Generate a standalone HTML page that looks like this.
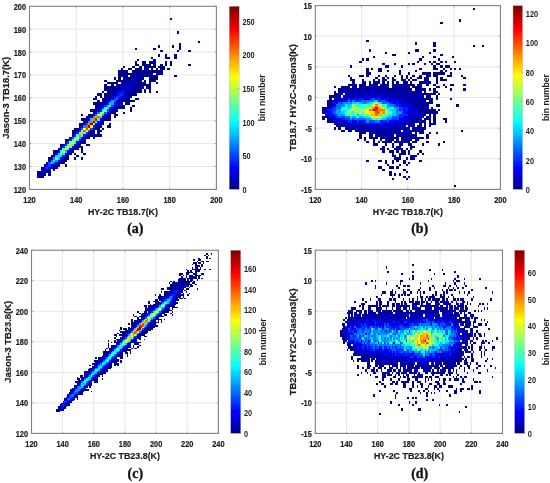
<!DOCTYPE html>
<html><head><meta charset="utf-8"><style>
html,body{margin:0;padding:0;background:#fff;width:550px;height:483px;overflow:hidden}
svg{display:block}
.tl{font-family:'Liberation Sans', Arial, Helvetica, sans-serif;font-size:8.2px;fill:#1e1e1e;font-weight:bold;stroke:#1e1e1e;stroke-width:0.2px}
.cl{font-family:'Liberation Sans', Arial, Helvetica, sans-serif;font-size:8.2px;fill:#1e1e1e;font-weight:bold}
.xl{font-family:'Liberation Sans', Arial, Helvetica, sans-serif;font-size:8.9px;fill:#1e1e1e;font-weight:bold;stroke:#1e1e1e;stroke-width:0.2px}
.yl{font-family:'Liberation Sans', Arial, Helvetica, sans-serif;font-size:9.4px;fill:#1e1e1e;font-weight:bold;stroke:#1e1e1e;stroke-width:0.2px}
.bl{font-family:'Liberation Sans', Arial, Helvetica, sans-serif;font-size:8.6px;fill:#1e1e1e;font-weight:bold}
.pl{font-family:'Liberation Serif','Times New Roman',serif;font-size:14px;font-weight:bold;fill:#111;stroke:#111;stroke-width:0.35px}
</style></head><body>
<svg width="550" height="483" viewBox="0 0 550 483">
<defs><linearGradient id="jet" x1="0" y1="0" x2="0" y2="1"><stop offset="0.01" stop-color="#800000"/><stop offset="0.02" stop-color="#8f0000"/><stop offset="0.04" stop-color="#9f0000"/><stop offset="0.05" stop-color="#af0000"/><stop offset="0.07" stop-color="#bf0000"/><stop offset="0.09" stop-color="#cf0000"/><stop offset="0.1" stop-color="#df0000"/><stop offset="0.12" stop-color="#ef0000"/><stop offset="0.13" stop-color="#ff0000"/><stop offset="0.15" stop-color="#ff1000"/><stop offset="0.16" stop-color="#ff2000"/><stop offset="0.18" stop-color="#ff3000"/><stop offset="0.2" stop-color="#ff4000"/><stop offset="0.21" stop-color="#ff5000"/><stop offset="0.23" stop-color="#ff6000"/><stop offset="0.24" stop-color="#ff7000"/><stop offset="0.26" stop-color="#ff8000"/><stop offset="0.27" stop-color="#ff8f00"/><stop offset="0.29" stop-color="#ff9f00"/><stop offset="0.3" stop-color="#ffaf00"/><stop offset="0.32" stop-color="#ffbf00"/><stop offset="0.34" stop-color="#ffcf00"/><stop offset="0.35" stop-color="#ffdf00"/><stop offset="0.37" stop-color="#ffef00"/><stop offset="0.38" stop-color="#ffff00"/><stop offset="0.4" stop-color="#efff10"/><stop offset="0.41" stop-color="#dfff20"/><stop offset="0.43" stop-color="#cfff30"/><stop offset="0.45" stop-color="#bfff40"/><stop offset="0.46" stop-color="#afff50"/><stop offset="0.48" stop-color="#9fff60"/><stop offset="0.49" stop-color="#8fff70"/><stop offset="0.51" stop-color="#80ff80"/><stop offset="0.52" stop-color="#70ff8f"/><stop offset="0.54" stop-color="#60ff9f"/><stop offset="0.55" stop-color="#50ffaf"/><stop offset="0.57" stop-color="#40ffbf"/><stop offset="0.59" stop-color="#30ffcf"/><stop offset="0.6" stop-color="#20ffdf"/><stop offset="0.62" stop-color="#10ffef"/><stop offset="0.63" stop-color="#00ffff"/><stop offset="0.65" stop-color="#00efff"/><stop offset="0.66" stop-color="#00dfff"/><stop offset="0.68" stop-color="#00cfff"/><stop offset="0.7" stop-color="#00bfff"/><stop offset="0.71" stop-color="#00afff"/><stop offset="0.73" stop-color="#009fff"/><stop offset="0.74" stop-color="#008fff"/><stop offset="0.76" stop-color="#0080ff"/><stop offset="0.77" stop-color="#0070ff"/><stop offset="0.79" stop-color="#0060ff"/><stop offset="0.8" stop-color="#0050ff"/><stop offset="0.82" stop-color="#0040ff"/><stop offset="0.84" stop-color="#0030ff"/><stop offset="0.85" stop-color="#0020ff"/><stop offset="0.87" stop-color="#0010ff"/><stop offset="0.88" stop-color="#0000ff"/><stop offset="0.9" stop-color="#0000ef"/><stop offset="0.91" stop-color="#0000df"/><stop offset="0.93" stop-color="#0000cf"/><stop offset="0.95" stop-color="#0000bf"/><stop offset="0.96" stop-color="#0000af"/><stop offset="0.98" stop-color="#00009f"/><stop offset="0.99" stop-color="#00008f"/></linearGradient></defs>
<rect x="29.5" y="6.3" width="186.9" height="183.1" fill="#fff"/>
<path stroke="#dddddd" stroke-width="0.7" fill="none" d="M76.22 6.3V189.4M122.95 6.3V189.4M169.68 6.3V189.4M29.5 166.51H216.4M29.5 143.62H216.4M29.5 120.74H216.4M29.5 97.85H216.4M29.5 74.96H216.4M29.5 52.08H216.4M29.5 29.19H216.4"/>
<g shape-rendering="crispEdges"><path fill="#00008f" d="M38.84 175.67H43.52V177.96H38.84zM36.51 173.38H38.84V175.67H36.51zM43.52 173.38H45.85V175.67H43.52zM48.19 173.38H50.53V175.67H48.19zM36.51 171.09H38.84V173.38H36.51zM45.85 171.09H50.53V173.38H45.85zM52.86 168.8H55.2V171.09H52.86zM41.18 166.51H43.52V168.8H41.18zM52.86 166.51H57.54V168.8H52.86zM57.54 164.22H59.87V166.51H57.54zM64.54 164.22H66.88V166.51H64.54zM45.85 161.94H48.19V164.22H45.85zM59.87 161.94H64.54V164.22H59.87zM62.21 159.65H66.88V161.94H62.21zM48.19 157.36H50.53V159.65H48.19zM64.54 157.36H69.22V159.65H64.54zM73.89 157.36H76.22V159.65H73.89zM80.9 157.36H83.23V159.65H80.9zM50.53 155.07H52.86V157.36H50.53zM76.22 155.07H78.56V157.36H76.22zM69.22 152.78H71.55V155.07H69.22zM73.89 152.78H76.22V155.07H73.89zM83.23 152.78H85.57V155.07H83.23zM52.86 150.49H57.54V152.78H52.86zM71.55 150.49H73.89V152.78H71.55zM80.9 150.49H83.23V152.78H80.9zM57.54 148.2H59.87V150.49H57.54zM73.89 148.2H78.56V150.49H73.89zM80.9 148.2H83.23V150.49H80.9zM78.56 145.91H83.23V148.2H78.56zM59.87 143.62H62.21V145.91H59.87zM78.56 143.62H80.9V145.91H78.56zM85.57 143.62H90.24V145.91H85.57zM80.9 141.34H85.57V143.62H80.9zM64.54 139.05H66.88V141.34H64.54zM83.23 139.05H85.57V141.34H83.23zM87.91 136.76H90.24V139.05H87.91zM92.58 136.76H94.92V139.05H92.58zM90.24 134.47H101.92V136.76H90.24zM71.55 132.18H73.89V134.47H71.55zM90.24 132.18H94.92V134.47H90.24zM97.25 132.18H99.59V134.47H97.25zM71.55 129.89H76.22V132.18H71.55zM97.25 129.89H101.92V132.18H97.25zM73.89 127.6H78.56V129.89H73.89zM101.92 127.6H104.26V129.89H101.92zM99.59 125.32H101.92V127.6H99.59zM106.6 125.32H111.27V127.6H106.6zM78.56 123.03H80.9V125.32H78.56zM101.92 123.03H104.26V125.32H101.92zM108.93 123.03H111.27V125.32H108.93zM101.92 120.74H104.26V123.03H101.92zM80.9 118.45H87.91V120.74H80.9zM104.26 118.45H111.27V120.74H104.26zM85.57 116.16H87.91V118.45H85.57zM106.6 116.16H111.27V118.45H106.6zM113.61 116.16H115.94V118.45H113.61zM80.9 113.87H83.23V116.16H80.9zM87.91 113.87H90.24V116.16H87.91zM113.61 113.87H118.28V116.16H113.61zM113.61 111.58H115.94V113.87H113.61zM122.95 111.58H125.29V113.87H122.95zM90.24 109.29H97.25V111.58H90.24zM129.96 109.29H132.3V111.58H129.96zM94.92 107.01H97.25V109.29H94.92zM115.94 107.01H125.29V109.29H115.94zM129.96 107.01H132.3V109.29H129.96zM94.92 104.72H99.59V107.01H94.92zM120.61 104.72H125.29V107.01H120.61zM132.3 104.72H134.63V107.01H132.3zM92.58 102.43H99.59V104.72H92.58zM125.29 102.43H129.96V104.72H125.29zM97.25 100.14H99.59V102.43H97.25zM122.95 100.14H134.63V102.43H122.95zM92.58 97.85H97.25V100.14H92.58zM101.92 97.85H106.6V100.14H101.92zM125.29 97.85H129.96V100.14H125.29zM134.63 97.85H139.3V100.14H134.63zM94.92 95.56H97.25V97.85H94.92zM99.59 95.56H101.92V97.85H99.59zM104.26 95.56H106.6V97.85H104.26zM108.93 95.56H111.27V97.85H108.93zM127.62 95.56H132.3V97.85H127.62zM97.25 93.27H101.92V95.56H97.25zM104.26 93.27H111.27V95.56H104.26zM127.62 93.27H136.97V95.56H127.62zM101.92 90.98H104.26V93.27H101.92zM106.6 90.98H111.27V93.27H106.6zM132.3 90.98H141.64V93.27H132.3zM143.98 90.98H146.31V93.27H143.98zM148.65 90.98H150.99V93.27H148.65zM155.66 90.98H157.99V93.27H155.66zM104.26 88.7H115.94V90.98H104.26zM132.3 88.7H141.64V90.98H132.3zM143.98 88.7H146.31V90.98H143.98zM148.65 88.7H150.99V90.98H148.65zM104.26 86.41H113.61V88.7H104.26zM134.63 86.41H143.98V88.7H134.63zM146.31 86.41H150.99V88.7H146.31zM104.26 84.12H106.6V86.41H104.26zM111.27 84.12H113.61V86.41H111.27zM115.94 84.12H118.28V86.41H115.94zM136.97 84.12H150.99V86.41H136.97zM106.6 81.83H118.28V84.12H106.6zM139.3 81.83H141.64V84.12H139.3zM143.98 81.83H146.31V84.12H143.98zM148.65 81.83H150.99V84.12H148.65zM155.66 81.83H157.99V84.12H155.66zM104.26 79.54H106.6V81.83H104.26zM115.94 79.54H122.95V81.83H115.94zM129.96 79.54H132.3V81.83H129.96zM136.97 79.54H141.64V81.83H136.97zM143.98 79.54H146.31V81.83H143.98zM148.65 79.54H155.66V81.83H148.65zM113.61 77.25H115.94V79.54H113.61zM118.28 77.25H120.61V79.54H118.28zM122.95 77.25H125.29V79.54H122.95zM127.62 77.25H132.3V79.54H127.62zM141.64 77.25H143.98V79.54H141.64zM148.65 77.25H157.99V79.54H148.65zM118.28 74.96H127.62V77.25H118.28zM132.3 74.96H134.63V77.25H132.3zM141.64 74.96H143.98V77.25H141.64zM146.31 74.96H157.99V77.25H146.31zM174.35 74.96H176.68V77.25H174.35zM118.28 72.67H134.63V74.96H118.28zM136.97 72.67H139.3V74.96H136.97zM143.98 72.67H153.32V74.96H143.98zM155.66 72.67H162.67V74.96H155.66zM118.28 70.39H127.62V72.67H118.28zM132.3 70.39H162.67V72.67H132.3zM120.61 68.1H122.95V70.39H120.61zM127.62 68.1H132.3V70.39H127.62zM134.63 68.1H141.64V70.39H134.63zM146.31 68.1H148.65V70.39H146.31zM150.99 68.1H153.32V70.39H150.99zM155.66 68.1H157.99V70.39H155.66zM160.33 68.1H165V70.39H160.33zM167.34 68.1H169.68V70.39H167.34zM122.95 65.81H125.29V68.1H122.95zM132.3 65.81H134.63V68.1H132.3zM139.3 65.81H141.64V68.1H139.3zM143.98 65.81H155.66V68.1H143.98zM157.99 65.81H165V68.1H157.99zM134.63 63.52H139.3V65.81H134.63zM141.64 63.52H150.99V65.81H141.64zM153.32 63.52H155.66V65.81H153.32zM160.33 63.52H162.67V65.81H160.33zM165 63.52H167.34V65.81H165zM169.68 63.52H172.01V65.81H169.68zM188.37 63.52H190.7V65.81H188.37zM134.63 61.23H136.97V63.52H134.63zM141.64 61.23H146.31V63.52H141.64zM148.65 61.23H155.66V63.52H148.65zM165 61.23H167.34V63.52H165zM169.68 61.23H172.01V63.52H169.68zM136.97 58.94H139.3V61.23H136.97zM153.32 58.94H155.66V61.23H153.32zM150.99 56.65H153.32V58.94H150.99zM165 56.65H169.68V58.94H165zM174.35 56.65H176.68V58.94H174.35zM157.99 54.36H160.33V56.65H157.99zM165 54.36H167.34V56.65H165zM174.35 54.36H176.68V56.65H174.35zM160.33 49.79H162.67V52.08H160.33zM176.68 49.79H179.02V52.08H176.68zM188.37 49.79H190.7V52.08H188.37zM134.63 47.5H136.97V49.79H134.63zM153.32 47.5H155.66V49.79H153.32zM179.02 47.5H181.36V49.79H179.02zM157.99 45.21H160.33V47.5H157.99zM172.01 45.21H174.35V47.5H172.01zM179.02 45.21H181.36V47.5H179.02zM179.02 42.92H181.36V45.21H179.02zM197.71 40.63H200.05V42.92H197.71zM176.68 31.48H179.02V33.77H176.68zM169.68 17.74H172.01V20.03H169.68z"/>
<path fill="#00009f" d="M36.51 175.67H38.84V177.96H36.51zM41.18 173.38H43.52V175.67H41.18zM43.52 164.22H45.85V166.51H43.52zM55.2 164.22H57.54V166.51H55.2zM59.87 159.65H62.21V161.94H59.87zM66.88 155.07H69.22V157.36H66.88zM52.86 152.78H55.2V155.07H52.86zM71.55 148.2H73.89V150.49H71.55zM59.87 145.91H62.21V148.2H59.87zM76.22 145.91H78.56V148.2H76.22zM62.21 143.62H64.54V145.91H62.21zM76.22 143.62H78.56V145.91H76.22zM80.9 139.05H83.23V141.34H80.9zM85.57 136.76H87.91V139.05H85.57zM87.91 134.47H90.24V136.76H87.91zM73.89 132.18H76.22V134.47H73.89zM90.24 129.89H92.58V132.18H90.24zM94.92 127.6H99.59V129.89H94.92zM78.56 125.32H80.9V127.6H78.56zM94.92 125.32H99.59V127.6H94.92zM80.9 123.03H83.23V125.32H80.9zM99.59 123.03H101.92V125.32H99.59zM83.23 120.74H85.57V123.03H83.23zM87.91 116.16H90.24V118.45H87.91zM104.26 116.16H106.6V118.45H104.26zM90.24 113.87H92.58V116.16H90.24zM108.93 113.87H111.27V116.16H108.93zM92.58 111.58H94.92V113.87H92.58zM111.27 111.58H113.61V113.87H111.27zM113.61 109.29H118.28V111.58H113.61zM97.25 107.01H99.59V109.29H97.25zM118.28 104.72H120.61V107.01H118.28zM99.59 102.43H101.92V104.72H99.59zM118.28 102.43H122.95V104.72H118.28zM101.92 100.14H104.26V102.43H101.92zM106.6 95.56H108.93V97.85H106.6zM125.29 95.56H127.62V97.85H125.29zM111.27 93.27H113.61V95.56H111.27zM125.29 93.27H127.62V95.56H125.29zM111.27 90.98H115.94V93.27H111.27zM129.96 90.98H132.3V93.27H129.96zM115.94 88.7H118.28V90.98H115.94zM129.96 88.7H132.3V90.98H129.96zM113.61 86.41H120.61V88.7H113.61zM118.28 84.12H122.95V86.41H118.28zM120.61 81.83H127.62V84.12H120.61zM141.64 81.83H143.98V84.12H141.64zM122.95 79.54H129.96V81.83H122.95zM125.29 77.25H127.62V79.54H125.29zM136.97 77.25H141.64V79.54H136.97zM136.97 74.96H141.64V77.25H136.97zM143.98 74.96H146.31V77.25H143.98zM134.63 72.67H136.97V74.96H134.63zM139.3 72.67H141.64V74.96H139.3z"/>
<path fill="#0000af" d="M38.84 173.38H41.18V175.67H38.84zM38.84 171.09H41.18V173.38H38.84zM43.52 171.09H45.85V173.38H43.52zM48.19 168.8H50.53V171.09H48.19zM55.2 161.94H59.87V164.22H55.2zM48.19 159.65H50.53V161.94H48.19zM64.54 155.07H66.88V157.36H64.54zM73.89 145.91H76.22V148.2H73.89zM64.54 141.34H66.88V143.62H64.54zM78.56 141.34H80.9V143.62H78.56zM66.88 139.05H69.22V141.34H66.88zM83.23 136.76H85.57V139.05H83.23zM76.22 129.89H78.56V132.18H76.22zM92.58 129.89H94.92V132.18H92.58zM78.56 127.6H80.9V129.89H78.56zM92.58 127.6H94.92V129.89H92.58zM97.25 123.03H99.59V125.32H97.25zM99.59 120.74H101.92V123.03H99.59zM101.92 118.45H104.26V120.74H101.92zM90.24 116.16H92.58V118.45H90.24zM106.6 113.87H108.93V116.16H106.6zM108.93 111.58H111.27V113.87H108.93zM111.27 109.29H113.61V111.58H111.27zM113.61 107.01H115.94V109.29H113.61zM115.94 104.72H118.28V107.01H115.94zM101.92 102.43H106.6V104.72H101.92zM104.26 100.14H108.93V102.43H104.26zM118.28 100.14H122.95V102.43H118.28zM106.6 97.85H111.27V100.14H106.6zM120.61 97.85H125.29V100.14H120.61zM122.95 95.56H125.29V97.85H122.95zM127.62 90.98H129.96V93.27H127.62zM118.28 88.7H120.61V90.98H118.28zM120.61 86.41H122.95V88.7H120.61zM129.96 86.41H132.3V88.7H129.96zM122.95 84.12H125.29V86.41H122.95zM132.3 84.12H136.97V86.41H132.3zM127.62 81.83H129.96V84.12H127.62zM134.63 81.83H139.3V84.12H134.63zM134.63 79.54H136.97V81.83H134.63zM132.3 77.25H136.97V79.54H132.3zM129.96 74.96H132.3V77.25H129.96zM134.63 74.96H136.97V77.25H134.63zM141.64 72.67H143.98V74.96H141.64zM143.98 68.1H146.31V70.39H143.98z"/>
<path fill="#0000bf" d="M50.53 166.51H52.86V168.8H50.53zM52.86 164.22H55.2V166.51H52.86zM50.53 157.36H52.86V159.65H50.53zM62.21 157.36H64.54V159.65H62.21zM55.2 152.78H57.54V155.07H55.2zM66.88 152.78H69.22V155.07H66.88zM69.22 150.49H71.55V152.78H69.22zM69.22 136.76H71.55V139.05H69.22zM87.91 132.18H90.24V134.47H87.91zM80.9 125.32H83.23V127.6H80.9zM83.23 123.03H85.57V125.32H83.23zM92.58 113.87H94.92V116.16H92.58zM99.59 104.72H101.92V107.01H99.59zM111.27 95.56H113.61V97.85H111.27zM113.61 93.27H115.94V95.56H113.61zM125.29 90.98H127.62V93.27H125.29zM127.62 88.7H129.96V90.98H127.62zM122.95 86.41H127.62V88.7H122.95zM132.3 86.41H134.63V88.7H132.3zM125.29 84.12H129.96V86.41H125.29zM129.96 81.83H134.63V84.12H129.96z"/>
<path fill="#0000cf" d="M41.18 171.09H43.52V173.38H41.18zM41.18 168.8H43.52V171.09H41.18zM45.85 168.8H48.19V171.09H45.85zM71.55 134.47H73.89V136.76H71.55zM85.57 134.47H87.91V136.76H85.57zM85.57 120.74H87.91V123.03H85.57zM87.91 118.45H90.24V120.74H87.91zM104.26 113.87H106.6V116.16H104.26zM97.25 109.29H99.59V111.58H97.25zM108.93 109.29H111.27V111.58H108.93zM99.59 107.01H101.92V109.29H99.59zM111.27 107.01H113.61V109.29H111.27zM113.61 104.72H115.94V107.01H113.61zM115.94 102.43H118.28V104.72H115.94zM120.61 95.56H122.95V97.85H120.61zM115.94 93.27H118.28V95.56H115.94zM122.95 93.27H125.29V95.56H122.95zM115.94 90.98H118.28V93.27H115.94zM120.61 88.7H125.29V90.98H120.61zM132.3 79.54H134.63V81.83H132.3z"/>
<path fill="#0000df" d="M43.52 166.51H45.85V168.8H43.52zM45.85 164.22H48.19V166.51H45.85zM52.86 155.07H55.2V157.36H52.86zM57.54 150.49H59.87V152.78H57.54zM101.92 116.16H104.26V118.45H101.92zM94.92 111.58H97.25V113.87H94.92zM106.6 111.58H108.93V113.87H106.6zM101.92 104.72H104.26V107.01H101.92zM115.94 100.14H118.28V102.43H115.94zM118.28 90.98H120.61V93.27H118.28zM125.29 88.7H127.62V90.98H125.29zM127.62 86.41H129.96V88.7H127.62z"/>
<path fill="#0000ef" d="M50.53 164.22H52.86V166.51H50.53zM57.54 159.65H59.87V161.94H57.54zM59.87 157.36H62.21V159.65H59.87zM64.54 152.78H66.88V155.07H64.54zM66.88 150.49H69.22V152.78H66.88zM59.87 148.2H62.21V150.49H59.87zM76.22 141.34H78.56V143.62H76.22zM99.59 118.45H101.92V120.74H99.59zM111.27 97.85H113.61V100.14H111.27zM118.28 97.85H120.61V100.14H118.28zM129.96 84.12H132.3V86.41H129.96z"/>
<path fill="#0000ff" d="M69.22 148.2H71.55V150.49H69.22zM80.9 136.76H83.23V139.05H80.9zM97.25 120.74H99.59V123.03H97.25zM113.61 102.43H115.94V104.72H113.61zM113.61 95.56H115.94V97.85H113.61z"/>
<path fill="#0010ff" d="M43.52 168.8H45.85V171.09H43.52zM48.19 166.51H50.53V168.8H48.19zM71.55 145.91H73.89V148.2H71.55zM73.89 143.62H76.22V145.91H73.89zM94.92 123.03H97.25V125.32H94.92zM108.93 107.01H111.27V109.29H108.93zM106.6 102.43H108.93V104.72H106.6zM108.93 100.14H111.27V102.43H108.93zM120.61 90.98H125.29V93.27H120.61z"/>
<path fill="#0020ff" d="M73.89 134.47H76.22V136.76H73.89zM83.23 134.47H85.57V136.76H83.23zM76.22 132.18H78.56V134.47H76.22zM78.56 129.89H80.9V132.18H78.56zM99.59 109.29H101.92V111.58H99.59zM118.28 93.27H120.61V95.56H118.28z"/>
<path fill="#0030ff" d="M62.21 155.07H64.54V157.36H62.21zM62.21 145.91H64.54V148.2H62.21zM66.88 141.34H69.22V143.62H66.88zM69.22 139.05H71.55V141.34H69.22zM78.56 139.05H80.9V141.34H78.56zM92.58 125.32H94.92V127.6H92.58zM101.92 107.01H104.26V109.29H101.92zM104.26 104.72H106.6V107.01H104.26zM118.28 95.56H120.61V97.85H118.28zM120.61 93.27H122.95V95.56H120.61z"/>
<path fill="#0040ff" d="M48.19 164.22H50.53V166.51H48.19zM64.54 143.62H66.88V145.91H64.54zM85.57 132.18H87.91V134.47H85.57zM111.27 104.72H113.61V107.01H111.27zM113.61 97.85H115.94V100.14H113.61zM115.94 95.56H118.28V97.85H115.94z"/>
<path fill="#0050ff" d="M45.85 166.51H48.19V168.8H45.85zM71.55 136.76H73.89V139.05H71.55zM90.24 127.6H92.58V129.89H90.24zM106.6 109.29H108.93V111.58H106.6z"/>
<path fill="#0060ff" d="M48.19 161.94H50.53V164.22H48.19zM87.91 129.89H90.24V132.18H87.91zM85.57 123.03H87.91V125.32H85.57z"/>
<path fill="#0070ff" d="M52.86 161.94H55.2V164.22H52.86zM50.53 159.65H52.86V161.94H50.53zM80.9 127.6H83.23V129.89H80.9zM94.92 113.87H97.25V116.16H94.92zM104.26 111.58H106.6V113.87H104.26zM113.61 100.14H115.94V102.43H113.61zM115.94 97.85H118.28V100.14H115.94z"/>
<path fill="#0080ff" d="M83.23 125.32H85.57V127.6H83.23zM97.25 111.58H99.59V113.87H97.25z"/>
<path fill="#008fff" d="M55.2 159.65H57.54V161.94H55.2zM52.86 157.36H55.2V159.65H52.86z"/>
<path fill="#009fff" d="M92.58 116.16H94.92V118.45H92.58zM101.92 113.87H104.26V116.16H101.92z"/>
<path fill="#00afff" d="M87.91 120.74H90.24V123.03H87.91zM111.27 102.43H113.61V104.72H111.27zM111.27 100.14H113.61V102.43H111.27z"/>
<path fill="#00bfff" d="M64.54 150.49H66.88V152.78H64.54zM78.56 136.76H80.9V139.05H78.56zM108.93 102.43H111.27V104.72H108.93z"/>
<path fill="#00cfff" d="M57.54 157.36H59.87V159.65H57.54zM55.2 155.07H57.54V157.36H55.2zM59.87 155.07H62.21V157.36H59.87zM57.54 152.78H59.87V155.07H57.54zM90.24 118.45H92.58V120.74H90.24z"/>
<path fill="#00dfff" d="M50.53 161.94H52.86V164.22H50.53zM106.6 104.72H108.93V107.01H106.6z"/>
<path fill="#00efff" d="M52.86 159.65H55.2V161.94H52.86zM62.21 152.78H64.54V155.07H62.21zM99.59 116.16H101.92V118.45H99.59z"/>
<path fill="#00ffff" d="M106.6 107.01H108.93V109.29H106.6z"/>
<path fill="#10ffef" d="M57.54 155.07H59.87V157.36H57.54zM59.87 150.49H62.21V152.78H59.87zM97.25 118.45H99.59V120.74H97.25z"/>
<path fill="#20ffdf" d="M66.88 143.62H69.22V145.91H66.88zM71.55 143.62H73.89V145.91H71.55zM73.89 141.34H76.22V143.62H73.89zM108.93 104.72H111.27V107.01H108.93z"/>
<path fill="#30ffcf" d="M71.55 139.05H73.89V141.34H71.55zM76.22 139.05H78.56V141.34H76.22zM73.89 136.76H76.22V139.05H73.89zM83.23 132.18H85.57V134.47H83.23zM104.26 107.01H106.6V109.29H104.26z"/>
<path fill="#40ffbf" d="M62.21 148.2H64.54V150.49H62.21zM69.22 145.91H71.55V148.2H69.22zM80.9 134.47H83.23V136.76H80.9zM101.92 109.29H104.26V111.58H101.92z"/>
<path fill="#50ffaf" d="M55.2 157.36H57.54V159.65H55.2zM64.54 145.91H66.88V148.2H64.54zM76.22 134.47H78.56V136.76H76.22zM104.26 109.29H106.6V111.58H104.26z"/>
<path fill="#60ff9f" d="M80.9 129.89H83.23V132.18H80.9z"/>
<path fill="#70ff8f" d="M59.87 152.78H62.21V155.07H59.87zM66.88 148.2H69.22V150.49H66.88zM94.92 120.74H97.25V123.03H94.92z"/>
<path fill="#8fff70" d="M62.21 150.49H64.54V152.78H62.21zM69.22 141.34H71.55V143.62H69.22zM76.22 136.76H78.56V139.05H76.22zM78.56 132.18H80.9V134.47H78.56zM92.58 123.03H94.92V125.32H92.58zM101.92 111.58H104.26V113.87H101.92z"/>
<path fill="#9fff60" d="M85.57 129.89H87.91V132.18H85.57z"/>
<path fill="#afff50" d="M99.59 111.58H101.92V113.87H99.59z"/>
<path fill="#bfff40" d="M97.25 113.87H99.59V116.16H97.25z"/>
<path fill="#cfff30" d="M99.59 113.87H101.92V116.16H99.59z"/>
<path fill="#dfff20" d="M64.54 148.2H66.88V150.49H64.54zM71.55 141.34H73.89V143.62H71.55zM73.89 139.05H76.22V141.34H73.89z"/>
<path fill="#efff10" d="M66.88 145.91H69.22V148.2H66.88zM83.23 127.6H85.57V129.89H83.23z"/>
<path fill="#ffff00" d="M90.24 125.32H92.58V127.6H90.24z"/>
<path fill="#ffef00" d="M87.91 127.6H90.24V129.89H87.91z"/>
<path fill="#ffdf00" d="M69.22 143.62H71.55V145.91H69.22z"/>
<path fill="#ffbf00" d="M80.9 132.18H83.23V134.47H80.9z"/>
<path fill="#ffaf00" d="M94.92 116.16H97.25V118.45H94.92z"/>
<path fill="#ff8f00" d="M78.56 134.47H80.9V136.76H78.56zM92.58 118.45H94.92V120.74H92.58z"/>
<path fill="#ff8000" d="M87.91 123.03H90.24V125.32H87.91z"/>
<path fill="#ff7000" d="M90.24 120.74H92.58V123.03H90.24z"/>
<path fill="#ff6000" d="M83.23 129.89H85.57V132.18H83.23zM97.25 116.16H99.59V118.45H97.25z"/>
<path fill="#ff5000" d="M85.57 125.32H87.91V127.6H85.57z"/>
<path fill="#ff4000" d="M85.57 127.6H87.91V129.89H85.57z"/>
<path fill="#ef0000" d="M94.92 118.45H97.25V120.74H94.92z"/>
<path fill="#9f0000" d="M87.91 125.32H90.24V127.6H87.91zM92.58 120.74H94.92V123.03H92.58z"/>
<path fill="#800000" d="M90.24 123.03H92.58V125.32H90.24z"/></g>
<path stroke="#828282" stroke-width="0.6" fill="none" d="M29.5 189.4v-1.8M29.5 6.3v1.8M76.22 189.4v-1.8M76.22 6.3v1.8M122.95 189.4v-1.8M122.95 6.3v1.8M169.68 189.4v-1.8M169.68 6.3v1.8M216.4 189.4v-1.8M216.4 6.3v1.8M29.5 189.4h1.8M216.4 189.4h-1.8M29.5 166.51h1.8M216.4 166.51h-1.8M29.5 143.62h1.8M216.4 143.62h-1.8M29.5 120.74h1.8M216.4 120.74h-1.8M29.5 97.85h1.8M216.4 97.85h-1.8M29.5 74.96h1.8M216.4 74.96h-1.8M29.5 52.08h1.8M216.4 52.08h-1.8M29.5 29.19h1.8M216.4 29.19h-1.8M29.5 6.3h1.8M216.4 6.3h-1.8"/>
<rect x="29.5" y="6.3" width="186.9" height="183.1" fill="none" stroke="#828282" stroke-width="1.1"/>
<text x="29.5" y="202.6" class="tl" text-anchor="middle" textLength="12.31" lengthAdjust="spacingAndGlyphs">120</text>
<text x="76.22" y="202.6" class="tl" text-anchor="middle" textLength="12.31" lengthAdjust="spacingAndGlyphs">140</text>
<text x="122.95" y="202.6" class="tl" text-anchor="middle" textLength="12.31" lengthAdjust="spacingAndGlyphs">160</text>
<text x="169.68" y="202.6" class="tl" text-anchor="middle" textLength="12.31" lengthAdjust="spacingAndGlyphs">180</text>
<text x="216.4" y="202.6" class="tl" text-anchor="middle" textLength="12.31" lengthAdjust="spacingAndGlyphs">200</text>
<text x="26" y="192.9" class="tl" text-anchor="end" textLength="12.31" lengthAdjust="spacingAndGlyphs">120</text>
<text x="26" y="170.01" class="tl" text-anchor="end" textLength="12.31" lengthAdjust="spacingAndGlyphs">130</text>
<text x="26" y="147.12" class="tl" text-anchor="end" textLength="12.31" lengthAdjust="spacingAndGlyphs">140</text>
<text x="26" y="124.24" class="tl" text-anchor="end" textLength="12.31" lengthAdjust="spacingAndGlyphs">150</text>
<text x="26" y="101.35" class="tl" text-anchor="end" textLength="12.31" lengthAdjust="spacingAndGlyphs">160</text>
<text x="26" y="78.46" class="tl" text-anchor="end" textLength="12.31" lengthAdjust="spacingAndGlyphs">170</text>
<text x="26" y="55.58" class="tl" text-anchor="end" textLength="12.31" lengthAdjust="spacingAndGlyphs">180</text>
<text x="26" y="32.69" class="tl" text-anchor="end" textLength="12.31" lengthAdjust="spacingAndGlyphs">190</text>
<text x="26" y="9.8" class="tl" text-anchor="end" textLength="12.31" lengthAdjust="spacingAndGlyphs">200</text>
<text x="122.95" y="214.7" class="xl" text-anchor="middle">HY-2C TB18.7(K)</text>
<text transform="translate(8.5 97.85) rotate(-90)" class="yl" text-anchor="middle">Jason-3 TB18.7(K)</text>
<rect x="229.2" y="6.3" width="10" height="183.1" fill="url(#jet)"/>
<rect x="229.2" y="6.3" width="10" height="183.1" fill="none" stroke="#bbb" stroke-width="0.4"/>
<text x="242.4" y="192.9" class="cl" textLength="4.1" lengthAdjust="spacingAndGlyphs">0</text>
<text x="242.4" y="159.24" class="cl" textLength="8.21" lengthAdjust="spacingAndGlyphs">50</text>
<text x="242.4" y="125.58" class="cl" textLength="12.31" lengthAdjust="spacingAndGlyphs">100</text>
<text x="242.4" y="91.93" class="cl" textLength="12.31" lengthAdjust="spacingAndGlyphs">150</text>
<text x="242.4" y="58.27" class="cl" textLength="12.31" lengthAdjust="spacingAndGlyphs">200</text>
<text x="242.4" y="24.61" class="cl" textLength="12.31" lengthAdjust="spacingAndGlyphs">250</text>
<path stroke="#828282" stroke-width="0.6" fill="none" d="M239.2 189.4h-1.5M239.2 155.74h-1.5M239.2 122.08h-1.5M239.2 88.43h-1.5M239.2 54.77h-1.5M239.2 21.11h-1.5"/>
<text transform="translate(265.3 97.85) rotate(-90)" class="bl" text-anchor="middle">bin number</text>
<text x="135.3" y="233.1" class="pl" text-anchor="middle">(a)</text>
<rect x="315.3" y="5.6" width="185.1" height="183.8" fill="#fff"/>
<path stroke="#dddddd" stroke-width="0.7" fill="none" d="M361.57 5.6V189.4M407.85 5.6V189.4M454.12 5.6V189.4M315.3 158.77H500.4M315.3 128.13H500.4M315.3 97.5H500.4M315.3 66.87H500.4M315.3 36.23H500.4"/>
<g shape-rendering="crispEdges"><path fill="#00008f" d="M454.12 184.81H456.44V187.1H454.12zM391.65 177.91H393.97V180.21H391.65zM405.54 177.91H407.85V180.21H405.54zM403.22 175.62H405.54V177.91H403.22zM407.85 175.62H410.16V177.91H407.85zM389.34 173.32H391.65V175.62H389.34zM393.97 173.32H396.28V175.62H393.97zM398.6 173.32H400.91V175.62H398.6zM389.34 171.02H391.65V173.32H389.34zM405.54 171.02H407.85V173.32H405.54zM382.4 168.72H384.71V171.02H382.4zM403.22 168.72H405.54V171.02H403.22zM377.77 166.43H382.4V168.72H377.77zM389.34 166.43H393.97V168.72H389.34zM396.28 166.43H398.6V168.72H396.28zM387.03 164.13H389.34V166.43H387.03zM398.6 164.13H400.91V166.43H398.6zM405.54 164.13H407.85V166.43H405.54zM384.71 161.83H387.03V164.13H384.71zM391.65 161.83H393.97V164.13H391.65zM403.22 161.83H405.54V164.13H403.22zM407.85 161.83H410.16V164.13H407.85zM366.2 159.53H368.52V161.83H366.2zM377.77 159.53H382.4V161.83H377.77zM391.65 159.53H393.97V161.83H391.65zM396.28 159.53H398.6V161.83H396.28zM419.42 159.53H421.73V161.83H419.42zM393.97 157.24H400.91V159.53H393.97zM405.54 157.24H407.85V159.53H405.54zM410.16 157.24H414.79V159.53H410.16zM393.97 154.94H396.28V157.24H393.97zM398.6 154.94H400.91V157.24H398.6zM410.16 154.94H417.11V157.24H410.16zM391.65 152.64H393.97V154.94H391.65zM398.6 152.64H405.54V154.94H398.6zM417.11 152.64H419.42V154.94H417.11zM421.73 152.64H424.05V154.94H421.73zM382.4 150.34H384.71V152.64H382.4zM391.65 150.34H393.97V152.64H391.65zM400.91 150.34H403.22V152.64H400.91zM407.85 150.34H410.16V152.64H407.85zM419.42 150.34H421.73V152.64H419.42zM382.4 148.05H384.71V150.34H382.4zM398.6 148.05H403.22V150.34H398.6zM405.54 148.05H407.85V150.34H405.54zM410.16 148.05H412.48V150.34H410.16zM382.4 145.75H384.71V148.05H382.4zM391.65 145.75H393.97V148.05H391.65zM396.28 145.75H400.91V148.05H396.28zM410.16 145.75H414.79V148.05H410.16zM373.14 143.45H377.77V145.75H373.14zM384.71 143.45H387.03V145.75H384.71zM400.91 143.45H403.22V145.75H400.91zM421.73 143.45H424.05V145.75H421.73zM437.93 143.45H440.24V145.75H437.93zM366.2 141.15H368.52V143.45H366.2zM373.14 141.15H375.46V143.45H373.14zM377.77 141.15H380.09V143.45H377.77zM384.71 141.15H389.34V143.45H384.71zM400.91 141.15H403.22V143.45H400.91zM407.85 141.15H410.16V143.45H407.85zM412.48 141.15H417.11V143.45H412.48zM426.36 141.15H428.67V143.45H426.36zM442.56 141.15H444.87V143.45H442.56zM356.95 138.86H359.26V141.15H356.95zM363.89 138.86H366.2V141.15H363.89zM373.14 138.86H375.46V141.15H373.14zM380.09 138.86H382.4V141.15H380.09zM403.22 138.86H405.54V141.15H403.22zM410.16 138.86H412.48V141.15H410.16zM417.11 138.86H419.42V141.15H417.11zM359.26 136.56H361.57V138.86H359.26zM363.89 136.56H366.2V138.86H363.89zM368.52 136.56H373.14V138.86H368.52zM375.46 136.56H377.77V138.86H375.46zM380.09 136.56H382.4V138.86H380.09zM412.48 136.56H417.11V138.86H412.48zM421.73 136.56H424.05V138.86H421.73zM426.36 136.56H428.67V138.86H426.36zM359.26 134.26H361.57V136.56H359.26zM412.48 134.26H414.79V136.56H412.48zM426.36 134.26H428.67V136.56H426.36zM359.26 131.96H363.89V134.26H359.26zM380.09 131.96H384.71V134.26H380.09zM398.6 131.96H400.91V134.26H398.6zM414.79 131.96H417.11V134.26H414.79zM421.73 131.96H424.05V134.26H421.73zM428.67 131.96H430.99V134.26H428.67zM435.62 131.96H437.93V134.26H435.62zM340.75 129.67H345.38V131.96H340.75zM347.69 129.67H350.01V131.96H347.69zM354.63 129.67H356.95V131.96H354.63zM359.26 129.67H361.57V131.96H359.26zM375.46 129.67H377.77V131.96H375.46zM380.09 129.67H382.4V131.96H380.09zM389.34 129.67H391.65V131.96H389.34zM407.85 129.67H410.16V131.96H407.85zM461.07 129.67H463.38V131.96H461.07zM333.81 127.37H336.12V129.67H333.81zM347.69 127.37H350.01V129.67H347.69zM412.48 127.37H414.79V129.67H412.48zM417.11 127.37H424.05V129.67H417.11zM340.75 125.07H343.06V127.37H340.75zM417.11 125.07H419.42V127.37H417.11zM424.05 125.07H426.36V127.37H424.05zM428.67 125.07H430.99V127.37H428.67zM428.67 122.77H430.99V125.07H428.67zM433.3 122.77H435.62V125.07H433.3zM326.87 120.48H331.5V122.77H326.87zM414.79 120.48H417.11V122.77H414.79zM419.42 120.48H421.73V122.77H419.42zM424.05 120.48H426.36V122.77H424.05zM428.67 120.48H430.99V122.77H428.67zM433.3 120.48H435.62V122.77H433.3zM444.87 120.48H447.18V122.77H444.87zM322.24 118.18H324.56V120.48H322.24zM326.87 118.18H329.18V120.48H326.87zM331.5 118.18H333.81V120.48H331.5zM424.05 118.18H428.67V120.48H424.05zM433.3 118.18H435.62V120.48H433.3zM442.56 118.18H447.18V120.48H442.56zM322.24 115.88H324.56V118.18H322.24zM426.36 115.88H428.67V118.18H426.36zM433.3 115.88H435.62V118.18H433.3zM433.3 113.58H435.62V115.88H433.3zM424.05 111.28H426.36V113.58H424.05zM430.99 111.28H437.93V113.58H430.99zM322.24 108.99H324.56V111.28H322.24zM421.73 108.99H424.05V111.28H421.73zM430.99 108.99H435.62V111.28H430.99zM437.93 108.99H440.24V111.28H437.93zM322.24 106.69H326.87V108.99H322.24zM430.99 106.69H433.3V108.99H430.99zM414.79 104.39H417.11V106.69H414.79zM421.73 104.39H424.05V106.69H421.73zM435.62 104.39H437.93V106.69H435.62zM456.44 104.39H458.75V106.69H456.44zM426.36 102.09H428.67V104.39H426.36zM331.5 99.8H333.81V102.09H331.5zM430.99 99.8H433.3V102.09H430.99zM329.18 97.5H331.5V99.8H329.18zM424.05 97.5H428.67V99.8H424.05zM430.99 97.5H433.3V99.8H430.99zM435.62 97.5H437.93V99.8H435.62zM449.5 97.5H451.81V99.8H449.5zM329.18 95.2H333.81V97.5H329.18zM426.36 95.2H430.99V97.5H426.36zM435.62 95.2H437.93V97.5H435.62zM333.81 92.91H338.44V95.2H333.81zM340.75 92.91H343.06V95.2H340.75zM405.54 92.91H407.85V95.2H405.54zM410.16 92.91H412.48V95.2H410.16zM417.11 92.91H419.42V95.2H417.11zM421.73 92.91H426.36V95.2H421.73zM428.67 92.91H435.62V95.2H428.67zM437.93 92.91H440.24V95.2H437.93zM333.81 90.61H336.12V92.91H333.81zM338.44 90.61H340.75V92.91H338.44zM345.38 90.61H347.69V92.91H345.38zM356.95 90.61H359.26V92.91H356.95zM377.77 90.61H380.09V92.91H377.77zM384.71 90.61H387.03V92.91H384.71zM417.11 90.61H419.42V92.91H417.11zM424.05 90.61H426.36V92.91H424.05zM340.75 88.31H343.06V90.61H340.75zM366.2 88.31H368.52V90.61H366.2zM410.16 88.31H412.48V90.61H410.16zM417.11 88.31H424.05V90.61H417.11zM428.67 88.31H430.99V90.61H428.67zM449.5 88.31H451.81V90.61H449.5zM463.38 88.31H465.69V90.61H463.38zM333.81 86.01H336.12V88.31H333.81zM340.75 86.01H343.06V88.31H340.75zM347.69 86.01H350.01V88.31H347.69zM354.63 86.01H356.95V88.31H354.63zM363.89 86.01H366.2V88.31H363.89zM375.46 86.01H377.77V88.31H375.46zM382.4 86.01H384.71V88.31H382.4zM407.85 86.01H410.16V88.31H407.85zM417.11 86.01H421.73V88.31H417.11zM435.62 86.01H437.93V88.31H435.62zM444.87 86.01H447.18V88.31H444.87zM350.01 83.72H352.32V86.01H350.01zM354.63 83.72H356.95V86.01H354.63zM361.57 83.72H366.2V86.01H361.57zM368.52 83.72H373.14V86.01H368.52zM375.46 83.72H377.77V86.01H375.46zM382.4 83.72H387.03V86.01H382.4zM393.97 83.72H396.28V86.01H393.97zM400.91 83.72H403.22V86.01H400.91zM412.48 83.72H414.79V86.01H412.48zM417.11 83.72H421.73V86.01H417.11zM449.5 83.72H454.12V86.01H449.5zM463.38 83.72H465.69V86.01H463.38zM352.32 81.42H354.63V83.72H352.32zM361.57 81.42H366.2V83.72H361.57zM368.52 81.42H370.83V83.72H368.52zM387.03 81.42H389.34V83.72H387.03zM396.28 81.42H398.6V83.72H396.28zM403.22 81.42H405.54V83.72H403.22zM410.16 81.42H412.48V83.72H410.16zM419.42 81.42H421.73V83.72H419.42zM424.05 81.42H426.36V83.72H424.05zM428.67 81.42H430.99V83.72H428.67zM435.62 81.42H437.93V83.72H435.62zM350.01 79.12H354.63V81.42H350.01zM361.57 79.12H363.89V81.42H361.57zM373.14 79.12H375.46V81.42H373.14zM377.77 79.12H380.09V81.42H377.77zM384.71 79.12H387.03V81.42H384.71zM391.65 79.12H396.28V81.42H391.65zM403.22 79.12H405.54V81.42H403.22zM407.85 79.12H410.16V81.42H407.85zM412.48 79.12H414.79V81.42H412.48zM424.05 79.12H428.67V81.42H424.05zM435.62 79.12H437.93V81.42H435.62zM442.56 79.12H447.18V81.42H442.56zM350.01 76.82H352.32V79.12H350.01zM375.46 76.82H377.77V79.12H375.46zM387.03 76.82H389.34V79.12H387.03zM391.65 76.82H393.97V79.12H391.65zM400.91 76.82H403.22V79.12H400.91zM410.16 76.82H412.48V79.12H410.16zM417.11 76.82H421.73V79.12H417.11zM435.62 76.82H437.93V79.12H435.62zM440.24 76.82H442.56V79.12H440.24zM463.38 76.82H465.69V79.12H463.38zM347.69 74.53H350.01V76.82H347.69zM359.26 74.53H361.57V76.82H359.26zM377.77 74.53H380.09V76.82H377.77zM384.71 74.53H387.03V76.82H384.71zM400.91 74.53H403.22V76.82H400.91zM405.54 74.53H407.85V76.82H405.54zM419.42 74.53H421.73V76.82H419.42zM426.36 74.53H428.67V76.82H426.36zM433.3 74.53H437.93V76.82H433.3zM447.18 74.53H451.81V76.82H447.18zM461.07 74.53H463.38V76.82H461.07zM366.2 72.23H370.83V74.53H366.2zM398.6 72.23H400.91V74.53H398.6zM407.85 72.23H410.16V74.53H407.85zM424.05 72.23H430.99V74.53H424.05zM437.93 72.23H444.87V74.53H437.93zM449.5 72.23H451.81V74.53H449.5zM366.2 69.93H368.52V72.23H366.2zM377.77 69.93H382.4V72.23H377.77zM387.03 69.93H389.34V72.23H387.03zM398.6 69.93H400.91V72.23H398.6zM414.79 69.93H417.11V72.23H414.79zM440.24 69.93H442.56V72.23H440.24zM366.2 67.63H368.52V69.93H366.2zM370.83 67.63H373.14V69.93H370.83zM377.77 67.63H382.4V69.93H377.77zM419.42 67.63H421.73V69.93H419.42zM435.62 67.63H437.93V69.93H435.62zM442.56 67.63H444.87V69.93H442.56zM449.5 67.63H451.81V69.93H449.5zM454.12 67.63H456.44V69.93H454.12zM350.01 65.33H352.32V67.63H350.01zM384.71 65.33H389.34V67.63H384.71zM400.91 65.33H403.22V67.63H400.91zM433.3 65.33H435.62V67.63H433.3zM444.87 65.33H449.5V67.63H444.87zM393.97 63.04H396.28V65.33H393.97zM407.85 63.04H410.16V65.33H407.85zM412.48 63.04H414.79V65.33H412.48zM424.05 63.04H426.36V65.33H424.05zM435.62 63.04H440.24V65.33H435.62zM359.26 60.74H361.57V63.04H359.26zM417.11 60.74H419.42V63.04H417.11zM428.67 60.74H430.99V63.04H428.67zM433.3 60.74H435.62V63.04H433.3zM440.24 60.74H442.56V63.04H440.24zM444.87 60.74H447.18V63.04H444.87zM454.12 60.74H456.44V63.04H454.12zM361.57 58.44H363.89V60.74H361.57zM366.2 58.44H368.52V60.74H366.2zM419.42 58.44H421.73V60.74H419.42zM437.93 58.44H440.24V60.74H437.93zM373.14 56.15H375.46V58.44H373.14zM421.73 56.15H424.05V58.44H421.73zM433.3 56.15H435.62V58.44H433.3zM451.81 56.15H454.12V58.44H451.81zM391.65 53.85H396.28V56.15H391.65zM440.24 53.85H442.56V56.15H440.24zM384.71 51.55H387.03V53.85H384.71zM407.85 51.55H410.16V53.85H407.85zM428.67 51.55H430.99V53.85H428.67zM368.52 49.25H370.83V51.55H368.52zM414.79 49.25H419.42V51.55H414.79zM433.3 44.66H435.62V46.96H433.3zM472.63 44.66H474.95V46.96H472.63zM481.89 44.66H484.2V46.96H481.89zM414.79 42.36H417.11V44.66H414.79zM433.3 42.36H435.62V44.66H433.3zM366.2 40.06H368.52V42.36H366.2zM440.24 21.68H442.56V23.98H440.24zM458.75 19.38H461.07V21.68H458.75zM472.63 7.9H474.95V10.19H472.63z"/>
<path fill="#00009f" d="M384.71 159.53H387.03V161.83H384.71zM403.22 159.53H405.54V161.83H403.22zM391.65 154.94H393.97V157.24H391.65zM407.85 152.64H410.16V154.94H407.85zM389.34 150.34H391.65V152.64H389.34zM396.28 150.34H398.6V152.64H396.28zM403.22 150.34H405.54V152.64H403.22zM380.09 148.05H382.4V150.34H380.09zM387.03 148.05H389.34V150.34H387.03zM393.97 148.05H398.6V150.34H393.97zM391.65 143.45H393.97V145.75H391.65zM398.6 143.45H400.91V145.75H398.6zM407.85 143.45H412.48V145.75H407.85zM382.4 141.15H384.71V143.45H382.4zM389.34 141.15H391.65V143.45H389.34zM393.97 141.15H400.91V143.45H393.97zM403.22 141.15H407.85V143.45H403.22zM384.71 138.86H393.97V141.15H384.71zM396.28 138.86H398.6V141.15H396.28zM400.91 138.86H403.22V141.15H400.91zM405.54 138.86H410.16V141.15H405.54zM414.79 138.86H417.11V141.15H414.79zM373.14 136.56H375.46V138.86H373.14zM382.4 136.56H398.6V138.86H382.4zM400.91 136.56H412.48V138.86H400.91zM417.11 136.56H421.73V138.86H417.11zM368.52 134.26H373.14V136.56H368.52zM380.09 134.26H387.03V136.56H380.09zM389.34 134.26H393.97V136.56H389.34zM396.28 134.26H398.6V136.56H396.28zM400.91 134.26H412.48V136.56H400.91zM370.83 131.96H380.09V134.26H370.83zM389.34 131.96H396.28V134.26H389.34zM403.22 131.96H407.85V134.26H403.22zM410.16 131.96H412.48V134.26H410.16zM419.42 131.96H421.73V134.26H419.42zM350.01 129.67H352.32V131.96H350.01zM356.95 129.67H359.26V131.96H356.95zM361.57 129.67H366.2V131.96H361.57zM370.83 129.67H373.14V131.96H370.83zM377.77 129.67H380.09V131.96H377.77zM382.4 129.67H384.71V131.96H382.4zM391.65 129.67H398.6V131.96H391.65zM410.16 129.67H414.79V131.96H410.16zM417.11 129.67H419.42V131.96H417.11zM421.73 129.67H424.05V131.96H421.73zM338.44 127.37H340.75V129.67H338.44zM345.38 127.37H347.69V129.67H345.38zM359.26 127.37H366.2V129.67H359.26zM368.52 127.37H373.14V129.67H368.52zM382.4 127.37H384.71V129.67H382.4zM391.65 127.37H400.91V129.67H391.65zM403.22 127.37H405.54V129.67H403.22zM407.85 127.37H410.16V129.67H407.85zM414.79 127.37H417.11V129.67H414.79zM424.05 127.37H426.36V129.67H424.05zM336.12 125.07H340.75V127.37H336.12zM343.06 125.07H345.38V127.37H343.06zM356.95 125.07H361.57V127.37H356.95zM410.16 125.07H414.79V127.37H410.16zM333.81 122.77H336.12V125.07H333.81zM340.75 122.77H345.38V125.07H340.75zM354.63 122.77H356.95V125.07H354.63zM419.42 122.77H421.73V125.07H419.42zM424.05 122.77H426.36V125.07H424.05zM430.99 122.77H433.3V125.07H430.99zM331.5 120.48H333.81V122.77H331.5zM412.48 120.48H414.79V122.77H412.48zM417.11 120.48H419.42V122.77H417.11zM421.73 120.48H424.05V122.77H421.73zM410.16 118.18H412.48V120.48H410.16zM414.79 118.18H417.11V120.48H414.79zM419.42 118.18H421.73V120.48H419.42zM324.56 115.88H329.18V118.18H324.56zM421.73 115.88H424.05V118.18H421.73zM428.67 115.88H430.99V118.18H428.67zM419.42 113.58H421.73V115.88H419.42zM428.67 113.58H430.99V115.88H428.67zM419.42 111.28H421.73V113.58H419.42zM426.36 111.28H430.99V113.58H426.36zM419.42 108.99H421.73V111.28H419.42zM424.05 108.99H430.99V111.28H424.05zM326.87 106.69H329.18V108.99H326.87zM421.73 106.69H426.36V108.99H421.73zM326.87 104.39H329.18V106.69H326.87zM417.11 104.39H421.73V106.69H417.11zM426.36 104.39H428.67V106.69H426.36zM437.93 104.39H440.24V106.69H437.93zM326.87 102.09H331.5V104.39H326.87zM417.11 102.09H419.42V104.39H417.11zM421.73 102.09H426.36V104.39H421.73zM428.67 102.09H433.3V104.39H428.67zM326.87 99.8H331.5V102.09H326.87zM410.16 99.8H412.48V102.09H410.16zM414.79 99.8H417.11V102.09H414.79zM419.42 99.8H421.73V102.09H419.42zM424.05 99.8H426.36V102.09H424.05zM428.67 99.8H430.99V102.09H428.67zM405.54 97.5H407.85V99.8H405.54zM410.16 97.5H412.48V99.8H410.16zM414.79 97.5H417.11V99.8H414.79zM419.42 97.5H424.05V99.8H419.42zM428.67 97.5H430.99V99.8H428.67zM333.81 95.2H336.12V97.5H333.81zM389.34 95.2H391.65V97.5H389.34zM398.6 95.2H403.22V97.5H398.6zM410.16 95.2H417.11V97.5H410.16zM419.42 95.2H421.73V97.5H419.42zM345.38 92.91H347.69V95.2H345.38zM350.01 92.91H352.32V95.2H350.01zM361.57 92.91H363.89V95.2H361.57zM375.46 92.91H377.77V95.2H375.46zM382.4 92.91H384.71V95.2H382.4zM387.03 92.91H391.65V95.2H387.03zM396.28 92.91H398.6V95.2H396.28zM403.22 92.91H405.54V95.2H403.22zM407.85 92.91H410.16V95.2H407.85zM412.48 92.91H417.11V95.2H412.48zM426.36 92.91H428.67V95.2H426.36zM343.06 90.61H345.38V92.91H343.06zM347.69 90.61H350.01V92.91H347.69zM361.57 90.61H363.89V92.91H361.57zM366.2 90.61H368.52V92.91H366.2zM375.46 90.61H377.77V92.91H375.46zM380.09 90.61H382.4V92.91H380.09zM387.03 90.61H389.34V92.91H387.03zM391.65 90.61H393.97V92.91H391.65zM400.91 90.61H407.85V92.91H400.91zM410.16 90.61H417.11V92.91H410.16zM419.42 90.61H421.73V92.91H419.42zM433.3 90.61H437.93V92.91H433.3zM338.44 88.31H340.75V90.61H338.44zM350.01 88.31H366.2V90.61H350.01zM373.14 88.31H377.77V90.61H373.14zM380.09 88.31H405.54V90.61H380.09zM407.85 88.31H410.16V90.61H407.85zM414.79 88.31H417.11V90.61H414.79zM424.05 88.31H426.36V90.61H424.05zM433.3 88.31H435.62V90.61H433.3zM343.06 86.01H347.69V88.31H343.06zM352.32 86.01H354.63V88.31H352.32zM359.26 86.01H363.89V88.31H359.26zM368.52 86.01H370.83V88.31H368.52zM373.14 86.01H375.46V88.31H373.14zM377.77 86.01H382.4V88.31H377.77zM387.03 86.01H389.34V88.31H387.03zM391.65 86.01H396.28V88.31H391.65zM398.6 86.01H400.91V88.31H398.6zM403.22 86.01H405.54V88.31H403.22zM412.48 86.01H417.11V88.31H412.48zM437.93 86.01H440.24V88.31H437.93zM347.69 83.72H350.01V86.01H347.69zM359.26 83.72H361.57V86.01H359.26zM373.14 83.72H375.46V86.01H373.14zM387.03 83.72H389.34V86.01H387.03zM391.65 83.72H393.97V86.01H391.65zM396.28 83.72H398.6V86.01H396.28zM405.54 83.72H412.48V86.01H405.54zM426.36 83.72H428.67V86.01H426.36zM433.3 83.72H435.62V86.01H433.3zM442.56 83.72H444.87V86.01H442.56zM373.14 81.42H377.77V83.72H373.14zM382.4 81.42H384.71V83.72H382.4zM391.65 81.42H393.97V83.72H391.65zM405.54 81.42H407.85V83.72H405.54zM421.73 81.42H424.05V83.72H421.73zM426.36 81.42H428.67V83.72H426.36zM382.4 79.12H384.71V81.42H382.4zM400.91 79.12H403.22V81.42H400.91zM414.79 79.12H417.11V81.42H414.79zM440.24 79.12H442.56V81.42H440.24zM382.4 76.82H384.71V79.12H382.4zM405.54 76.82H407.85V79.12H405.54zM424.05 76.82H428.67V79.12H424.05zM361.57 74.53H363.89V76.82H361.57zM366.2 74.53H368.52V76.82H366.2zM393.97 74.53H396.28V76.82H393.97zM412.48 74.53H414.79V76.82H412.48zM428.67 74.53H430.99V76.82H428.67zM421.73 72.23H424.05V74.53H421.73zM433.3 72.23H437.93V74.53H433.3zM444.87 69.93H447.18V72.23H444.87zM433.3 67.63H435.62V69.93H433.3zM458.75 67.63H461.07V69.93H458.75zM440.24 65.33H442.56V67.63H440.24zM382.4 63.04H384.71V65.33H382.4zM430.99 63.04H433.3V65.33H430.99zM433.3 49.25H435.62V51.55H433.3z"/>
<path fill="#0000af" d="M375.46 134.26H380.09V136.56H375.46zM387.03 134.26H389.34V136.56H387.03zM398.6 134.26H400.91V136.56H398.6zM414.79 134.26H417.11V136.56H414.79zM363.89 131.96H366.2V134.26H363.89zM368.52 131.96H370.83V134.26H368.52zM387.03 131.96H389.34V134.26H387.03zM396.28 131.96H398.6V134.26H396.28zM407.85 131.96H410.16V134.26H407.85zM366.2 129.67H368.52V131.96H366.2zM373.14 129.67H375.46V131.96H373.14zM384.71 129.67H389.34V131.96H384.71zM398.6 129.67H400.91V131.96H398.6zM403.22 129.67H407.85V131.96H403.22zM414.79 129.67H417.11V131.96H414.79zM419.42 129.67H421.73V131.96H419.42zM352.32 127.37H354.63V129.67H352.32zM375.46 127.37H380.09V129.67H375.46zM387.03 127.37H389.34V129.67H387.03zM345.38 125.07H354.63V127.37H345.38zM366.2 125.07H368.52V127.37H366.2zM389.34 125.07H391.65V127.37H389.34zM393.97 125.07H400.91V127.37H393.97zM407.85 125.07H410.16V127.37H407.85zM419.42 125.07H421.73V127.37H419.42zM336.12 122.77H338.44V125.07H336.12zM359.26 122.77H361.57V125.07H359.26zM396.28 122.77H398.6V125.07H396.28zM403.22 122.77H405.54V125.07H403.22zM412.48 122.77H414.79V125.07H412.48zM407.85 120.48H412.48V122.77H407.85zM329.18 118.18H331.5V120.48H329.18zM428.67 118.18H430.99V120.48H428.67zM331.5 115.88H333.81V118.18H331.5zM410.16 115.88H414.79V118.18H410.16zM324.56 113.58H326.87V115.88H324.56zM412.48 113.58H414.79V115.88H412.48zM417.11 113.58H419.42V115.88H417.11zM421.73 113.58H426.36V115.88H421.73zM322.24 111.28H324.56V113.58H322.24zM421.73 111.28H424.05V113.58H421.73zM417.11 108.99H419.42V111.28H417.11zM414.79 106.69H419.42V108.99H414.79zM426.36 106.69H428.67V108.99H426.36zM329.18 104.39H331.5V106.69H329.18zM424.05 104.39H426.36V106.69H424.05zM405.54 102.09H407.85V104.39H405.54zM410.16 102.09H414.79V104.39H410.16zM419.42 102.09H421.73V104.39H419.42zM336.12 99.8H338.44V102.09H336.12zM403.22 99.8H410.16V102.09H403.22zM412.48 99.8H414.79V102.09H412.48zM417.11 99.8H419.42V102.09H417.11zM421.73 99.8H424.05V102.09H421.73zM333.81 97.5H338.44V99.8H333.81zM398.6 97.5H400.91V99.8H398.6zM403.22 97.5H405.54V99.8H403.22zM407.85 97.5H410.16V99.8H407.85zM336.12 95.2H340.75V97.5H336.12zM352.32 95.2H354.63V97.5H352.32zM396.28 95.2H398.6V97.5H396.28zM403.22 95.2H405.54V97.5H403.22zM421.73 95.2H424.05V97.5H421.73zM338.44 92.91H340.75V95.2H338.44zM352.32 92.91H354.63V95.2H352.32zM356.95 92.91H361.57V95.2H356.95zM366.2 92.91H368.52V95.2H366.2zM380.09 92.91H382.4V95.2H380.09zM384.71 92.91H387.03V95.2H384.71zM391.65 92.91H393.97V95.2H391.65zM398.6 92.91H400.91V95.2H398.6zM419.42 92.91H421.73V95.2H419.42zM350.01 90.61H352.32V92.91H350.01zM363.89 90.61H366.2V92.91H363.89zM368.52 90.61H370.83V92.91H368.52zM389.34 90.61H391.65V92.91H389.34zM393.97 90.61H400.91V92.91H393.97zM407.85 90.61H410.16V92.91H407.85zM345.38 88.31H350.01V90.61H345.38zM368.52 88.31H370.83V90.61H368.52zM405.54 88.31H407.85V90.61H405.54zM366.2 86.01H368.52V88.31H366.2zM370.83 86.01H373.14V88.31H370.83zM384.71 86.01H387.03V88.31H384.71zM396.28 86.01H398.6V88.31H396.28zM400.91 86.01H403.22V88.31H400.91zM405.54 86.01H407.85V88.31H405.54zM352.32 83.72H354.63V86.01H352.32zM380.09 83.72H382.4V86.01H380.09zM398.6 83.72H400.91V86.01H398.6zM403.22 83.72H405.54V86.01H403.22zM377.77 81.42H380.09V83.72H377.77z"/>
<path fill="#0000bf" d="M384.71 131.96H387.03V134.26H384.71zM400.91 131.96H403.22V134.26H400.91zM368.52 129.67H370.83V131.96H368.52zM350.01 127.37H352.32V129.67H350.01zM354.63 127.37H356.95V129.67H354.63zM366.2 127.37H368.52V129.67H366.2zM373.14 127.37H375.46V129.67H373.14zM380.09 127.37H382.4V129.67H380.09zM400.91 127.37H403.22V129.67H400.91zM405.54 127.37H407.85V129.67H405.54zM361.57 125.07H366.2V127.37H361.57zM368.52 125.07H370.83V127.37H368.52zM375.46 125.07H377.77V127.37H375.46zM384.71 125.07H387.03V127.37H384.71zM391.65 125.07H393.97V127.37H391.65zM400.91 125.07H405.54V127.37H400.91zM338.44 122.77H340.75V125.07H338.44zM345.38 122.77H347.69V125.07H345.38zM350.01 122.77H352.32V125.07H350.01zM361.57 122.77H366.2V125.07H361.57zM400.91 122.77H403.22V125.07H400.91zM405.54 122.77H410.16V125.07H405.54zM333.81 120.48H338.44V122.77H333.81zM340.75 120.48H343.06V122.77H340.75zM336.12 118.18H338.44V120.48H336.12zM407.85 118.18H410.16V120.48H407.85zM412.48 118.18H414.79V120.48H412.48zM417.11 118.18H419.42V120.48H417.11zM329.18 115.88H331.5V118.18H329.18zM407.85 115.88H410.16V118.18H407.85zM419.42 115.88H421.73V118.18H419.42zM414.79 113.58H417.11V115.88H414.79zM324.56 111.28H326.87V113.58H324.56zM412.48 108.99H414.79V111.28H412.48zM419.42 106.69H421.73V108.99H419.42zM410.16 104.39H414.79V106.69H410.16zM331.5 102.09H333.81V104.39H331.5zM400.91 102.09H403.22V104.39H400.91zM407.85 102.09H410.16V104.39H407.85zM333.81 99.8H336.12V102.09H333.81zM391.65 99.8H393.97V102.09H391.65zM396.28 97.5H398.6V99.8H396.28zM412.48 97.5H414.79V99.8H412.48zM417.11 97.5H419.42V99.8H417.11zM343.06 95.2H345.38V97.5H343.06zM350.01 95.2H352.32V97.5H350.01zM354.63 95.2H359.26V97.5H354.63zM361.57 95.2H363.89V97.5H361.57zM366.2 95.2H368.52V97.5H366.2zM370.83 95.2H373.14V97.5H370.83zM380.09 95.2H382.4V97.5H380.09zM391.65 95.2H396.28V97.5H391.65zM405.54 95.2H410.16V97.5H405.54zM354.63 92.91H356.95V95.2H354.63zM368.52 92.91H370.83V95.2H368.52zM373.14 92.91H375.46V95.2H373.14zM393.97 92.91H396.28V95.2H393.97zM400.91 92.91H403.22V95.2H400.91zM340.75 90.61H343.06V92.91H340.75zM352.32 90.61H354.63V92.91H352.32zM359.26 90.61H361.57V92.91H359.26zM370.83 90.61H375.46V92.91H370.83zM382.4 90.61H384.71V92.91H382.4zM377.77 88.31H380.09V90.61H377.77z"/>
<path fill="#0000cf" d="M356.95 127.37H359.26V129.67H356.95zM384.71 127.37H387.03V129.67H384.71zM389.34 127.37H391.65V129.67H389.34zM354.63 125.07H356.95V127.37H354.63zM377.77 125.07H380.09V127.37H377.77zM384.71 122.77H387.03V125.07H384.71zM393.97 122.77H396.28V125.07H393.97zM398.6 122.77H400.91V125.07H398.6zM338.44 120.48H340.75V122.77H338.44zM343.06 120.48H345.38V122.77H343.06zM403.22 120.48H405.54V122.77H403.22zM333.81 118.18H336.12V120.48H333.81zM400.91 118.18H403.22V120.48H400.91zM405.54 118.18H407.85V120.48H405.54zM405.54 115.88H407.85V118.18H405.54zM414.79 115.88H417.11V118.18H414.79zM407.85 113.58H412.48V115.88H407.85zM324.56 108.99H329.18V111.28H324.56zM410.16 108.99H412.48V111.28H410.16zM410.16 106.69H412.48V108.99H410.16zM331.5 104.39H333.81V106.69H331.5zM393.97 102.09H396.28V104.39H393.97zM398.6 102.09H400.91V104.39H398.6zM414.79 102.09H417.11V104.39H414.79zM400.91 99.8H403.22V102.09H400.91zM338.44 97.5H340.75V99.8H338.44zM389.34 97.5H391.65V99.8H389.34zM393.97 97.5H396.28V99.8H393.97zM400.91 97.5H403.22V99.8H400.91zM345.38 95.2H350.01V97.5H345.38zM359.26 95.2H361.57V97.5H359.26zM373.14 95.2H375.46V97.5H373.14zM384.71 95.2H389.34V97.5H384.71zM417.11 95.2H419.42V97.5H417.11zM347.69 92.91H350.01V95.2H347.69zM363.89 92.91H366.2V95.2H363.89zM377.77 92.91H380.09V95.2H377.77zM354.63 90.61H356.95V92.91H354.63zM343.06 88.31H345.38V90.61H343.06zM370.83 88.31H373.14V90.61H370.83z"/>
<path fill="#0000df" d="M370.83 125.07H375.46V127.37H370.83zM387.03 125.07H389.34V127.37H387.03zM347.69 122.77H350.01V125.07H347.69zM366.2 122.77H368.52V125.07H366.2zM377.77 122.77H380.09V125.07H377.77zM387.03 122.77H389.34V125.07H387.03zM391.65 122.77H393.97V125.07H391.65zM410.16 122.77H412.48V125.07H410.16zM359.26 120.48H361.57V122.77H359.26zM396.28 120.48H398.6V122.77H396.28zM400.91 120.48H403.22V122.77H400.91zM405.54 120.48H407.85V122.77H405.54zM403.22 115.88H405.54V118.18H403.22zM331.5 113.58H333.81V115.88H331.5zM407.85 108.99H410.16V111.28H407.85zM329.18 106.69H331.5V108.99H329.18zM407.85 106.69H410.16V108.99H407.85zM412.48 106.69H414.79V108.99H412.48zM333.81 102.09H338.44V104.39H333.81zM403.22 102.09H405.54V104.39H403.22zM338.44 99.8H340.75V102.09H338.44zM345.38 97.5H347.69V99.8H345.38zM350.01 97.5H352.32V99.8H350.01zM366.2 97.5H368.52V99.8H366.2zM384.71 97.5H387.03V99.8H384.71zM391.65 97.5H393.97V99.8H391.65zM382.4 95.2H384.71V97.5H382.4zM370.83 92.91H373.14V95.2H370.83z"/>
<path fill="#0000ef" d="M382.4 125.07H384.71V127.37H382.4zM352.32 122.77H354.63V125.07H352.32zM356.95 122.77H359.26V125.07H356.95zM368.52 122.77H370.83V125.07H368.52zM389.34 122.77H391.65V125.07H389.34zM345.38 120.48H347.69V122.77H345.38zM352.32 120.48H354.63V122.77H352.32zM393.97 120.48H396.28V122.77H393.97zM398.6 120.48H400.91V122.77H398.6zM338.44 118.18H340.75V120.48H338.44zM403.22 118.18H405.54V120.48H403.22zM333.81 115.88H336.12V118.18H333.81zM417.11 115.88H419.42V118.18H417.11zM326.87 113.58H329.18V115.88H326.87zM329.18 111.28H331.5V113.58H329.18zM407.85 111.28H419.42V113.58H407.85zM414.79 108.99H417.11V111.28H414.79zM400.91 104.39H407.85V106.69H400.91zM340.75 99.8H343.06V102.09H340.75zM387.03 99.8H391.65V102.09H387.03zM393.97 99.8H396.28V102.09H393.97zM343.06 97.5H345.38V99.8H343.06zM356.95 97.5H359.26V99.8H356.95zM361.57 97.5H366.2V99.8H361.57zM363.89 95.2H366.2V97.5H363.89zM368.52 95.2H370.83V97.5H368.52zM375.46 95.2H377.77V97.5H375.46z"/>
<path fill="#0000ff" d="M380.09 125.07H382.4V127.37H380.09zM373.14 122.77H377.77V125.07H373.14zM382.4 122.77H384.71V125.07H382.4zM361.57 120.48H363.89V122.77H361.57zM380.09 120.48H382.4V122.77H380.09zM389.34 120.48H393.97V122.77H389.34zM398.6 118.18H400.91V120.48H398.6zM398.6 115.88H400.91V118.18H398.6zM326.87 111.28H329.18V113.58H326.87zM405.54 111.28H407.85V113.58H405.54zM333.81 104.39H336.12V106.69H333.81zM407.85 104.39H410.16V106.69H407.85zM343.06 99.8H345.38V102.09H343.06zM396.28 99.8H400.91V102.09H396.28zM340.75 97.5H343.06V99.8H340.75zM352.32 97.5H354.63V99.8H352.32zM375.46 97.5H377.77V99.8H375.46zM380.09 97.5H384.71V99.8H380.09zM387.03 97.5H389.34V99.8H387.03z"/>
<path fill="#0010ff" d="M370.83 122.77H373.14V125.07H370.83zM354.63 120.48H356.95V122.77H354.63zM384.71 120.48H387.03V122.77H384.71zM329.18 113.58H331.5V115.88H329.18zM403.22 111.28H405.54V113.58H403.22zM398.6 108.99H400.91V111.28H398.6zM403.22 108.99H405.54V111.28H403.22zM403.22 106.69H405.54V108.99H403.22zM398.6 104.39H400.91V106.69H398.6zM391.65 102.09H393.97V104.39H391.65zM396.28 102.09H398.6V104.39H396.28zM345.38 99.8H347.69V102.09H345.38zM350.01 99.8H352.32V102.09H350.01zM368.52 97.5H370.83V99.8H368.52zM377.77 95.2H380.09V97.5H377.77z"/>
<path fill="#0020ff" d="M347.69 120.48H352.32V122.77H347.69zM363.89 120.48H366.2V122.77H363.89zM382.4 120.48H384.71V122.77H382.4zM340.75 118.18H343.06V120.48H340.75zM398.6 113.58H403.22V115.88H398.6zM405.54 113.58H407.85V115.88H405.54zM329.18 108.99H331.5V111.28H329.18zM405.54 108.99H407.85V111.28H405.54zM405.54 106.69H407.85V108.99H405.54zM396.28 104.39H398.6V106.69H396.28zM354.63 99.8H356.95V102.09H354.63zM377.77 99.8H380.09V102.09H377.77zM354.63 97.5H356.95V99.8H354.63zM359.26 97.5H361.57V99.8H359.26z"/>
<path fill="#0030ff" d="M380.09 122.77H382.4V125.07H380.09zM356.95 120.48H359.26V122.77H356.95zM343.06 118.18H345.38V120.48H343.06zM336.12 115.88H338.44V118.18H336.12zM343.06 115.88H345.38V118.18H343.06zM333.81 113.58H336.12V115.88H333.81zM403.22 113.58H405.54V115.88H403.22zM331.5 106.69H333.81V108.99H331.5zM389.34 102.09H391.65V104.39H389.34zM356.95 99.8H359.26V102.09H356.95zM384.71 99.8H387.03V102.09H384.71zM347.69 97.5H350.01V99.8H347.69z"/>
<path fill="#0040ff" d="M370.83 120.48H375.46V122.77H370.83zM387.03 120.48H389.34V122.77H387.03zM345.38 118.18H347.69V120.48H345.38zM391.65 118.18H396.28V120.48H391.65zM391.65 115.88H393.97V118.18H391.65zM400.91 115.88H403.22V118.18H400.91zM331.5 111.28H333.81V113.58H331.5zM331.5 108.99H336.12V111.28H331.5zM400.91 108.99H403.22V111.28H400.91zM333.81 106.69H336.12V108.99H333.81zM398.6 106.69H403.22V108.99H398.6zM340.75 102.09H343.06V104.39H340.75zM359.26 99.8H361.57V102.09H359.26zM377.77 97.5H380.09V99.8H377.77z"/>
<path fill="#0050ff" d="M368.52 120.48H370.83V122.77H368.52zM347.69 118.18H350.01V120.48H347.69zM352.32 118.18H354.63V120.48H352.32zM396.28 118.18H398.6V120.48H396.28zM340.75 115.88H343.06V118.18H340.75zM393.97 115.88H396.28V118.18H393.97zM393.97 104.39H396.28V106.69H393.97zM382.4 102.09H384.71V104.39H382.4zM370.83 97.5H375.46V99.8H370.83z"/>
<path fill="#0060ff" d="M338.44 115.88H340.75V118.18H338.44zM396.28 115.88H398.6V118.18H396.28zM336.12 113.58H338.44V115.88H336.12zM400.91 111.28H403.22V113.58H400.91zM338.44 106.69H340.75V108.99H338.44zM336.12 104.39H338.44V106.69H336.12zM338.44 102.09H340.75V104.39H338.44zM363.89 99.8H366.2V102.09H363.89zM380.09 99.8H384.71V102.09H380.09z"/>
<path fill="#0070ff" d="M356.95 118.18H366.2V120.48H356.95zM387.03 118.18H389.34V120.48H387.03zM347.69 115.88H350.01V118.18H347.69zM333.81 111.28H336.12V113.58H333.81zM338.44 104.39H340.75V106.69H338.44zM363.89 102.09H366.2V104.39H363.89zM384.71 102.09H387.03V104.39H384.71zM366.2 99.8H373.14V102.09H366.2z"/>
<path fill="#0080ff" d="M375.46 120.48H377.77V122.77H375.46zM389.34 118.18H391.65V120.48H389.34zM345.38 115.88H347.69V118.18H345.38zM340.75 113.58H343.06V115.88H340.75zM396.28 108.99H398.6V111.28H396.28zM336.12 106.69H338.44V108.99H336.12zM340.75 104.39H343.06V106.69H340.75zM389.34 104.39H393.97V106.69H389.34zM350.01 102.09H352.32V104.39H350.01zM347.69 99.8H350.01V102.09H347.69zM352.32 99.8H354.63V102.09H352.32zM361.57 99.8H363.89V102.09H361.57z"/>
<path fill="#008fff" d="M366.2 120.48H368.52V122.77H366.2zM377.77 120.48H380.09V122.77H377.77zM354.63 118.18H356.95V120.48H354.63zM396.28 113.58H398.6V115.88H396.28zM396.28 111.28H398.6V113.58H396.28zM336.12 108.99H338.44V111.28H336.12zM396.28 106.69H398.6V108.99H396.28zM343.06 104.39H345.38V106.69H343.06zM343.06 102.09H347.69V104.39H343.06zM361.57 102.09H363.89V104.39H361.57zM387.03 102.09H389.34V104.39H387.03z"/>
<path fill="#009fff" d="M350.01 118.18H352.32V120.48H350.01zM366.2 118.18H370.83V120.48H366.2zM352.32 115.88H354.63V118.18H352.32zM343.06 113.58H345.38V115.88H343.06zM338.44 111.28H340.75V113.58H338.44zM338.44 108.99H340.75V111.28H338.44zM393.97 106.69H396.28V108.99H393.97zM387.03 104.39H389.34V106.69H387.03zM373.14 99.8H375.46V102.09H373.14z"/>
<path fill="#00afff" d="M384.71 118.18H387.03V120.48H384.71zM359.26 115.88H361.57V118.18H359.26zM389.34 115.88H391.65V118.18H389.34zM338.44 113.58H340.75V115.88H338.44zM391.65 113.58H393.97V115.88H391.65zM336.12 111.28H338.44V113.58H336.12zM398.6 111.28H400.91V113.58H398.6zM347.69 102.09H350.01V104.39H347.69zM366.2 102.09H368.52V104.39H366.2z"/>
<path fill="#00bfff" d="M361.57 115.88H363.89V118.18H361.57zM356.95 113.58H359.26V115.88H356.95zM393.97 111.28H396.28V113.58H393.97zM391.65 108.99H393.97V111.28H391.65zM347.69 104.39H350.01V106.69H347.69zM359.26 102.09H361.57V104.39H359.26zM380.09 102.09H382.4V104.39H380.09z"/>
<path fill="#00cfff" d="M382.4 118.18H384.71V120.48H382.4zM354.63 115.88H356.95V118.18H354.63zM387.03 115.88H389.34V118.18H387.03zM340.75 111.28H343.06V113.58H340.75zM347.69 106.69H350.01V108.99H347.69zM387.03 106.69H389.34V108.99H387.03zM352.32 102.09H356.95V104.39H352.32zM375.46 99.8H377.77V102.09H375.46z"/>
<path fill="#00dfff" d="M366.2 115.88H368.52V118.18H366.2zM393.97 113.58H396.28V115.88H393.97zM343.06 111.28H345.38V113.58H343.06zM391.65 111.28H393.97V113.58H391.65zM389.34 108.99H391.65V111.28H389.34zM393.97 108.99H396.28V111.28H393.97zM350.01 104.39H352.32V106.69H350.01zM368.52 102.09H370.83V104.39H368.52z"/>
<path fill="#00efff" d="M370.83 118.18H373.14V120.48H370.83zM350.01 115.88H352.32V118.18H350.01zM363.89 115.88H366.2V118.18H363.89zM384.71 115.88H387.03V118.18H384.71zM389.34 113.58H391.65V115.88H389.34zM343.06 108.99H345.38V111.28H343.06zM340.75 106.69H343.06V108.99H340.75zM345.38 104.39H347.69V106.69H345.38zM356.95 102.09H359.26V104.39H356.95zM370.83 102.09H373.14V104.39H370.83z"/>
<path fill="#00ffff" d="M380.09 118.18H382.4V120.48H380.09zM345.38 106.69H347.69V108.99H345.38zM361.57 106.69H363.89V108.99H361.57zM359.26 104.39H361.57V106.69H359.26zM382.4 104.39H384.71V106.69H382.4z"/>
<path fill="#10ffef" d="M375.46 118.18H377.77V120.48H375.46zM345.38 111.28H347.69V113.58H345.38zM352.32 111.28H354.63V113.58H352.32zM345.38 108.99H347.69V111.28H345.38zM350.01 106.69H352.32V108.99H350.01zM389.34 106.69H391.65V108.99H389.34zM356.95 104.39H359.26V106.69H356.95zM368.52 104.39H370.83V106.69H368.52z"/>
<path fill="#20ffdf" d="M352.32 113.58H354.63V115.88H352.32zM359.26 113.58H361.57V115.88H359.26zM387.03 113.58H389.34V115.88H387.03zM343.06 106.69H345.38V108.99H343.06zM391.65 106.69H393.97V108.99H391.65zM377.77 102.09H380.09V104.39H377.77z"/>
<path fill="#30ffcf" d="M373.14 118.18H375.46V120.48H373.14zM345.38 113.58H350.01V115.88H345.38zM361.57 113.58H363.89V115.88H361.57zM384.71 106.69H387.03V108.99H384.71zM354.63 104.39H356.95V106.69H354.63zM363.89 104.39H366.2V106.69H363.89z"/>
<path fill="#40ffbf" d="M368.52 115.88H370.83V118.18H368.52zM382.4 115.88H384.71V118.18H382.4zM350.01 113.58H352.32V115.88H350.01zM356.95 111.28H359.26V113.58H356.95zM389.34 111.28H391.65V113.58H389.34zM361.57 104.39H363.89V106.69H361.57zM366.2 104.39H368.52V106.69H366.2z"/>
<path fill="#50ffaf" d="M356.95 115.88H359.26V118.18H356.95zM366.2 113.58H368.52V115.88H366.2zM384.71 113.58H387.03V115.88H384.71zM350.01 111.28H352.32V113.58H350.01zM361.57 111.28H363.89V113.58H361.57zM387.03 111.28H389.34V113.58H387.03zM340.75 108.99H343.06V111.28H340.75zM347.69 108.99H350.01V111.28H347.69zM384.71 104.39H387.03V106.69H384.71z"/>
<path fill="#60ff9f" d="M377.77 118.18H380.09V120.48H377.77zM354.63 108.99H356.95V111.28H354.63zM387.03 108.99H389.34V111.28H387.03z"/>
<path fill="#70ff8f" d="M354.63 113.58H356.95V115.88H354.63zM363.89 113.58H366.2V115.88H363.89zM382.4 113.58H384.71V115.88H382.4z"/>
<path fill="#80ff80" d="M384.71 108.99H387.03V111.28H384.71zM359.26 106.69H361.57V108.99H359.26zM366.2 106.69H368.52V108.99H366.2zM373.14 102.09H375.46V104.39H373.14z"/>
<path fill="#8fff70" d="M377.77 115.88H380.09V118.18H377.77zM359.26 108.99H361.57V111.28H359.26zM363.89 108.99H366.2V111.28H363.89zM352.32 106.69H354.63V108.99H352.32zM370.83 104.39H373.14V106.69H370.83z"/>
<path fill="#9fff60" d="M380.09 115.88H382.4V118.18H380.09zM359.26 111.28H361.57V113.58H359.26zM356.95 108.99H359.26V111.28H356.95zM361.57 108.99H363.89V111.28H361.57zM363.89 106.69H366.2V108.99H363.89zM352.32 104.39H354.63V106.69H352.32z"/>
<path fill="#afff50" d="M356.95 106.69H359.26V108.99H356.95zM380.09 104.39H382.4V106.69H380.09zM375.46 102.09H377.77V104.39H375.46z"/>
<path fill="#bfff40" d="M384.71 111.28H387.03V113.58H384.71zM350.01 108.99H352.32V111.28H350.01z"/>
<path fill="#cfff30" d="M375.46 115.88H377.77V118.18H375.46zM368.52 113.58H370.83V115.88H368.52zM347.69 111.28H350.01V113.58H347.69zM352.32 108.99H354.63V111.28H352.32zM368.52 106.69H370.83V108.99H368.52zM382.4 106.69H384.71V108.99H382.4z"/>
<path fill="#dfff20" d="M366.2 111.28H368.52V113.58H366.2z"/>
<path fill="#efff10" d="M370.83 115.88H373.14V118.18H370.83zM366.2 108.99H368.52V111.28H366.2z"/>
<path fill="#ffff00" d="M354.63 111.28H356.95V113.58H354.63zM363.89 111.28H366.2V113.58H363.89zM354.63 106.69H356.95V108.99H354.63z"/>
<path fill="#ffef00" d="M380.09 111.28H382.4V113.58H380.09zM373.14 104.39H375.46V106.69H373.14z"/>
<path fill="#ffdf00" d="M373.14 115.88H375.46V118.18H373.14zM368.52 111.28H373.14V113.58H368.52zM377.77 104.39H380.09V106.69H377.77z"/>
<path fill="#ffcf00" d="M373.14 113.58H375.46V115.88H373.14zM377.77 113.58H380.09V115.88H377.77zM373.14 111.28H375.46V113.58H373.14z"/>
<path fill="#ffbf00" d="M380.09 106.69H382.4V108.99H380.09z"/>
<path fill="#ffaf00" d="M370.83 106.69H373.14V108.99H370.83z"/>
<path fill="#ff9f00" d="M370.83 113.58H373.14V115.88H370.83zM380.09 113.58H382.4V115.88H380.09z"/>
<path fill="#ff8f00" d="M382.4 111.28H384.71V113.58H382.4zM370.83 108.99H373.14V111.28H370.83zM377.77 108.99H380.09V111.28H377.77zM377.77 106.69H380.09V108.99H377.77z"/>
<path fill="#ff8000" d="M382.4 108.99H384.71V111.28H382.4zM375.46 104.39H377.77V106.69H375.46z"/>
<path fill="#ff7000" d="M368.52 108.99H370.83V111.28H368.52zM373.14 106.69H375.46V108.99H373.14z"/>
<path fill="#ff6000" d="M375.46 113.58H377.77V115.88H375.46zM377.77 111.28H380.09V113.58H377.77zM380.09 108.99H382.4V111.28H380.09z"/>
<path fill="#ff5000" d="M375.46 111.28H377.77V113.58H375.46z"/>
<path fill="#ff2000" d="M375.46 108.99H377.77V111.28H375.46z"/>
<path fill="#df0000" d="M375.46 106.69H377.77V108.99H375.46z"/>
<path fill="#af0000" d="M373.14 108.99H375.46V111.28H373.14z"/></g>
<path stroke="#828282" stroke-width="0.6" fill="none" d="M315.3 189.4v-1.8M315.3 5.6v1.8M361.57 189.4v-1.8M361.57 5.6v1.8M407.85 189.4v-1.8M407.85 5.6v1.8M454.12 189.4v-1.8M454.12 5.6v1.8M500.4 189.4v-1.8M500.4 5.6v1.8M315.3 189.4h1.8M500.4 189.4h-1.8M315.3 158.77h1.8M500.4 158.77h-1.8M315.3 128.13h1.8M500.4 128.13h-1.8M315.3 97.5h1.8M500.4 97.5h-1.8M315.3 66.87h1.8M500.4 66.87h-1.8M315.3 36.23h1.8M500.4 36.23h-1.8M315.3 5.6h1.8M500.4 5.6h-1.8"/>
<rect x="315.3" y="5.6" width="185.1" height="183.8" fill="none" stroke="#828282" stroke-width="1.1"/>
<text x="315.3" y="202.6" class="tl" text-anchor="middle" textLength="12.31" lengthAdjust="spacingAndGlyphs">120</text>
<text x="361.57" y="202.6" class="tl" text-anchor="middle" textLength="12.31" lengthAdjust="spacingAndGlyphs">140</text>
<text x="407.85" y="202.6" class="tl" text-anchor="middle" textLength="12.31" lengthAdjust="spacingAndGlyphs">160</text>
<text x="454.12" y="202.6" class="tl" text-anchor="middle" textLength="12.31" lengthAdjust="spacingAndGlyphs">180</text>
<text x="500.4" y="202.6" class="tl" text-anchor="middle" textLength="12.31" lengthAdjust="spacingAndGlyphs">200</text>
<text x="311.8" y="192.9" class="tl" text-anchor="end" textLength="10.66" lengthAdjust="spacingAndGlyphs">-15</text>
<text x="311.8" y="162.27" class="tl" text-anchor="end" textLength="10.66" lengthAdjust="spacingAndGlyphs">-10</text>
<text x="311.8" y="131.63" class="tl" text-anchor="end" textLength="6.56" lengthAdjust="spacingAndGlyphs">-5</text>
<text x="311.8" y="101" class="tl" text-anchor="end" textLength="4.1" lengthAdjust="spacingAndGlyphs">0</text>
<text x="311.8" y="70.37" class="tl" text-anchor="end" textLength="4.1" lengthAdjust="spacingAndGlyphs">5</text>
<text x="311.8" y="39.73" class="tl" text-anchor="end" textLength="8.21" lengthAdjust="spacingAndGlyphs">10</text>
<text x="311.8" y="9.1" class="tl" text-anchor="end" textLength="8.21" lengthAdjust="spacingAndGlyphs">15</text>
<text x="407.85" y="214.7" class="xl" text-anchor="middle">HY-2C TB18.7(K)</text>
<text transform="translate(296.2 97.5) rotate(-90)" class="yl" text-anchor="middle">TB18.7 HY2C-Jason3(K)</text>
<rect x="513" y="5.6" width="9.6" height="183.8" fill="url(#jet)"/>
<rect x="513" y="5.6" width="9.6" height="183.8" fill="none" stroke="#bbb" stroke-width="0.4"/>
<text x="525.8" y="192.9" class="cl" textLength="4.1" lengthAdjust="spacingAndGlyphs">0</text>
<text x="525.8" y="163.56" class="cl" textLength="8.21" lengthAdjust="spacingAndGlyphs">20</text>
<text x="525.8" y="134.22" class="cl" textLength="8.21" lengthAdjust="spacingAndGlyphs">40</text>
<text x="525.8" y="104.89" class="cl" textLength="8.21" lengthAdjust="spacingAndGlyphs">60</text>
<text x="525.8" y="75.55" class="cl" textLength="8.21" lengthAdjust="spacingAndGlyphs">80</text>
<text x="525.8" y="46.21" class="cl" textLength="12.31" lengthAdjust="spacingAndGlyphs">100</text>
<text x="525.8" y="16.87" class="cl" textLength="12.31" lengthAdjust="spacingAndGlyphs">120</text>
<path stroke="#828282" stroke-width="0.6" fill="none" d="M522.6 189.4h-1.5M522.6 160.06h-1.5M522.6 130.72h-1.5M522.6 101.39h-1.5M522.6 72.05h-1.5M522.6 42.71h-1.5M522.6 13.37h-1.5"/>
<text transform="translate(548.5 97.5) rotate(-90)" class="bl" text-anchor="middle">bin number</text>
<text x="419.7" y="233.1" class="pl" text-anchor="middle">(b)</text>
<rect x="31.5" y="250.2" width="186.9" height="183.2" fill="#fff"/>
<path stroke="#dddddd" stroke-width="0.7" fill="none" d="M62.65 250.2V433.4M93.8 250.2V433.4M124.95 250.2V433.4M156.1 250.2V433.4M187.25 250.2V433.4M31.5 402.87H218.4M31.5 372.33H218.4M31.5 341.8H218.4M31.5 311.27H218.4M31.5 280.73H218.4"/>
<g shape-rendering="crispEdges"><path fill="#00008f" d="M56.42 410.5H59.54V412.03H56.42zM56.42 408.97H57.98V410.5H56.42zM61.09 408.97H64.21V410.5H61.09zM64.21 407.45H65.77V408.97H64.21zM57.98 405.92H59.54V407.45H57.98zM65.77 405.92H67.32V407.45H65.77zM59.54 404.39H61.09V405.92H59.54zM68.88 404.39H70.44V405.92H68.88zM68.88 402.87H70.44V404.39H68.88zM76.67 398.29H78.22V399.81H76.67zM75.11 396.76H78.22V398.29H75.11zM76.67 395.23H78.22V396.76H76.67zM67.32 393.71H68.88V395.23H67.32zM79.78 393.71H82.9V395.23H79.78zM68.88 392.18H70.44V393.71H68.88zM81.34 392.18H82.9V393.71H81.34zM82.9 390.65H84.46V392.18H82.9zM90.69 390.65H92.24V392.18H90.69zM70.44 389.13H72V390.65H70.44zM82.9 389.13H89.13V390.65H82.9zM72 387.6H73.55V389.13H72zM73.55 386.07H75.11V387.6H73.55zM89.13 386.07H90.69V387.6H89.13zM73.55 384.55H75.11V386.07H73.55zM87.57 384.55H92.24V386.07H87.57zM90.69 383.02H92.24V384.55H90.69zM75.11 381.49H78.22V383.02H75.11zM93.8 381.49H98.47V383.02H93.8zM78.22 379.97H79.78V381.49H78.22zM93.8 379.97H95.36V381.49H93.8zM96.92 379.97H98.47V381.49H96.92zM76.67 378.44H79.78V379.97H76.67zM95.36 378.44H98.47V379.97H95.36zM101.59 378.44H103.15V379.97H101.59zM76.67 376.91H78.22V378.44H76.67zM79.78 376.91H82.9V378.44H79.78zM96.92 376.91H98.47V378.44H96.92zM79.78 375.39H82.9V376.91H79.78zM98.47 375.39H100.03V376.91H98.47zM101.59 375.39H103.15V376.91H101.59zM101.59 373.86H103.15V375.39H101.59zM86.01 372.33H87.57V373.86H86.01zM101.59 372.33H106.26V373.86H101.59zM84.46 370.81H87.57V372.33H84.46zM103.15 370.81H107.82V372.33H103.15zM87.57 369.28H89.13V370.81H87.57zM106.26 369.28H107.82V370.81H106.26zM89.13 367.75H90.69V369.28H89.13zM106.26 367.75H107.82V369.28H106.26zM109.38 367.75H110.93V369.28H109.38zM109.38 366.23H112.49V367.75H109.38zM89.13 364.7H90.69V366.23H89.13zM107.82 364.7H112.49V366.23H107.82zM114.05 364.7H115.61V366.23H114.05zM117.16 364.7H118.72V366.23H117.16zM92.24 363.17H95.36V364.7H92.24zM110.93 363.17H112.49V364.7H110.93zM114.05 363.17H118.72V364.7H114.05zM95.36 361.65H96.92V363.17H95.36zM114.05 361.65H117.16V363.17H114.05zM120.28 361.65H121.84V363.17H120.28zM93.8 360.12H98.47V361.65H93.8zM114.05 360.12H118.72V361.65H114.05zM120.28 360.12H121.84V361.65H120.28zM98.47 358.59H100.03V360.12H98.47zM117.16 358.59H118.72V360.12H117.16zM95.36 357.07H96.92V358.59H95.36zM98.47 357.07H103.15V358.59H98.47zM120.28 357.07H123.39V358.59H120.28zM101.59 355.54H104.7V357.07H101.59zM118.72 355.54H123.39V357.07H118.72zM126.51 355.54H128.06V357.07H126.51zM121.84 354.01H123.39V355.54H121.84zM126.51 354.01H128.06V355.54H126.51zM103.15 352.49H106.26V354.01H103.15zM107.82 352.49H109.38V354.01H107.82zM120.28 352.49H123.39V354.01H120.28zM124.95 352.49H128.06V354.01H124.95zM129.62 352.49H131.18V354.01H129.62zM103.15 350.96H106.26V352.49H103.15zM107.82 350.96H109.38V352.49H107.82zM123.39 350.96H124.95V352.49H123.39zM129.62 350.96H131.18V352.49H129.62zM104.7 349.43H106.26V350.96H104.7zM124.95 349.43H131.18V350.96H124.95zM106.26 347.91H107.82V349.43H106.26zM109.38 347.91H110.93V349.43H109.38zM126.51 347.91H128.06V349.43H126.51zM131.18 347.91H132.74V349.43H131.18zM134.3 347.91H137.41V349.43H134.3zM107.82 346.38H109.38V347.91H107.82zM110.93 346.38H112.49V347.91H110.93zM126.51 346.38H128.06V347.91H126.51zM132.74 346.38H134.3V347.91H132.74zM137.41 346.38H138.97V347.91H137.41zM107.82 344.85H109.38V346.38H107.82zM110.93 344.85H112.49V346.38H110.93zM132.74 344.85H134.3V346.38H132.74zM138.97 344.85H140.53V346.38H138.97zM107.82 343.33H109.38V344.85H107.82zM134.3 343.33H138.97V344.85H134.3zM110.93 341.8H112.49V343.33H110.93zM114.05 341.8H117.16V343.33H114.05zM134.3 341.8H140.53V343.33H134.3zM107.82 340.27H109.38V341.8H107.82zM114.05 340.27H115.61V341.8H114.05zM117.16 340.27H118.72V341.8H117.16zM132.74 340.27H134.3V341.8H132.74zM135.85 340.27H137.41V341.8H135.85zM115.61 338.75H121.84V340.27H115.61zM138.97 338.75H140.53V340.27H138.97zM143.64 338.75H145.2V340.27H143.64zM120.28 337.22H121.84V338.75H120.28zM138.97 337.22H140.53V338.75H138.97zM115.61 335.69H117.16V337.22H115.61zM121.84 335.69H123.39V337.22H121.84zM138.97 335.69H140.53V337.22H138.97zM143.64 335.69H146.75V337.22H143.64zM115.61 334.17H117.16V335.69H115.61zM118.72 334.17H123.39V335.69H118.72zM138.97 334.17H140.53V335.69H138.97zM142.08 334.17H145.2V335.69H142.08zM117.16 332.64H118.72V334.17H117.16zM121.84 332.64H123.39V334.17H121.84zM124.95 332.64H126.51V334.17H124.95zM142.08 332.64H143.64V334.17H142.08zM145.2 332.64H146.75V334.17H145.2zM120.28 331.11H124.95V332.64H120.28zM143.64 331.11H148.31V332.64H143.64zM118.72 329.59H120.28V331.11H118.72zM124.95 329.59H126.51V331.11H124.95zM143.64 329.59H145.2V331.11H143.64zM148.31 329.59H149.87V331.11H148.31zM120.28 328.06H121.84V329.59H120.28zM123.39 328.06H126.51V329.59H123.39zM128.06 328.06H131.18V329.59H128.06zM145.2 328.06H146.75V329.59H145.2zM148.31 328.06H152.99V329.59H148.31zM120.28 326.53H121.84V328.06H120.28zM128.06 326.53H129.62V328.06H128.06zM131.18 326.53H132.74V328.06H131.18zM149.87 326.53H154.54V328.06H149.87zM131.18 325.01H134.3V326.53H131.18zM151.43 325.01H157.66V326.53H151.43zM128.06 323.48H129.62V325.01H128.06zM131.18 323.48H134.3V325.01H131.18zM152.99 323.48H156.1V325.01H152.99zM131.18 321.95H137.41V323.48H131.18zM154.54 321.95H159.22V323.48H154.54zM160.77 321.95H162.33V323.48H160.77zM131.18 320.43H132.74V321.95H131.18zM134.3 320.43H135.85V321.95H134.3zM157.66 320.43H159.22V321.95H157.66zM160.77 320.43H162.33V321.95H160.77zM131.18 318.9H132.74V320.43H131.18zM137.41 318.9H138.97V320.43H137.41zM157.66 318.9H162.33V320.43H157.66zM163.89 318.9H165.45V320.43H163.89zM137.41 317.37H138.97V318.9H137.41zM140.53 317.37H142.08V318.9H140.53zM157.66 317.37H159.22V318.9H157.66zM134.3 315.85H137.41V317.37H134.3zM138.97 315.85H140.53V317.37H138.97zM157.66 315.85H159.22V317.37H157.66zM162.33 315.85H163.89V317.37H162.33zM132.74 314.32H134.3V315.85H132.74zM140.53 314.32H145.2V315.85H140.53zM163.89 314.32H167V315.85H163.89zM171.68 314.32H173.23V315.85H171.68zM138.97 312.79H140.53V314.32H138.97zM142.08 312.79H143.64V314.32H142.08zM163.89 312.79H165.45V314.32H163.89zM170.12 312.79H171.68V314.32H170.12zM137.41 311.27H138.97V312.79H137.41zM143.64 311.27H146.75V312.79H143.64zM163.89 311.27H168.56V312.79H163.89zM171.68 311.27H173.23V312.79H171.68zM146.75 309.74H148.31V311.27H146.75zM167 309.74H171.68V311.27H167zM145.2 308.21H151.43V309.74H145.2zM167 308.21H170.12V309.74H167zM171.68 308.21H173.23V309.74H171.68zM145.2 306.69H146.75V308.21H145.2zM148.31 306.69H152.99V308.21H148.31zM171.68 306.69H177.91V308.21H171.68zM143.64 305.16H146.75V306.69H143.64zM149.87 305.16H152.99V306.69H149.87zM171.68 305.16H174.79V306.69H171.68zM149.87 303.63H151.43V305.16H149.87zM154.54 303.63H156.1V305.16H154.54zM173.23 303.63H176.35V305.16H173.23zM148.31 302.11H149.87V303.63H148.31zM154.54 302.11H156.1V303.63H154.54zM157.66 302.11H159.22V303.63H157.66zM174.79 302.11H177.91V303.63H174.79zM148.31 300.58H149.87V302.11H148.31zM152.99 300.58H156.1V302.11H152.99zM157.66 300.58H159.22V302.11H157.66zM174.79 300.58H176.35V302.11H174.79zM154.54 299.05H157.66V300.58H154.54zM159.22 299.05H162.33V300.58H159.22zM174.79 299.05H179.46V300.58H174.79zM157.66 297.53H162.33V299.05H157.66zM179.46 297.53H182.58V299.05H179.46zM184.14 297.53H185.69V299.05H184.14zM157.66 296H160.77V297.53H157.66zM162.33 296H163.89V297.53H162.33zM179.46 296H181.02V297.53H179.46zM182.58 296H184.14V297.53H182.58zM154.54 294.47H156.1V296H154.54zM159.22 294.47H160.77V296H159.22zM163.89 294.47H165.45V296H163.89zM177.91 294.47H179.46V296H177.91zM182.58 294.47H184.14V296H182.58zM187.25 294.47H188.81V296H187.25zM165.45 292.95H167V294.47H165.45zM177.91 292.95H179.46V294.47H177.91zM182.58 292.95H184.14V294.47H182.58zM188.81 292.95H190.37V294.47H188.81zM160.77 291.42H162.33V292.95H160.77zM163.89 291.42H167V292.95H163.89zM181.02 291.42H182.58V292.95H181.02zM185.69 291.42H187.25V292.95H185.69zM170.12 289.89H171.68V291.42H170.12zM181.02 289.89H182.58V291.42H181.02zM184.14 289.89H185.69V291.42H184.14zM160.77 288.37H163.89V289.89H160.77zM167 288.37H170.12V289.89H167zM171.68 288.37H173.23V289.89H171.68zM185.69 288.37H188.81V289.89H185.69zM196.59 288.37H198.15V289.89H196.59zM167 286.84H173.23V288.37H167zM188.81 286.84H190.37V288.37H188.81zM170.12 285.31H174.79V286.84H170.12zM179.46 285.31H181.02V286.84H179.46zM184.14 285.31H188.81V286.84H184.14zM190.37 285.31H193.48V286.84H190.37zM170.12 283.79H173.23V285.31H170.12zM174.79 283.79H179.46V285.31H174.79zM185.69 283.79H191.92V285.31H185.69zM195.04 283.79H196.59V285.31H195.04zM168.56 282.26H170.12V283.79H168.56zM171.68 282.26H176.35V283.79H171.68zM181.02 282.26H184.14V283.79H181.02zM185.69 282.26H187.25V283.79H185.69zM188.81 282.26H190.37V283.79H188.81zM191.92 282.26H195.04V283.79H191.92zM170.12 280.73H171.68V282.26H170.12zM173.23 280.73H174.79V282.26H173.23zM177.91 280.73H179.46V282.26H177.91zM182.58 280.73H184.14V282.26H182.58zM185.69 280.73H187.25V282.26H185.69zM190.37 280.73H191.92V282.26H190.37zM193.48 280.73H195.04V282.26H193.48zM177.91 279.21H181.02V280.73H177.91zM182.58 279.21H185.69V280.73H182.58zM191.92 279.21H193.48V280.73H191.92zM196.59 279.21H198.15V280.73H196.59zM179.46 277.68H184.14V279.21H179.46zM187.25 277.68H191.92V279.21H187.25zM193.48 277.68H196.59V279.21H193.48zM198.15 277.68H199.71V279.21H198.15zM201.27 277.68H202.83V279.21H201.27zM181.02 276.15H182.58V277.68H181.02zM185.69 276.15H187.25V277.68H185.69zM188.81 276.15H190.37V277.68H188.81zM191.92 276.15H196.59V277.68H191.92zM198.15 276.15H199.71V277.68H198.15zM179.46 274.63H181.02V276.15H179.46zM182.58 274.63H184.14V276.15H182.58zM188.81 274.63H193.48V276.15H188.81zM195.04 274.63H198.15V276.15H195.04zM199.71 274.63H201.27V276.15H199.71zM179.46 273.1H182.58V274.63H179.46zM187.25 273.1H188.81V274.63H187.25zM193.48 273.1H195.04V274.63H193.48zM201.27 273.1H204.38V274.63H201.27zM185.69 271.57H193.48V273.1H185.69zM195.04 271.57H196.59V273.1H195.04zM187.25 270.05H188.81V271.57H187.25zM190.37 270.05H191.92V271.57H190.37zM195.04 270.05H199.71V271.57H195.04zM185.69 268.52H187.25V270.05H185.69zM191.92 268.52H201.27V270.05H191.92zM204.38 268.52H205.94V270.05H204.38zM209.06 268.52H210.61V270.05H209.06zM191.92 266.99H193.48V268.52H191.92zM196.59 266.99H198.15V268.52H196.59zM199.71 266.99H201.27V268.52H199.71zM195.04 265.47H199.71V266.99H195.04zM201.27 265.47H202.83V266.99H201.27zM191.92 263.94H193.48V265.47H191.92zM195.04 263.94H196.59V265.47H195.04zM201.27 263.94H202.83V265.47H201.27zM193.48 262.41H196.59V263.94H193.48zM198.15 262.41H201.27V263.94H198.15zM202.83 262.41H204.38V263.94H202.83zM196.59 260.89H198.15V262.41H196.59zM201.27 260.89H204.38V262.41H201.27zM205.94 260.89H209.06V262.41H205.94zM193.48 259.36H195.04V260.89H193.48zM198.15 259.36H201.27V260.89H198.15zM198.15 257.83H199.71V259.36H198.15zM205.94 257.83H207.5V259.36H205.94zM209.06 257.83H210.61V259.36H209.06zM205.94 256.31H207.5V257.83H205.94zM204.38 254.78H205.94V256.31H204.38zM207.5 254.78H209.06V256.31H207.5zM205.94 253.25H207.5V254.78H205.94zM210.61 253.25H212.17V254.78H210.61z"/>
<path fill="#00009f" d="M59.54 408.97H61.09V410.5H59.54zM57.98 407.45H59.54V408.97H57.98zM64.21 405.92H65.77V407.45H64.21zM65.77 404.39H68.88V405.92H65.77zM67.32 402.87H68.88V404.39H67.32zM70.44 401.34H72V402.87H70.44zM72 399.81H73.55V401.34H72zM64.21 398.29H65.77V399.81H64.21zM73.55 398.29H75.11V399.81H73.55zM65.77 396.76H67.32V398.29H65.77zM78.22 393.71H79.78V395.23H78.22zM78.22 392.18H79.78V393.71H78.22zM70.44 390.65H72V392.18H70.44zM81.34 390.65H82.9V392.18H81.34zM73.55 387.6H75.11V389.13H73.55zM86.01 386.07H87.57V387.6H86.01zM75.11 384.55H76.67V386.07H75.11zM89.13 383.02H90.69V384.55H89.13zM78.22 381.49H79.78V383.02H78.22zM79.78 379.97H81.34V381.49H79.78zM95.36 379.97H96.92V381.49H95.36zM81.34 378.44H82.9V379.97H81.34zM82.9 376.91H84.46V378.44H82.9zM95.36 376.91H96.92V378.44H95.36zM84.46 375.39H86.01V376.91H84.46zM96.92 375.39H98.47V376.91H96.92zM84.46 373.86H86.01V375.39H84.46zM96.92 373.86H98.47V375.39H96.92zM100.03 373.86H101.59V375.39H100.03zM84.46 372.33H86.01V373.86H84.46zM100.03 372.33H101.59V373.86H100.03zM87.57 370.81H89.13V372.33H87.57zM101.59 370.81H103.15V372.33H101.59zM89.13 369.28H92.24V370.81H89.13zM103.15 369.28H106.26V370.81H103.15zM90.69 367.75H93.8V369.28H90.69zM107.82 367.75H109.38V369.28H107.82zM92.24 366.23H93.8V367.75H92.24zM106.26 366.23H109.38V367.75H106.26zM93.8 364.7H95.36V366.23H93.8zM95.36 363.17H98.47V364.7H95.36zM96.92 361.65H98.47V363.17H96.92zM110.93 361.65H114.05V363.17H110.93zM98.47 360.12H100.03V361.65H98.47zM112.49 360.12H114.05V361.65H112.49zM101.59 358.59H103.15V360.12H101.59zM115.61 358.59H117.16V360.12H115.61zM115.61 357.07H117.16V358.59H115.61zM117.16 355.54H118.72V357.07H117.16zM103.15 354.01H106.26V355.54H103.15zM118.72 354.01H121.84V355.54H118.72zM106.26 352.49H107.82V354.01H106.26zM106.26 350.96H107.82V352.49H106.26zM124.95 350.96H126.51V352.49H124.95zM123.39 349.43H124.95V350.96H123.39zM110.93 347.91H112.49V349.43H110.93zM124.95 347.91H126.51V349.43H124.95zM112.49 346.38H114.05V347.91H112.49zM128.06 346.38H131.18V347.91H128.06zM112.49 344.85H114.05V346.38H112.49zM128.06 344.85H131.18V346.38H128.06zM115.61 343.33H117.16V344.85H115.61zM129.62 343.33H131.18V344.85H129.62zM131.18 341.8H134.3V343.33H131.18zM118.72 340.27H120.28V341.8H118.72zM134.3 340.27H135.85V341.8H134.3zM135.85 338.75H137.41V340.27H135.85zM114.05 337.22H115.61V338.75H114.05zM137.41 337.22H138.97V338.75H137.41zM137.41 335.69H138.97V337.22H137.41zM114.05 334.17H115.61V335.69H114.05zM123.39 334.17H126.51V335.69H123.39zM140.53 334.17H142.08V335.69H140.53zM123.39 332.64H124.95V334.17H123.39zM143.64 332.64H145.2V334.17H143.64zM124.95 331.11H128.06V332.64H124.95zM142.08 331.11H143.64V332.64H142.08zM126.51 329.59H129.62V331.11H126.51zM145.2 329.59H148.31V331.11H145.2zM149.87 329.59H151.43V331.11H149.87zM146.75 328.06H148.31V329.59H146.75zM148.31 326.53H149.87V328.06H148.31zM134.3 325.01H135.85V326.53H134.3zM148.31 325.01H151.43V326.53H148.31zM134.3 323.48H137.41V325.01H134.3zM151.43 323.48H152.99V325.01H151.43zM137.41 321.95H138.97V323.48H137.41zM135.85 320.43H140.53V321.95H135.85zM154.54 320.43H156.1V321.95H154.54zM138.97 318.9H142.08V320.43H138.97zM154.54 318.9H157.66V320.43H154.54zM140.53 315.85H143.64V317.37H140.53zM159.22 315.85H162.33V317.37H159.22zM160.77 314.32H162.33V315.85H160.77zM143.64 312.79H145.2V314.32H143.64zM146.75 312.79H148.31V314.32H146.75zM162.33 312.79H163.89V314.32H162.33zM148.31 311.27H149.87V312.79H148.31zM162.33 311.27H163.89V312.79H162.33zM145.2 309.74H146.75V311.27H145.2zM148.31 309.74H149.87V311.27H148.31zM165.45 309.74H167V311.27H165.45zM151.43 308.21H152.99V309.74H151.43zM148.31 305.16H149.87V306.69H148.31zM152.99 305.16H156.1V306.69H152.99zM167 305.16H168.56V306.69H167zM170.12 305.16H171.68V306.69H170.12zM152.99 303.63H154.54V305.16H152.99zM171.68 303.63H173.23V305.16H171.68zM156.1 302.11H157.66V303.63H156.1zM171.68 302.11H174.79V303.63H171.68zM156.1 300.58H157.66V302.11H156.1zM173.23 300.58H174.79V302.11H173.23zM162.33 297.53H163.89V299.05H162.33zM174.79 297.53H177.91V299.05H174.79zM160.77 296H162.33V297.53H160.77zM163.89 296H165.45V297.53H163.89zM176.35 296H179.46V297.53H176.35zM165.45 294.47H167V296H165.45zM179.46 294.47H182.58V296H179.46zM163.89 292.95H165.45V294.47H163.89zM167 292.95H168.56V294.47H167zM167 291.42H171.68V292.95H167zM179.46 291.42H181.02V292.95H179.46zM171.68 289.89H174.79V291.42H171.68zM170.12 288.37H171.68V289.89H170.12zM173.23 288.37H176.35V289.89H173.23zM179.46 288.37H184.14V289.89H179.46zM173.23 286.84H176.35V288.37H173.23zM177.91 286.84H179.46V288.37H177.91zM181.02 286.84H185.69V288.37H181.02zM174.79 285.31H177.91V286.84H174.79zM173.23 283.79H174.79V285.31H173.23zM179.46 283.79H182.58V285.31H179.46zM176.35 282.26H181.02V283.79H176.35zM187.25 282.26H188.81V283.79H187.25zM179.46 280.73H182.58V282.26H179.46zM184.14 280.73H185.69V282.26H184.14zM187.25 280.73H190.37V282.26H187.25zM181.02 279.21H182.58V280.73H181.02zM187.25 279.21H188.81V280.73H187.25zM190.37 279.21H191.92V280.73H190.37zM184.14 277.68H185.69V279.21H184.14zM191.92 277.68H193.48V279.21H191.92zM190.37 276.15H191.92V277.68H190.37zM185.69 274.63H187.25V276.15H185.69zM198.15 274.63H199.71V276.15H198.15zM185.69 273.1H187.25V274.63H185.69zM195.04 273.1H196.59V274.63H195.04zM195.04 266.99H196.59V268.52H195.04z"/>
<path fill="#0000af" d="M57.98 408.97H59.54V410.5H57.98zM62.65 407.45H64.21V408.97H62.65zM61.09 402.87H62.65V404.39H61.09zM68.88 401.34H70.44V402.87H68.88zM70.44 399.81H72V401.34H70.44zM73.55 396.76H75.11V398.29H73.55zM67.32 395.23H68.88V396.76H67.32zM79.78 392.18H81.34V393.71H79.78zM72 389.13H73.55V390.65H72zM82.9 387.6H86.01V389.13H82.9zM76.67 383.02H78.22V384.55H76.67zM87.57 383.02H89.13V384.55H87.57zM90.69 381.49H92.24V383.02H90.69zM92.24 379.97H93.8V381.49H92.24zM82.9 378.44H84.46V379.97H82.9zM92.24 378.44H93.8V379.97H92.24zM93.8 376.91H95.36V378.44H93.8zM86.01 375.39H87.57V376.91H86.01zM86.01 373.86H87.57V375.39H86.01zM98.47 373.86H100.03V375.39H98.47zM87.57 372.33H89.13V373.86H87.57zM89.13 370.81H90.69V372.33H89.13zM103.15 367.75H106.26V369.28H103.15zM93.8 366.23H95.36V367.75H93.8zM95.36 364.7H96.92V366.23H95.36zM109.38 363.17H110.93V364.7H109.38zM98.47 361.65H100.03V363.17H98.47zM109.38 361.65H110.93V363.17H109.38zM100.03 360.12H101.59V361.65H100.03zM100.03 358.59H101.59V360.12H100.03zM112.49 358.59H115.61V360.12H112.49zM103.15 357.07H104.7V358.59H103.15zM120.28 350.96H123.39V352.49H120.28zM109.38 349.43H110.93V350.96H109.38zM114.05 344.85H115.61V346.38H114.05zM126.51 344.85H128.06V346.38H126.51zM117.16 341.8H118.72V343.33H117.16zM134.3 338.75H135.85V340.27H134.3zM121.84 337.22H123.39V338.75H121.84zM123.39 335.69H124.95V337.22H123.39zM126.51 332.64H128.06V334.17H126.51zM140.53 332.64H142.08V334.17H140.53zM128.06 331.11H131.18V332.64H128.06zM131.18 328.06H132.74V329.59H131.18zM132.74 326.53H134.3V328.06H132.74zM146.75 326.53H148.31V328.06H146.75zM151.43 321.95H154.54V323.48H151.43zM152.99 320.43H154.54V321.95H152.99zM156.1 317.37H157.66V318.9H156.1zM143.64 315.85H145.2V317.37H143.64zM159.22 314.32H160.77V315.85H159.22zM163.89 309.74H165.45V311.27H163.89zM165.45 308.21H167V309.74H165.45zM152.99 306.69H154.54V308.21H152.99zM167 306.69H170.12V308.21H167zM168.56 305.16H170.12V306.69H168.56zM156.1 303.63H157.66V305.16H156.1zM170.12 303.63H171.68V305.16H170.12zM173.23 297.53H174.79V299.05H173.23zM165.45 296H167V297.53H165.45zM168.56 292.95H170.12V294.47H168.56zM179.46 292.95H181.02V294.47H179.46zM177.91 291.42H179.46V292.95H177.91zM176.35 288.37H179.46V289.89H176.35zM176.35 286.84H177.91V288.37H176.35zM179.46 286.84H181.02V288.37H179.46zM177.91 285.31H179.46V286.84H177.91zM182.58 285.31H184.14V286.84H182.58zM182.58 283.79H185.69V285.31H182.58zM184.14 282.26H185.69V283.79H184.14z"/>
<path fill="#0000bf" d="M59.54 407.45H62.65V408.97H59.54zM64.21 404.39H65.77V405.92H64.21zM64.21 399.81H65.77V401.34H64.21zM72 398.29H73.55V399.81H72zM68.88 393.71H70.44V395.23H68.88zM81.34 389.13H82.9V390.65H81.34zM75.11 386.07H76.67V387.6H75.11zM84.46 386.07H86.01V387.6H84.46zM76.67 384.55H78.22V386.07H76.67zM86.01 384.55H87.57V386.07H86.01zM78.22 383.02H79.78V384.55H78.22zM79.78 381.49H81.34V383.02H79.78zM89.13 381.49H90.69V383.02H89.13zM81.34 379.97H82.9V381.49H81.34zM90.69 379.97H92.24V381.49H90.69zM93.8 378.44H95.36V379.97H93.8zM95.36 375.39H96.92V376.91H95.36zM87.57 373.86H89.13V375.39H87.57zM98.47 372.33H100.03V373.86H98.47zM100.03 370.81H101.59V372.33H100.03zM101.59 369.28H103.15V370.81H101.59zM114.05 357.07H115.61V358.59H114.05zM106.26 354.01H107.82V355.54H106.26zM117.16 354.01H118.72V355.54H117.16zM109.38 350.96H110.93V352.49H109.38zM110.93 349.43H112.49V350.96H110.93zM114.05 346.38H115.61V347.91H114.05zM124.95 346.38H126.51V347.91H124.95zM117.16 343.33H118.72V344.85H117.16zM128.06 343.33H129.62V344.85H128.06zM129.62 341.8H131.18V343.33H129.62zM120.28 340.27H121.84V341.8H120.28zM121.84 338.75H123.39V340.27H121.84zM135.85 337.22H137.41V338.75H135.85zM124.95 335.69H126.51V337.22H124.95zM129.62 329.59H131.18V331.11H129.62zM143.64 328.06H145.2V329.59H143.64zM142.08 317.37H143.64V318.9H142.08zM145.2 314.32H146.75V315.85H145.2zM145.2 312.79H146.75V314.32H145.2zM160.77 312.79H162.33V314.32H160.77zM149.87 309.74H151.43V311.27H149.87zM157.66 303.63H159.22V305.16H157.66zM168.56 303.63H170.12V305.16H168.56zM159.22 302.11H160.77V303.63H159.22zM160.77 300.58H162.33V302.11H160.77zM174.79 296H176.35V297.53H174.79zM167 294.47H168.56V296H167zM176.35 294.47H177.91V296H176.35zM171.68 291.42H173.23V292.95H171.68zM177.91 289.89H181.02V291.42H177.91z"/>
<path fill="#0000cf" d="M62.65 401.34H64.21V402.87H62.65zM75.11 395.23H76.67V396.76H75.11zM79.78 390.65H81.34V392.18H79.78zM84.46 376.91H86.01V378.44H84.46zM90.69 370.81H92.24V372.33H90.69zM104.7 366.23H106.26V367.75H104.7zM106.26 364.7H107.82V366.23H106.26zM107.82 363.17H109.38V364.7H107.82zM110.93 360.12H112.49V361.65H110.93zM104.7 355.54H106.26V357.07H104.7zM115.61 355.54H117.16V357.07H115.61zM118.72 352.49H120.28V354.01H118.72zM121.84 349.43H123.39V350.96H121.84zM112.49 347.91H114.05V349.43H112.49zM123.39 347.91H124.95V349.43H123.39zM118.72 341.8H120.28V343.33H118.72zM131.18 340.27H132.74V341.8H131.18zM149.87 321.95H151.43V323.48H149.87zM154.54 317.37H156.1V318.9H154.54zM157.66 314.32H159.22V315.85H157.66zM160.77 311.27H162.33V312.79H160.77zM163.89 308.21H165.45V309.74H163.89zM154.54 306.69H156.1V308.21H154.54zM156.1 305.16H157.66V306.69H156.1zM162.33 299.05H163.89V300.58H162.33zM170.12 292.95H171.68V294.47H170.12zM176.35 289.89H177.91V291.42H176.35zM181.02 285.31H182.58V286.84H181.02z"/>
<path fill="#0000df" d="M62.65 405.92H64.21V407.45H62.65zM65.77 402.87H67.32V404.39H65.77zM65.77 398.29H67.32V399.81H65.77zM67.32 396.76H68.88V398.29H67.32zM76.67 393.71H78.22V395.23H76.67zM72 390.65H73.55V392.18H72zM89.13 372.33H90.69V373.86H89.13zM93.8 367.75H95.36V369.28H93.8zM121.84 347.91H123.39V349.43H121.84zM115.61 344.85H117.16V346.38H115.61zM145.2 326.53H146.75V328.06H145.2zM137.41 323.48H138.97V325.01H137.41zM149.87 323.48H151.43V325.01H149.87zM151.43 320.43H152.99V321.95H151.43zM143.64 317.37H145.2V318.9H143.64zM148.31 312.79H149.87V314.32H148.31zM159.22 312.79H160.77V314.32H159.22zM151.43 309.74H152.99V311.27H151.43zM160.77 302.11H162.33V303.63H160.77zM171.68 300.58H173.23V302.11H171.68zM171.68 299.05H174.79V300.58H171.68zM163.89 297.53H167V299.05H163.89zM176.35 292.95H177.91V294.47H176.35z"/>
<path fill="#0000ef" d="M59.54 405.92H61.09V407.45H59.54zM61.09 404.39H62.65V405.92H61.09zM62.65 402.87H65.77V404.39H62.65zM68.88 399.81H70.44V401.34H68.88zM73.55 395.23H75.11V396.76H73.55zM70.44 392.18H72V393.71H70.44zM73.55 389.13H75.11V390.65H73.55zM92.24 369.28H93.8V370.81H92.24zM96.92 364.7H98.47V366.23H96.92zM104.7 364.7H106.26V366.23H104.7zM101.59 360.12H103.15V361.65H101.59zM110.93 350.96H112.49V352.49H110.93zM120.28 349.43H121.84V350.96H120.28zM132.74 338.75H134.3V340.27H132.74zM123.39 337.22H124.95V338.75H123.39zM134.3 337.22H135.85V338.75H134.3zM126.51 334.17H128.06V335.69H126.51zM137.41 334.17H138.97V335.69H137.41zM138.97 332.64H140.53V334.17H138.97zM142.08 329.59H143.64V331.11H142.08zM132.74 328.06H134.3V329.59H132.74zM135.85 325.01H137.41V326.53H135.85zM146.75 325.01H148.31V326.53H146.75zM145.2 315.85H146.75V317.37H145.2zM146.75 314.32H148.31V315.85H146.75zM149.87 311.27H151.43V312.79H149.87zM162.33 309.74H163.89V311.27H162.33zM152.99 308.21H154.54V309.74H152.99zM156.1 306.69H157.66V308.21H156.1zM165.45 306.69H167V308.21H165.45zM170.12 302.11H171.68V303.63H170.12zM170.12 300.58H171.68V302.11H170.12zM167 296H168.56V297.53H167zM168.56 294.47H170.12V296H168.56zM174.79 294.47H176.35V296H174.79zM171.68 292.95H173.23V294.47H171.68zM174.79 292.95H176.35V294.47H174.79zM174.79 289.89H176.35V291.42H174.79z"/>
<path fill="#0000ff" d="M61.09 405.92H62.65V407.45H61.09zM75.11 387.6H76.67V389.13H75.11zM78.22 384.55H79.78V386.07H78.22zM82.9 379.97H84.46V381.49H82.9zM92.24 376.91H93.8V378.44H92.24zM96.92 372.33H98.47V373.86H96.92zM95.36 366.23H96.92V367.75H95.36zM103.15 366.23H104.7V367.75H103.15zM103.15 358.59H104.7V360.12H103.15zM110.93 358.59H112.49V360.12H110.93zM115.61 354.01H117.16V355.54H115.61zM109.38 352.49H110.93V354.01H109.38zM126.51 343.33H128.06V344.85H126.51zM135.85 335.69H137.41V337.22H135.85zM128.06 332.64H129.62V334.17H128.06zM134.3 326.53H135.85V328.06H134.3zM148.31 323.48H149.87V325.01H148.31zM138.97 321.95H140.53V323.48H138.97zM140.53 320.43H142.08V321.95H140.53zM142.08 318.9H143.64V320.43H142.08zM152.99 318.9H154.54V320.43H152.99zM156.1 315.85H157.66V317.37H156.1zM157.66 305.16H159.22V306.69H157.66zM159.22 303.63H160.77V305.16H159.22zM173.23 296H174.79V297.53H173.23zM170.12 294.47H171.68V296H170.12zM173.23 292.95H174.79V294.47H173.23z"/>
<path fill="#0010ff" d="M67.32 401.34H68.88V402.87H67.32zM65.77 399.81H67.32V401.34H65.77zM70.44 398.29H72V399.81H70.44zM72 396.76H73.55V398.29H72zM75.11 393.71H76.67V395.23H75.11zM72 392.18H73.55V393.71H72zM78.22 390.65H79.78V392.18H78.22zM86.01 376.91H87.57V378.44H86.01zM100.03 369.28H101.59V370.81H100.03zM101.59 367.75H103.15V369.28H101.59zM100.03 361.65H101.59V363.17H100.03zM112.49 357.07H114.05V358.59H112.49zM106.26 355.54H107.82V357.07H106.26zM112.49 349.43H114.05V350.96H112.49zM124.95 344.85H126.51V346.38H124.95zM140.53 331.11H142.08V332.64H140.53zM131.18 329.59H132.74V331.11H131.18zM165.45 305.16H167V306.69H165.45zM167 303.63H168.56V305.16H167zM162.33 300.58H163.89V302.11H162.33zM163.89 299.05H165.45V300.58H163.89zM173.23 291.42H177.91V292.95H173.23z"/>
<path fill="#0020ff" d="M65.77 401.34H67.32V402.87H65.77zM67.32 399.81H68.88V401.34H67.32zM68.88 396.76H70.44V398.29H68.88zM79.78 389.13H81.34V390.65H79.78zM81.34 387.6H82.9V389.13H81.34zM84.46 384.55H86.01V386.07H84.46zM86.01 383.02H87.57V384.55H86.01zM90.69 378.44H92.24V379.97H90.69zM93.8 375.39H95.36V376.91H93.8zM95.36 373.86H96.92V375.39H95.36zM98.47 363.17H100.03V364.7H98.47zM106.26 363.17H107.82V364.7H106.26zM107.82 361.65H109.38V363.17H107.82zM104.7 357.07H106.26V358.59H104.7zM118.72 350.96H120.28V352.49H118.72zM115.61 346.38H117.16V347.91H115.61zM123.39 346.38H124.95V347.91H123.39zM118.72 343.33H120.28V344.85H118.72zM154.54 315.85H156.1V317.37H154.54zM171.68 297.53H173.23V299.05H171.68zM173.23 294.47H174.79V296H173.23z"/>
<path fill="#0030ff" d="M70.44 393.71H72V395.23H70.44zM82.9 386.07H84.46V387.6H82.9zM79.78 383.02H81.34V384.55H79.78zM87.57 381.49H89.13V383.02H87.57zM89.13 379.97H90.69V381.49H89.13zM109.38 360.12H110.93V361.65H109.38zM114.05 355.54H115.61V357.07H114.05zM107.82 354.01H109.38V355.54H107.82zM117.16 352.49H118.72V354.01H117.16zM120.28 341.8H121.84V343.33H120.28zM151.43 311.27H152.99V312.79H151.43zM171.68 294.47H173.23V296H171.68z"/>
<path fill="#0040ff" d="M64.21 401.34H65.77V402.87H64.21zM68.88 395.23H70.44V396.76H68.88zM75.11 392.18H76.67V393.71H75.11zM73.55 390.65H75.11V392.18H73.55zM76.67 386.07H78.22V387.6H76.67zM87.57 375.39H89.13V376.91H87.57zM89.13 373.86H90.69V375.39H89.13zM96.92 366.23H98.47V367.75H96.92zM114.05 347.91H115.61V349.43H114.05zM128.06 341.8H129.62V343.33H128.06zM123.39 338.75H124.95V340.27H123.39zM149.87 312.79H151.43V314.32H149.87zM168.56 302.11H170.12V303.63H168.56zM168.56 296H170.12V297.53H168.56zM171.68 296H173.23V297.53H171.68z"/>
<path fill="#0050ff" d="M62.65 404.39H64.21V405.92H62.65zM67.32 398.29H68.88V399.81H67.32zM73.55 393.71H75.11V395.23H73.55zM76.67 392.18H78.22V393.71H76.67zM79.78 384.55H81.34V386.07H79.78zM98.47 370.81H100.03V372.33H98.47zM121.84 340.27H123.39V341.8H121.84zM124.95 337.22H126.51V338.75H124.95zM134.3 335.69H135.85V337.22H134.3zM148.31 321.95H149.87V323.48H148.31zM149.87 320.43H151.43V321.95H149.87zM151.43 318.9H152.99V320.43H151.43zM156.1 314.32H157.66V315.85H156.1zM154.54 308.21H156.1V309.74H154.54zM165.45 299.05H167V300.58H165.45z"/>
<path fill="#0060ff" d="M70.44 396.76H72V398.29H70.44zM70.44 395.23H72V396.76H70.44zM92.24 375.39H93.8V376.91H92.24zM93.8 373.86H95.36V375.39H93.8zM101.59 366.23H103.15V367.75H101.59zM101.59 361.65H103.15V363.17H101.59zM103.15 360.12H104.7V361.65H103.15zM104.7 358.59H106.26V360.12H104.7zM131.18 338.75H132.74V340.27H131.18zM142.08 328.06H143.64V329.59H142.08zM152.99 317.37H154.54V318.9H152.99zM148.31 314.32H149.87V315.85H148.31zM152.99 309.74H154.54V311.27H152.99zM170.12 299.05H171.68V300.58H170.12zM167 297.53H168.56V299.05H167zM170.12 297.53H171.68V299.05H170.12z"/>
<path fill="#0070ff" d="M72 395.23H73.55V396.76H72zM75.11 389.13H76.67V390.65H75.11zM84.46 378.44H86.01V379.97H84.46zM90.69 372.33H92.24V373.86H90.69zM100.03 363.17H101.59V364.7H100.03zM110.93 357.07H112.49V358.59H110.93zM114.05 354.01H115.61V355.54H114.05zM117.16 344.85H118.72V346.38H117.16zM126.51 335.69H128.06V337.22H126.51zM138.97 331.11H140.53V332.64H138.97zM146.75 323.48H148.31V325.01H146.75zM145.2 317.37H146.75V318.9H145.2zM157.66 312.79H159.22V314.32H157.66zM159.22 311.27H160.77V312.79H159.22zM160.77 309.74H162.33V311.27H160.77zM162.33 308.21H163.89V309.74H162.33z"/>
<path fill="#0080ff" d="M68.88 398.29H70.44V399.81H68.88zM72 393.71H73.55V395.23H72zM73.55 392.18H75.11V393.71H73.55zM76.67 387.6H78.22V389.13H76.67zM79.78 386.07H81.34V387.6H79.78zM81.34 381.49H82.9V383.02H81.34zM86.01 381.49H87.57V383.02H86.01zM90.69 376.91H92.24V378.44H90.69zM96.92 370.81H98.47V372.33H96.92zM93.8 369.28H95.36V370.81H93.8zM95.36 367.75H96.92V369.28H95.36zM104.7 363.17H106.26V364.7H104.7zM106.26 357.07H107.82V358.59H106.26zM129.62 340.27H131.18V341.8H129.62zM132.74 337.22H134.3V338.75H132.74zM131.18 331.11H132.74V332.64H131.18zM143.64 326.53H145.2V328.06H143.64zM145.2 325.01H146.75V326.53H145.2zM168.56 300.58H170.12V302.11H168.56z"/>
<path fill="#008fff" d="M76.67 390.65H78.22V392.18H76.67zM76.67 389.13H79.78V390.65H76.67zM78.22 386.07H79.78V387.6H78.22zM92.24 370.81H93.8V372.33H92.24zM100.03 367.75H101.59V369.28H100.03zM98.47 364.7H100.03V366.23H98.47zM103.15 364.7H104.7V366.23H103.15zM106.26 361.65H107.82V363.17H106.26zM107.82 355.54H109.38V357.07H107.82zM112.49 355.54H114.05V357.07H112.49zM137.41 332.64H138.97V334.17H137.41zM140.53 329.59H142.08V331.11H140.53zM143.64 318.9H145.2V320.43H143.64zM163.89 306.69H165.45V308.21H163.89zM163.89 300.58H165.45V302.11H163.89z"/>
<path fill="#009fff" d="M78.22 387.6H79.78V389.13H78.22zM89.13 375.39H90.69V376.91H89.13zM95.36 372.33H96.92V373.86H95.36zM121.84 346.38H123.39V347.91H121.84zM146.75 315.85H148.31V317.37H146.75zM165.45 303.63H167V305.16H165.45zM162.33 302.11H163.89V303.63H162.33zM170.12 296H171.68V297.53H170.12z"/>
<path fill="#00afff" d="M75.11 390.65H76.67V392.18H75.11zM82.9 381.49H84.46V383.02H82.9zM92.24 372.33H93.8V373.86H92.24zM93.8 370.81H95.36V372.33H93.8zM109.38 358.59H110.93V360.12H109.38zM115.61 352.49H117.16V354.01H115.61zM112.49 350.96H114.05V352.49H112.49zM117.16 346.38H118.72V347.91H117.16zM128.06 334.17H129.62V335.69H128.06zM135.85 326.53H137.41V328.06H135.85zM157.66 306.69H159.22V308.21H157.66zM162.33 306.69H163.89V308.21H162.33zM159.22 305.16H160.77V306.69H159.22zM167 299.05H168.56V300.58H167zM168.56 297.53H170.12V299.05H168.56z"/>
<path fill="#00bfff" d="M82.9 383.02H84.46V384.55H82.9zM87.57 379.97H89.13V381.49H87.57zM89.13 378.44H90.69V379.97H89.13zM96.92 367.75H98.47V369.28H96.92zM109.38 354.01H110.93V355.54H109.38zM110.93 352.49H112.49V354.01H110.93zM117.16 350.96H118.72V352.49H117.16zM114.05 349.43H115.61V350.96H114.05zM118.72 349.43H120.28V350.96H118.72zM129.62 332.64H131.18V334.17H129.62zM137.41 325.01H138.97V326.53H137.41zM138.97 323.48H140.53V325.01H138.97zM142.08 320.43H143.64V321.95H142.08zM167 302.11H168.56V303.63H167zM165.45 300.58H167V302.11H165.45z"/>
<path fill="#00cfff" d="M81.34 386.07H82.9V387.6H81.34zM84.46 383.02H86.01V384.55H84.46zM98.47 366.23H100.03V367.75H98.47zM100.03 364.7H101.59V366.23H100.03zM103.15 363.17H104.7V364.7H103.15zM115.61 347.91H117.16V349.43H115.61zM120.28 343.33H121.84V344.85H120.28zM124.95 343.33H126.51V344.85H124.95zM135.85 334.17H137.41V335.69H135.85zM132.74 329.59H134.3V331.11H132.74zM134.3 328.06H135.85V329.59H134.3zM140.53 321.95H142.08V323.48H140.53zM156.1 308.21H157.66V309.74H156.1zM160.77 303.63H162.33V305.16H160.77z"/>
<path fill="#00dfff" d="M81.34 383.02H82.9V384.55H81.34zM98.47 369.28H100.03V370.81H98.47zM107.82 358.59H109.38V360.12H107.82zM118.72 344.85H120.28V346.38H118.72zM154.54 309.74H156.1V311.27H154.54z"/>
<path fill="#00efff" d="M82.9 384.55H84.46V386.07H82.9zM86.01 378.44H89.13V379.97H86.01zM98.47 367.75H100.03V369.28H98.47zM100.03 366.23H101.59V367.75H100.03zM109.38 357.07H110.93V358.59H109.38zM115.61 350.96H117.16V352.49H115.61zM118.72 347.91H120.28V349.43H118.72zM123.39 344.85H124.95V346.38H123.39zM123.39 340.27H124.95V341.8H123.39zM151.43 317.37H152.99V318.9H151.43zM160.77 308.21H162.33V309.74H160.77z"/>
<path fill="#00ffff" d="M79.78 387.6H81.34V389.13H79.78zM84.46 379.97H86.01V381.49H84.46zM92.24 373.86H93.8V375.39H92.24zM101.59 364.7H103.15V366.23H101.59zM104.7 360.12H106.26V361.65H104.7zM107.82 360.12H109.38V361.65H107.82zM112.49 352.49H114.05V354.01H112.49zM120.28 347.91H121.84V349.43H120.28zM126.51 341.8H128.06V343.33H126.51zM152.99 311.27H154.54V312.79H152.99zM157.66 311.27H159.22V312.79H157.66zM168.56 299.05H170.12V300.58H168.56z"/>
<path fill="#10ffef" d="M81.34 384.55H82.9V386.07H81.34zM86.01 379.97H87.57V381.49H86.01zM89.13 376.91H90.69V378.44H89.13zM93.8 372.33H95.36V373.86H93.8zM96.92 369.28H98.47V370.81H96.92zM106.26 360.12H107.82V361.65H106.26zM120.28 346.38H121.84V347.91H120.28zM129.62 338.75H131.18V340.27H129.62zM146.75 317.37H148.31V318.9H146.75zM163.89 305.16H165.45V306.69H163.89zM167 300.58H168.56V302.11H167z"/>
<path fill="#20ffdf" d="M87.57 376.91H89.13V378.44H87.57zM95.36 369.28H96.92V370.81H95.36zM110.93 354.01H114.05V355.54H110.93zM145.2 323.48H146.75V325.01H145.2zM146.75 321.95H148.31V323.48H146.75zM149.87 318.9H151.43V320.43H149.87zM162.33 303.63H163.89V305.16H162.33z"/>
<path fill="#30ffcf" d="M90.69 373.86H92.24V375.39H90.69zM103.15 361.65H106.26V363.17H103.15zM106.26 358.59H107.82V360.12H106.26zM109.38 355.54H110.93V357.07H109.38zM114.05 350.96H115.61V352.49H114.05zM121.84 341.8H123.39V343.33H121.84zM128.06 335.69H129.62V337.22H128.06zM152.99 315.85H154.54V317.37H152.99zM156.1 312.79H157.66V314.32H156.1zM159.22 309.74H160.77V311.27H159.22zM159.22 306.69H160.77V308.21H159.22z"/>
<path fill="#40ffbf" d="M84.46 381.49H86.01V383.02H84.46zM95.36 370.81H96.92V372.33H95.36zM101.59 363.17H103.15V364.7H101.59zM115.61 349.43H118.72V350.96H115.61zM120.28 344.85H121.84V346.38H120.28zM124.95 338.75H126.51V340.27H124.95zM149.87 314.32H151.43V315.85H149.87zM163.89 303.63H165.45V305.16H163.89zM165.45 302.11H167V303.63H165.45z"/>
<path fill="#50ffaf" d="M90.69 375.39H92.24V376.91H90.69zM114.05 352.49H115.61V354.01H114.05zM118.72 346.38H120.28V347.91H118.72zM128.06 340.27H129.62V341.8H128.06zM126.51 337.22H128.06V338.75H126.51zM131.18 337.22H132.74V338.75H131.18zM129.62 334.17H131.18V335.69H129.62zM143.64 325.01H145.2V326.53H143.64zM148.31 315.85H149.87V317.37H148.31zM151.43 312.79H152.99V314.32H151.43zM163.89 302.11H165.45V303.63H163.89z"/>
<path fill="#60ff9f" d="M123.39 343.33H124.95V344.85H123.39zM154.54 314.32H156.1V315.85H154.54zM160.77 305.16H162.33V306.69H160.77z"/>
<path fill="#70ff8f" d="M117.16 347.91H118.72V349.43H117.16zM151.43 314.32H152.99V315.85H151.43zM160.77 306.69H162.33V308.21H160.77z"/>
<path fill="#80ff80" d="M107.82 357.07H109.38V358.59H107.82zM110.93 355.54H112.49V357.07H110.93zM132.74 335.69H134.3V337.22H132.74z"/>
<path fill="#8fff70" d="M121.84 343.33H123.39V344.85H121.84zM148.31 320.43H149.87V321.95H148.31z"/>
<path fill="#9fff60" d="M123.39 341.8H124.95V343.33H123.39zM140.53 328.06H142.08V329.59H140.53zM145.2 318.9H146.75V320.43H145.2zM148.31 318.9H149.87V320.43H148.31zM152.99 312.79H156.1V314.32H152.99zM156.1 309.74H159.22V311.27H156.1z"/>
<path fill="#afff50" d="M121.84 344.85H123.39V346.38H121.84zM134.3 334.17H135.85V335.69H134.3zM132.74 331.11H134.3V332.64H132.74zM157.66 308.21H159.22V309.74H157.66z"/>
<path fill="#bfff40" d="M124.95 341.8H126.51V343.33H124.95zM135.85 332.64H137.41V334.17H135.85zM142.08 326.53H143.64V328.06H142.08zM140.53 323.48H142.08V325.01H140.53zM143.64 320.43H145.2V321.95H143.64zM151.43 315.85H152.99V317.37H151.43z"/>
<path fill="#cfff30" d="M126.51 340.27H128.06V341.8H126.51zM137.41 331.11H138.97V332.64H137.41zM149.87 315.85H151.43V317.37H149.87zM152.99 314.32H154.54V315.85H152.99zM156.1 311.27H157.66V312.79H156.1z"/>
<path fill="#dfff20" d="M154.54 311.27H156.1V312.79H154.54zM159.22 308.21H160.77V309.74H159.22z"/>
<path fill="#efff10" d="M131.18 335.69H132.74V337.22H131.18zM131.18 332.64H132.74V334.17H131.18zM134.3 329.59H135.85V331.11H134.3zM162.33 305.16H163.89V306.69H162.33z"/>
<path fill="#ffff00" d="M126.51 338.75H128.06V340.27H126.51zM148.31 317.37H149.87V318.9H148.31z"/>
<path fill="#ffef00" d="M124.95 340.27H126.51V341.8H124.95z"/>
<path fill="#ffdf00" d="M128.06 337.22H129.62V338.75H128.06zM131.18 334.17H132.74V335.69H131.18zM142.08 321.95H143.64V323.48H142.08z"/>
<path fill="#ffcf00" d="M135.85 328.06H137.41V329.59H135.85z"/>
<path fill="#ffbf00" d="M128.06 338.75H129.62V340.27H128.06zM129.62 335.69H131.18V337.22H129.62zM138.97 329.59H140.53V331.11H138.97z"/>
<path fill="#ffaf00" d="M129.62 337.22H131.18V338.75H129.62zM145.2 321.95H146.75V323.48H145.2zM149.87 317.37H151.43V318.9H149.87z"/>
<path fill="#ff9f00" d="M137.41 326.53H138.97V328.06H137.41zM143.64 323.48H145.2V325.01H143.64z"/>
<path fill="#ff8f00" d="M132.74 334.17H134.3V335.69H132.74z"/>
<path fill="#ff8000" d="M143.64 321.95H145.2V323.48H143.64z"/>
<path fill="#ff7000" d="M145.2 320.43H148.31V321.95H145.2z"/>
<path fill="#ff6000" d="M134.3 332.64H135.85V334.17H134.3zM142.08 325.01H143.64V326.53H142.08z"/>
<path fill="#ff5000" d="M135.85 331.11H137.41V332.64H135.85zM146.75 318.9H148.31V320.43H146.75z"/>
<path fill="#ff4000" d="M132.74 332.64H134.3V334.17H132.74zM134.3 331.11H135.85V332.64H134.3z"/>
<path fill="#ff3000" d="M140.53 326.53H142.08V328.06H140.53zM138.97 325.01H140.53V326.53H138.97zM142.08 323.48H143.64V325.01H142.08z"/>
<path fill="#ff0000" d="M140.53 325.01H142.08V326.53H140.53z"/>
<path fill="#df0000" d="M137.41 328.06H138.97V329.59H137.41z"/>
<path fill="#bf0000" d="M137.41 329.59H138.97V331.11H137.41z"/>
<path fill="#af0000" d="M135.85 329.59H137.41V331.11H135.85zM138.97 328.06H140.53V329.59H138.97z"/>
<path fill="#800000" d="M138.97 326.53H140.53V328.06H138.97z"/></g>
<path stroke="#828282" stroke-width="0.6" fill="none" d="M31.5 433.4v-1.8M31.5 250.2v1.8M62.65 433.4v-1.8M62.65 250.2v1.8M93.8 433.4v-1.8M93.8 250.2v1.8M124.95 433.4v-1.8M124.95 250.2v1.8M156.1 433.4v-1.8M156.1 250.2v1.8M187.25 433.4v-1.8M187.25 250.2v1.8M218.4 433.4v-1.8M218.4 250.2v1.8M31.5 433.4h1.8M218.4 433.4h-1.8M31.5 402.87h1.8M218.4 402.87h-1.8M31.5 372.33h1.8M218.4 372.33h-1.8M31.5 341.8h1.8M218.4 341.8h-1.8M31.5 311.27h1.8M218.4 311.27h-1.8M31.5 280.73h1.8M218.4 280.73h-1.8M31.5 250.2h1.8M218.4 250.2h-1.8"/>
<rect x="31.5" y="250.2" width="186.9" height="183.2" fill="none" stroke="#828282" stroke-width="1.1"/>
<text x="31.5" y="446.6" class="tl" text-anchor="middle" textLength="12.31" lengthAdjust="spacingAndGlyphs">120</text>
<text x="62.65" y="446.6" class="tl" text-anchor="middle" textLength="12.31" lengthAdjust="spacingAndGlyphs">140</text>
<text x="93.8" y="446.6" class="tl" text-anchor="middle" textLength="12.31" lengthAdjust="spacingAndGlyphs">160</text>
<text x="124.95" y="446.6" class="tl" text-anchor="middle" textLength="12.31" lengthAdjust="spacingAndGlyphs">180</text>
<text x="156.1" y="446.6" class="tl" text-anchor="middle" textLength="12.31" lengthAdjust="spacingAndGlyphs">200</text>
<text x="187.25" y="446.6" class="tl" text-anchor="middle" textLength="12.31" lengthAdjust="spacingAndGlyphs">220</text>
<text x="218.4" y="446.6" class="tl" text-anchor="middle" textLength="12.31" lengthAdjust="spacingAndGlyphs">240</text>
<text x="28" y="436.9" class="tl" text-anchor="end" textLength="12.31" lengthAdjust="spacingAndGlyphs">120</text>
<text x="28" y="406.37" class="tl" text-anchor="end" textLength="12.31" lengthAdjust="spacingAndGlyphs">140</text>
<text x="28" y="375.83" class="tl" text-anchor="end" textLength="12.31" lengthAdjust="spacingAndGlyphs">160</text>
<text x="28" y="345.3" class="tl" text-anchor="end" textLength="12.31" lengthAdjust="spacingAndGlyphs">180</text>
<text x="28" y="314.77" class="tl" text-anchor="end" textLength="12.31" lengthAdjust="spacingAndGlyphs">200</text>
<text x="28" y="284.23" class="tl" text-anchor="end" textLength="12.31" lengthAdjust="spacingAndGlyphs">220</text>
<text x="28" y="253.7" class="tl" text-anchor="end" textLength="12.31" lengthAdjust="spacingAndGlyphs">240</text>
<text x="124.95" y="458.7" class="xl" text-anchor="middle">HY-2C TB23.8(K)</text>
<text transform="translate(10.5 341.8) rotate(-90)" class="yl" text-anchor="middle">Jason-3 TB23.8(K)</text>
<rect x="230.7" y="250.2" width="10.1" height="183.2" fill="url(#jet)"/>
<rect x="230.7" y="250.2" width="10.1" height="183.2" fill="none" stroke="#bbb" stroke-width="0.4"/>
<text x="244" y="436.9" class="cl" textLength="4.1" lengthAdjust="spacingAndGlyphs">0</text>
<text x="244" y="416.32" class="cl" textLength="8.21" lengthAdjust="spacingAndGlyphs">20</text>
<text x="244" y="395.73" class="cl" textLength="8.21" lengthAdjust="spacingAndGlyphs">40</text>
<text x="244" y="375.15" class="cl" textLength="8.21" lengthAdjust="spacingAndGlyphs">60</text>
<text x="244" y="354.56" class="cl" textLength="8.21" lengthAdjust="spacingAndGlyphs">80</text>
<text x="244" y="333.98" class="cl" textLength="12.31" lengthAdjust="spacingAndGlyphs">100</text>
<text x="244" y="313.39" class="cl" textLength="12.31" lengthAdjust="spacingAndGlyphs">120</text>
<text x="244" y="292.81" class="cl" textLength="12.31" lengthAdjust="spacingAndGlyphs">140</text>
<text x="244" y="272.23" class="cl" textLength="12.31" lengthAdjust="spacingAndGlyphs">160</text>
<path stroke="#828282" stroke-width="0.6" fill="none" d="M240.8 433.4h-1.5M240.8 412.82h-1.5M240.8 392.23h-1.5M240.8 371.65h-1.5M240.8 351.06h-1.5M240.8 330.48h-1.5M240.8 309.89h-1.5M240.8 289.31h-1.5M240.8 268.73h-1.5"/>
<text transform="translate(265.8 341.8) rotate(-90)" class="bl" text-anchor="middle">bin number</text>
<text x="135.3" y="477.8" class="pl" text-anchor="middle">(c)</text>
<rect x="315.3" y="250.2" width="187.2" height="183.2" fill="#fff"/>
<path stroke="#dddddd" stroke-width="0.7" fill="none" d="M346.5 250.2V433.4M377.7 250.2V433.4M408.9 250.2V433.4M440.1 250.2V433.4M471.3 250.2V433.4M315.3 402.87H502.5M315.3 372.33H502.5M315.3 341.8H502.5M315.3 311.27H502.5M315.3 280.73H502.5"/>
<g shape-rendering="crispEdges"><path fill="#00008f" d="M379.26 412.79H380.82V415.08H379.26zM458.82 410.5H460.38V412.79H458.82zM401.1 408.21H402.66V410.5H401.1zM418.26 408.21H421.38V410.5H418.26zM465.06 405.92H466.62V408.21H465.06zM397.98 403.63H399.54V405.92H397.98zM412.02 403.63H413.58V405.92H412.02zM438.54 403.63H440.1V405.92H438.54zM446.34 403.63H447.9V405.92H446.34zM390.18 401.34H391.74V403.63H390.18zM408.9 401.34H410.46V403.63H408.9zM415.14 401.34H416.7V403.63H415.14zM426.06 399.05H427.62V401.34H426.06zM432.3 399.05H433.86V401.34H432.3zM394.86 396.76H396.42V399.05H394.86zM407.34 396.76H408.9V399.05H407.34zM412.02 396.76H413.58V399.05H412.02zM415.14 396.76H416.7V399.05H415.14zM373.02 394.47H374.58V396.76H373.02zM394.86 394.47H396.42V396.76H394.86zM426.06 394.47H427.62V396.76H426.06zM449.46 394.47H451.02V396.76H449.46zM396.42 392.18H397.98V394.47H396.42zM419.82 392.18H421.38V394.47H419.82zM426.06 392.18H427.62V394.47H426.06zM430.74 392.18H432.3V394.47H430.74zM433.86 392.18H435.42V394.47H433.86zM454.14 392.18H457.26V394.47H454.14zM479.1 392.18H480.66V394.47H479.1zM379.26 389.89H380.82V392.18H379.26zM393.3 389.89H394.86V392.18H393.3zM410.46 389.89H412.02V392.18H410.46zM418.26 389.89H419.82V392.18H418.26zM422.94 389.89H424.5V392.18H422.94zM427.62 389.89H429.18V392.18H427.62zM438.54 389.89H440.1V392.18H438.54zM446.34 389.89H447.9V392.18H446.34zM454.14 389.89H455.7V392.18H454.14zM460.38 389.89H461.94V392.18H460.38zM479.1 389.89H480.66V392.18H479.1zM408.9 387.6H412.02V389.89H408.9zM424.5 387.6H427.62V389.89H424.5zM433.86 387.6H435.42V389.89H433.86zM436.98 387.6H438.54V389.89H436.98zM455.7 387.6H457.26V389.89H455.7zM460.38 387.6H463.5V389.89H460.38zM466.62 387.6H469.74V389.89H466.62zM471.3 387.6H472.86V389.89H471.3zM383.94 385.31H385.5V387.6H383.94zM402.66 385.31H405.78V387.6H402.66zM412.02 385.31H413.58V387.6H412.02zM427.62 385.31H429.18V387.6H427.62zM433.86 385.31H436.98V387.6H433.86zM438.54 385.31H441.66V387.6H438.54zM447.9 385.31H452.58V387.6H447.9zM471.3 385.31H472.86V387.6H471.3zM376.14 383.02H377.7V385.31H376.14zM390.18 383.02H393.3V385.31H390.18zM394.86 383.02H397.98V385.31H394.86zM402.66 383.02H404.22V385.31H402.66zM412.02 383.02H413.58V385.31H412.02zM419.82 383.02H422.94V385.31H419.82zM429.18 383.02H432.3V385.31H429.18zM436.98 383.02H440.1V385.31H436.98zM443.22 383.02H446.34V385.31H443.22zM460.38 383.02H461.94V385.31H460.38zM379.26 380.73H380.82V383.02H379.26zM391.74 380.73H393.3V383.02H391.74zM396.42 380.73H397.98V383.02H396.42zM401.1 380.73H408.9V383.02H401.1zM412.02 380.73H413.58V383.02H412.02zM416.7 380.73H421.38V383.02H416.7zM435.42 380.73H438.54V383.02H435.42zM443.22 380.73H444.78V383.02H443.22zM461.94 380.73H465.06V383.02H461.94zM474.42 380.73H477.54V383.02H474.42zM479.1 380.73H480.66V383.02H479.1zM390.18 378.44H391.74V380.73H390.18zM397.98 378.44H399.54V380.73H397.98zM407.34 378.44H410.46V380.73H407.34zM427.62 378.44H429.18V380.73H427.62zM430.74 378.44H432.3V380.73H430.74zM438.54 378.44H440.1V380.73H438.54zM443.22 378.44H446.34V380.73H443.22zM449.46 378.44H451.02V380.73H449.46zM454.14 378.44H458.82V380.73H454.14zM461.94 378.44H463.5V380.73H461.94zM472.86 378.44H474.42V380.73H472.86zM374.58 376.15H377.7V378.44H374.58zM382.38 376.15H383.94V378.44H382.38zM393.3 376.15H396.42V378.44H393.3zM399.54 376.15H401.1V378.44H399.54zM402.66 376.15H405.78V378.44H402.66zM407.34 376.15H408.9V378.44H407.34zM412.02 376.15H413.58V378.44H412.02zM416.7 376.15H422.94V378.44H416.7zM424.5 376.15H427.62V378.44H424.5zM429.18 376.15H432.3V378.44H429.18zM435.42 376.15H438.54V378.44H435.42zM452.58 376.15H454.14V378.44H452.58zM491.58 376.15H493.14V378.44H491.58zM357.42 373.86H358.98V376.15H357.42zM369.9 373.86H371.46V376.15H369.9zM382.38 373.86H385.5V376.15H382.38zM387.06 373.86H388.62V376.15H387.06zM390.18 373.86H391.74V376.15H390.18zM394.86 373.86H396.42V376.15H394.86zM405.78 373.86H408.9V376.15H405.78zM413.58 373.86H415.14V376.15H413.58zM440.1 373.86H441.66V376.15H440.1zM446.34 373.86H447.9V376.15H446.34zM449.46 373.86H451.02V376.15H449.46zM360.54 371.57H362.1V373.86H360.54zM373.02 371.57H374.58V373.86H373.02zM382.38 371.57H390.18V373.86H382.38zM391.74 371.57H393.3V373.86H391.74zM396.42 371.57H397.98V373.86H396.42zM402.66 371.57H405.78V373.86H402.66zM410.46 371.57H412.02V373.86H410.46zM415.14 371.57H416.7V373.86H415.14zM424.5 371.57H427.62V373.86H424.5zM430.74 371.57H433.86V373.86H430.74zM436.98 371.57H438.54V373.86H436.98zM441.66 371.57H443.22V373.86H441.66zM447.9 371.57H452.58V373.86H447.9zM455.7 371.57H457.26V373.86H455.7zM466.62 371.57H468.18V373.86H466.62zM477.54 371.57H480.66V373.86H477.54zM365.22 369.28H366.78V371.57H365.22zM371.46 369.28H373.02V371.57H371.46zM376.14 369.28H377.7V371.57H376.14zM380.82 369.28H382.38V371.57H380.82zM387.06 369.28H388.62V371.57H387.06zM390.18 369.28H391.74V371.57H390.18zM393.3 369.28H396.42V371.57H393.3zM399.54 369.28H401.1V371.57H399.54zM404.22 369.28H407.34V371.57H404.22zM408.9 369.28H412.02V371.57H408.9zM426.06 369.28H427.62V371.57H426.06zM432.3 369.28H433.86V371.57H432.3zM440.1 369.28H443.22V371.57H440.1zM449.46 369.28H451.02V371.57H449.46zM463.5 369.28H465.06V371.57H463.5zM472.86 369.28H474.42V371.57H472.86zM486.9 369.28H488.46V371.57H486.9zM357.42 366.99H358.98V369.28H357.42zM366.78 366.99H369.9V369.28H366.78zM373.02 366.99H374.58V369.28H373.02zM377.7 366.99H380.82V369.28H377.7zM388.62 366.99H390.18V369.28H388.62zM402.66 366.99H404.22V369.28H402.66zM407.34 366.99H408.9V369.28H407.34zM410.46 366.99H415.14V369.28H410.46zM427.62 366.99H429.18V369.28H427.62zM436.98 366.99H438.54V369.28H436.98zM443.22 366.99H447.9V369.28H443.22zM451.02 366.99H452.58V369.28H451.02zM463.5 366.99H465.06V369.28H463.5zM468.18 366.99H469.74V369.28H468.18zM475.98 366.99H477.54V369.28H475.98zM494.7 366.99H496.26V369.28H494.7zM357.42 364.7H358.98V366.99H357.42zM366.78 364.7H371.46V366.99H366.78zM374.58 364.7H377.7V366.99H374.58zM379.26 364.7H380.82V366.99H379.26zM382.38 364.7H383.94V366.99H382.38zM391.74 364.7H393.3V366.99H391.74zM394.86 364.7H397.98V366.99H394.86zM399.54 364.7H402.66V366.99H399.54zM407.34 364.7H408.9V366.99H407.34zM410.46 364.7H413.58V366.99H410.46zM429.18 364.7H430.74V366.99H429.18zM436.98 364.7H438.54V366.99H436.98zM440.1 364.7H443.22V366.99H440.1zM444.78 364.7H449.46V366.99H444.78zM454.14 364.7H455.7V366.99H454.14zM460.38 364.7H461.94V366.99H460.38zM466.62 364.7H468.18V366.99H466.62zM477.54 364.7H480.66V366.99H477.54zM483.78 364.7H485.34V366.99H483.78zM490.02 364.7H491.58V366.99H490.02zM366.78 362.41H369.9V364.7H366.78zM377.7 362.41H379.26V364.7H377.7zM382.38 362.41H387.06V364.7H382.38zM399.54 362.41H402.66V364.7H399.54zM410.46 362.41H412.02V364.7H410.46zM430.74 362.41H432.3V364.7H430.74zM444.78 362.41H447.9V364.7H444.78zM454.14 362.41H455.7V364.7H454.14zM458.82 362.41H460.38V364.7H458.82zM463.5 362.41H468.18V364.7H463.5zM352.74 360.12H354.3V362.41H352.74zM360.54 360.12H362.1V362.41H360.54zM365.22 360.12H366.78V362.41H365.22zM374.58 360.12H376.14V362.41H374.58zM380.82 360.12H382.38V362.41H380.82zM390.18 360.12H391.74V362.41H390.18zM410.46 360.12H412.02V362.41H410.46zM440.1 360.12H444.78V362.41H440.1zM452.58 360.12H454.14V362.41H452.58zM460.38 360.12H461.94V362.41H460.38zM465.06 360.12H466.62V362.41H465.06zM471.3 360.12H472.86V362.41H471.3zM485.34 360.12H486.9V362.41H485.34zM351.18 357.83H352.74V360.12H351.18zM357.42 357.83H358.98V360.12H357.42zM362.1 357.83H366.78V360.12H362.1zM368.34 357.83H369.9V360.12H368.34zM371.46 357.83H373.02V360.12H371.46zM385.5 357.83H387.06V360.12H385.5zM388.62 357.83H390.18V360.12H388.62zM451.02 357.83H452.58V360.12H451.02zM455.7 357.83H457.26V360.12H455.7zM458.82 357.83H461.94V360.12H458.82zM472.86 357.83H474.42V360.12H472.86zM486.9 357.83H488.46V360.12H486.9zM491.58 357.83H493.14V360.12H491.58zM351.18 355.54H352.74V357.83H351.18zM360.54 355.54H363.66V357.83H360.54zM393.3 355.54H394.86V357.83H393.3zM441.66 355.54H443.22V357.83H441.66zM457.26 355.54H458.82V357.83H457.26zM460.38 355.54H461.94V357.83H460.38zM463.5 355.54H465.06V357.83H463.5zM466.62 355.54H469.74V357.83H466.62zM480.66 355.54H482.22V357.83H480.66zM352.74 353.25H354.3V355.54H352.74zM363.66 353.25H365.22V355.54H363.66zM376.14 353.25H377.7V355.54H376.14zM454.14 353.25H457.26V355.54H454.14zM471.3 353.25H472.86V355.54H471.3zM354.3 350.96H355.86V353.25H354.3zM365.22 350.96H366.78V353.25H365.22zM465.06 350.96H469.74V353.25H465.06zM472.86 350.96H474.42V353.25H472.86zM480.66 350.96H482.22V353.25H480.66zM483.78 350.96H485.34V353.25H483.78zM346.5 348.67H348.06V350.96H346.5zM349.62 348.67H351.18V350.96H349.62zM471.3 348.67H472.86V350.96H471.3zM479.1 348.67H480.66V350.96H479.1zM485.34 348.67H486.9V350.96H485.34zM491.58 348.67H493.14V350.96H491.58zM348.06 346.38H351.18V348.67H348.06zM471.3 346.38H472.86V348.67H471.3zM479.1 346.38H482.22V348.67H479.1zM483.78 346.38H485.34V348.67H483.78zM491.58 346.38H494.7V348.67H491.58zM348.06 344.09H349.62V346.38H348.06zM465.06 344.09H466.62V346.38H465.06zM480.66 344.09H482.22V346.38H480.66zM343.38 341.8H344.94V344.09H343.38zM463.5 341.8H465.06V344.09H463.5zM469.74 341.8H471.3V344.09H469.74zM472.86 341.8H474.42V344.09H472.86zM480.66 341.8H485.34V344.09H480.66zM488.46 341.8H490.02V344.09H488.46zM343.38 339.51H346.5V341.8H343.38zM465.06 339.51H468.18V341.8H465.06zM469.74 339.51H472.86V341.8H469.74zM482.22 339.51H483.78V341.8H482.22zM485.34 339.51H486.9V341.8H485.34zM491.58 339.51H493.14V341.8H491.58zM343.38 337.22H346.5V339.51H343.38zM468.18 337.22H469.74V339.51H468.18zM472.86 337.22H474.42V339.51H472.86zM496.26 337.22H497.82V339.51H496.26zM340.26 334.93H343.38V337.22H340.26zM465.06 334.93H468.18V337.22H465.06zM471.3 334.93H472.86V337.22H471.3zM474.42 334.93H475.98V337.22H474.42zM480.66 334.93H482.22V337.22H480.66zM483.78 334.93H485.34V337.22H483.78zM340.26 332.64H343.38V334.93H340.26zM465.06 332.64H466.62V334.93H465.06zM468.18 332.64H469.74V334.93H468.18zM474.42 332.64H475.98V334.93H474.42zM477.54 332.64H480.66V334.93H477.54zM483.78 332.64H485.34V334.93H483.78zM340.26 330.35H341.82V332.64H340.26zM469.74 330.35H471.3V332.64H469.74zM469.74 328.06H471.3V330.35H469.74zM488.46 328.06H490.02V330.35H488.46zM472.86 325.77H477.54V328.06H472.86zM341.82 323.48H344.94V325.77H341.82zM349.62 323.48H351.18V325.77H349.62zM461.94 323.48H463.5V325.77H461.94zM466.62 323.48H468.18V325.77H466.62zM469.74 323.48H471.3V325.77H469.74zM472.86 323.48H474.42V325.77H472.86zM479.1 323.48H482.22V325.77H479.1zM485.34 323.48H486.9V325.77H485.34zM457.26 321.19H458.82V323.48H457.26zM460.38 321.19H461.94V323.48H460.38zM463.5 321.19H471.3V323.48H463.5zM472.86 321.19H475.98V323.48H472.86zM486.9 321.19H488.46V323.48H486.9zM343.38 318.9H344.94V321.19H343.38zM346.5 318.9H348.06V321.19H346.5zM352.74 318.9H354.3V321.19H352.74zM355.86 318.9H357.42V321.19H355.86zM458.82 318.9H461.94V321.19H458.82zM466.62 318.9H469.74V321.19H466.62zM474.42 318.9H475.98V321.19H474.42zM480.66 318.9H482.22V321.19H480.66zM483.78 318.9H485.34V321.19H483.78zM344.94 316.61H346.5V318.9H344.94zM348.06 316.61H351.18V318.9H348.06zM365.22 316.61H366.78V318.9H365.22zM373.02 316.61H374.58V318.9H373.02zM388.62 316.61H391.74V318.9H388.62zM396.42 316.61H397.98V318.9H396.42zM449.46 316.61H451.02V318.9H449.46zM454.14 316.61H455.7V318.9H454.14zM458.82 316.61H468.18V318.9H458.82zM474.42 316.61H477.54V318.9H474.42zM348.06 314.32H349.62V316.61H348.06zM351.18 314.32H352.74V316.61H351.18zM355.86 314.32H357.42V316.61H355.86zM358.98 314.32H360.54V316.61H358.98zM362.1 314.32H363.66V316.61H362.1zM365.22 314.32H366.78V316.61H365.22zM373.02 314.32H374.58V316.61H373.02zM376.14 314.32H379.26V316.61H376.14zM387.06 314.32H388.62V316.61H387.06zM396.42 314.32H397.98V316.61H396.42zM399.54 314.32H401.1V316.61H399.54zM419.82 314.32H421.38V316.61H419.82zM455.7 314.32H457.26V316.61H455.7zM463.5 314.32H465.06V316.61H463.5zM471.3 314.32H474.42V316.61H471.3zM346.5 312.03H348.06V314.32H346.5zM349.62 312.03H352.74V314.32H349.62zM354.3 312.03H357.42V314.32H354.3zM358.98 312.03H362.1V314.32H358.98zM363.66 312.03H366.78V314.32H363.66zM368.34 312.03H373.02V314.32H368.34zM377.7 312.03H379.26V314.32H377.7zM383.94 312.03H387.06V314.32H383.94zM397.98 312.03H399.54V314.32H397.98zM413.58 312.03H416.7V314.32H413.58zM418.26 312.03H419.82V314.32H418.26zM435.42 312.03H436.98V314.32H435.42zM455.7 312.03H457.26V314.32H455.7zM460.38 312.03H461.94V314.32H460.38zM463.5 312.03H465.06V314.32H463.5zM468.18 312.03H469.74V314.32H468.18zM348.06 309.74H352.74V312.03H348.06zM355.86 309.74H362.1V312.03H355.86zM363.66 309.74H366.78V312.03H363.66zM368.34 309.74H371.46V312.03H368.34zM382.38 309.74H387.06V312.03H382.38zM390.18 309.74H391.74V312.03H390.18zM394.86 309.74H396.42V312.03H394.86zM399.54 309.74H402.66V312.03H399.54zM419.82 309.74H422.94V312.03H419.82zM424.5 309.74H427.62V312.03H424.5zM429.18 309.74H432.3V312.03H429.18zM435.42 309.74H436.98V312.03H435.42zM440.1 309.74H443.22V312.03H440.1zM444.78 309.74H446.34V312.03H444.78zM454.14 309.74H455.7V312.03H454.14zM460.38 309.74H463.5V312.03H460.38zM465.06 309.74H466.62V312.03H465.06zM474.42 309.74H475.98V312.03H474.42zM477.54 309.74H479.1V312.03H477.54zM480.66 309.74H482.22V312.03H480.66zM351.18 307.45H355.86V309.74H351.18zM368.34 307.45H369.9V309.74H368.34zM376.14 307.45H382.38V309.74H376.14zM385.5 307.45H387.06V309.74H385.5zM397.98 307.45H399.54V309.74H397.98zM402.66 307.45H407.34V309.74H402.66zM408.9 307.45H410.46V309.74H408.9zM416.7 307.45H418.26V309.74H416.7zM419.82 307.45H421.38V309.74H419.82zM429.18 307.45H430.74V309.74H429.18zM433.86 307.45H436.98V309.74H433.86zM438.54 307.45H440.1V309.74H438.54zM446.34 307.45H447.9V309.74H446.34zM451.02 307.45H452.58V309.74H451.02zM457.26 307.45H458.82V309.74H457.26zM460.38 307.45H463.5V309.74H460.38zM465.06 307.45H468.18V309.74H465.06zM483.78 307.45H485.34V309.74H483.78zM486.9 307.45H488.46V309.74H486.9zM358.98 305.16H360.54V307.45H358.98zM362.1 305.16H363.66V307.45H362.1zM368.34 305.16H373.02V307.45H368.34zM374.58 305.16H377.7V307.45H374.58zM379.26 305.16H380.82V307.45H379.26zM383.94 305.16H388.62V307.45H383.94zM391.74 305.16H394.86V307.45H391.74zM396.42 305.16H399.54V307.45H396.42zM401.1 305.16H402.66V307.45H401.1zM404.22 305.16H407.34V307.45H404.22zM415.14 305.16H416.7V307.45H415.14zM419.82 305.16H422.94V307.45H419.82zM424.5 305.16H430.74V307.45H424.5zM433.86 305.16H438.54V307.45H433.86zM441.66 305.16H443.22V307.45H441.66zM454.14 305.16H455.7V307.45H454.14zM457.26 305.16H461.94V307.45H457.26zM465.06 305.16H466.62V307.45H465.06zM477.54 305.16H479.1V307.45H477.54zM360.54 302.87H365.22V305.16H360.54zM376.14 302.87H377.7V305.16H376.14zM379.26 302.87H382.38V305.16H379.26zM387.06 302.87H388.62V305.16H387.06zM391.74 302.87H394.86V305.16H391.74zM404.22 302.87H407.34V305.16H404.22zM412.02 302.87H416.7V305.16H412.02zM418.26 302.87H419.82V305.16H418.26zM427.62 302.87H429.18V305.16H427.62zM436.98 302.87H440.1V305.16H436.98zM455.7 302.87H458.82V305.16H455.7zM460.38 302.87H463.5V305.16H460.38zM466.62 302.87H468.18V305.16H466.62zM469.74 302.87H471.3V305.16H469.74zM479.1 302.87H480.66V305.16H479.1zM482.22 302.87H483.78V305.16H482.22zM486.9 302.87H488.46V305.16H486.9zM354.3 300.58H355.86V302.87H354.3zM376.14 300.58H377.7V302.87H376.14zM380.82 300.58H382.38V302.87H380.82zM387.06 300.58H388.62V302.87H387.06zM401.1 300.58H402.66V302.87H401.1zM404.22 300.58H405.78V302.87H404.22zM412.02 300.58H413.58V302.87H412.02zM415.14 300.58H416.7V302.87H415.14zM421.38 300.58H424.5V302.87H421.38zM430.74 300.58H432.3V302.87H430.74zM436.98 300.58H438.54V302.87H436.98zM440.1 300.58H447.9V302.87H440.1zM461.94 300.58H465.06V302.87H461.94zM466.62 300.58H468.18V302.87H466.62zM362.1 298.29H363.66V300.58H362.1zM369.9 298.29H371.46V300.58H369.9zM377.7 298.29H379.26V300.58H377.7zM388.62 298.29H391.74V300.58H388.62zM393.3 298.29H396.42V300.58H393.3zM402.66 298.29H404.22V300.58H402.66zM408.9 298.29H410.46V300.58H408.9zM412.02 298.29H413.58V300.58H412.02zM416.7 298.29H418.26V300.58H416.7zM421.38 298.29H422.94V300.58H421.38zM424.5 298.29H426.06V300.58H424.5zM427.62 298.29H430.74V300.58H427.62zM433.86 298.29H438.54V300.58H433.86zM443.22 298.29H444.78V300.58H443.22zM446.34 298.29H447.9V300.58H446.34zM452.58 298.29H455.7V300.58H452.58zM460.38 298.29H461.94V300.58H460.38zM471.3 298.29H472.86V300.58H471.3zM490.02 298.29H491.58V300.58H490.02zM376.14 296H377.7V298.29H376.14zM391.74 296H393.3V298.29H391.74zM421.38 296H422.94V298.29H421.38zM426.06 296H427.62V298.29H426.06zM429.18 296H435.42V298.29H429.18zM440.1 296H443.22V298.29H440.1zM452.58 296H454.14V298.29H452.58zM472.86 296H474.42V298.29H472.86zM380.82 293.71H382.38V296H380.82zM390.18 293.71H394.86V296H390.18zM397.98 293.71H399.54V296H397.98zM401.1 293.71H402.66V296H401.1zM407.34 293.71H410.46V296H407.34zM432.3 293.71H433.86V296H432.3zM435.42 293.71H436.98V296H435.42zM440.1 293.71H441.66V296H440.1zM443.22 293.71H444.78V296H443.22zM451.02 293.71H452.58V296H451.02zM466.62 293.71H468.18V296H466.62zM383.94 291.42H385.5V293.71H383.94zM390.18 291.42H393.3V293.71H390.18zM394.86 291.42H396.42V293.71H394.86zM402.66 291.42H405.78V293.71H402.66zM410.46 291.42H412.02V293.71H410.46zM416.7 291.42H418.26V293.71H416.7zM419.82 291.42H421.38V293.71H419.82zM422.94 291.42H424.5V293.71H422.94zM435.42 291.42H436.98V293.71H435.42zM443.22 291.42H444.78V293.71H443.22zM446.34 291.42H447.9V293.71H446.34zM463.5 291.42H465.06V293.71H463.5zM468.18 291.42H469.74V293.71H468.18zM491.58 291.42H493.14V293.71H491.58zM391.74 289.13H393.3V291.42H391.74zM402.66 289.13H404.22V291.42H402.66zM407.34 289.13H410.46V291.42H407.34zM418.26 289.13H419.82V291.42H418.26zM429.18 289.13H430.74V291.42H429.18zM441.66 289.13H443.22V291.42H441.66zM446.34 289.13H447.9V291.42H446.34zM451.02 289.13H452.58V291.42H451.02zM454.14 289.13H455.7V291.42H454.14zM471.3 289.13H472.86V291.42H471.3zM374.58 286.84H376.14V289.13H374.58zM397.98 286.84H399.54V289.13H397.98zM419.82 286.84H421.38V289.13H419.82zM429.18 286.84H430.74V289.13H429.18zM447.9 286.84H449.46V289.13H447.9zM452.58 286.84H454.14V289.13H452.58zM461.94 286.84H463.5V289.13H461.94zM485.34 286.84H486.9V289.13H485.34zM374.58 284.55H376.14V286.84H374.58zM396.42 284.55H397.98V286.84H396.42zM402.66 284.55H405.78V286.84H402.66zM407.34 284.55H410.46V286.84H407.34zM432.3 284.55H433.86V286.84H432.3zM444.78 284.55H446.34V286.84H444.78zM449.46 284.55H451.02V286.84H449.46zM455.7 284.55H457.26V286.84H455.7zM465.06 284.55H466.62V286.84H465.06zM365.22 282.26H366.78V284.55H365.22zM385.5 282.26H387.06V284.55H385.5zM399.54 282.26H401.1V284.55H399.54zM419.82 282.26H421.38V284.55H419.82zM444.78 282.26H446.34V284.55H444.78zM454.14 282.26H455.7V284.55H454.14zM463.5 282.26H465.06V284.55H463.5zM371.46 279.97H373.02V282.26H371.46zM374.58 279.97H376.14V282.26H374.58zM399.54 279.97H402.66V282.26H399.54zM427.62 279.97H429.18V282.26H427.62zM452.58 279.97H454.14V282.26H452.58zM455.7 279.97H457.26V282.26H455.7zM458.82 279.97H460.38V282.26H458.82zM408.9 277.68H410.46V279.97H408.9zM412.02 277.68H413.58V279.97H412.02zM430.74 277.68H432.3V279.97H430.74zM454.14 277.68H455.7V279.97H454.14zM463.5 277.68H465.06V279.97H463.5zM479.1 277.68H480.66V279.97H479.1zM412.02 275.39H413.58V277.68H412.02zM457.26 275.39H458.82V277.68H457.26zM401.1 273.1H402.66V275.39H401.1zM433.86 273.1H435.42V275.39H433.86zM443.22 273.1H444.78V275.39H443.22zM387.06 270.81H388.62V273.1H387.06zM412.02 270.81H413.58V273.1H412.02zM454.14 270.81H455.7V273.1H454.14zM429.18 268.52H430.74V270.81H429.18zM441.66 268.52H443.22V270.81H441.66zM385.5 266.23H387.06V268.52H385.5zM412.02 263.94H413.58V266.23H412.02z"/>
<path fill="#00009f" d="M455.7 389.89H457.26V392.18H455.7zM416.7 385.31H418.26V387.6H416.7zM421.38 385.31H422.94V387.6H421.38zM382.38 383.02H383.94V385.31H382.38zM404.22 383.02H405.78V385.31H404.22zM393.3 380.73H394.86V383.02H393.3zM424.5 380.73H426.06V383.02H424.5zM382.38 378.44H383.94V380.73H382.38zM415.14 378.44H416.7V380.73H415.14zM424.5 378.44H426.06V380.73H424.5zM383.94 376.15H385.5V378.44H383.94zM455.7 376.15H457.26V378.44H455.7zM465.06 376.15H466.62V378.44H465.06zM388.62 373.86H390.18V376.15H388.62zM397.98 373.86H399.54V376.15H397.98zM402.66 373.86H404.22V376.15H402.66zM416.7 373.86H418.26V376.15H416.7zM419.82 373.86H422.94V376.15H419.82zM432.3 373.86H433.86V376.15H432.3zM441.66 373.86H443.22V376.15H441.66zM366.78 371.57H368.34V373.86H366.78zM374.58 371.57H376.14V373.86H374.58zM397.98 371.57H399.54V373.86H397.98zM405.78 371.57H407.34V373.86H405.78zM413.58 371.57H415.14V373.86H413.58zM418.26 371.57H419.82V373.86H418.26zM433.86 371.57H436.98V373.86H433.86zM438.54 371.57H440.1V373.86H438.54zM443.22 371.57H444.78V373.86H443.22zM373.02 369.28H374.58V371.57H373.02zM397.98 369.28H399.54V371.57H397.98zM402.66 369.28H404.22V371.57H402.66zM407.34 369.28H408.9V371.57H407.34zM415.14 369.28H416.7V371.57H415.14zM422.94 369.28H424.5V371.57H422.94zM427.62 369.28H430.74V371.57H427.62zM436.98 369.28H438.54V371.57H436.98zM443.22 369.28H446.34V371.57H443.22zM447.9 369.28H449.46V371.57H447.9zM452.58 369.28H454.14V371.57H452.58zM362.1 366.99H363.66V369.28H362.1zM383.94 366.99H385.5V369.28H383.94zM396.42 366.99H397.98V369.28H396.42zM404.22 366.99H405.78V369.28H404.22zM415.14 366.99H418.26V369.28H415.14zM422.94 366.99H424.5V369.28H422.94zM426.06 366.99H427.62V369.28H426.06zM430.74 366.99H432.3V369.28H430.74zM433.86 366.99H436.98V369.28H433.86zM438.54 366.99H440.1V369.28H438.54zM449.46 366.99H451.02V369.28H449.46zM452.58 366.99H454.14V369.28H452.58zM458.82 366.99H460.38V369.28H458.82zM380.82 364.7H382.38V366.99H380.82zM388.62 364.7H390.18V366.99H388.62zM393.3 364.7H394.86V366.99H393.3zM402.66 364.7H404.22V366.99H402.66zM408.9 364.7H410.46V366.99H408.9zM416.7 364.7H422.94V366.99H416.7zM424.5 364.7H429.18V366.99H424.5zM432.3 364.7H436.98V366.99H432.3zM449.46 364.7H452.58V366.99H449.46zM468.18 364.7H469.74V366.99H468.18zM374.58 362.41H377.7V364.7H374.58zM379.26 362.41H380.82V364.7H379.26zM390.18 362.41H391.74V364.7H390.18zM393.3 362.41H396.42V364.7H393.3zM408.9 362.41H410.46V364.7H408.9zM413.58 362.41H415.14V364.7H413.58zM416.7 362.41H418.26V364.7H416.7zM419.82 362.41H421.38V364.7H419.82zM424.5 362.41H427.62V364.7H424.5zM432.3 362.41H433.86V364.7H432.3zM449.46 362.41H454.14V364.7H449.46zM457.26 362.41H458.82V364.7H457.26zM469.74 362.41H471.3V364.7H469.74zM475.98 362.41H477.54V364.7H475.98zM357.42 360.12H358.98V362.41H357.42zM362.1 360.12H365.22V362.41H362.1zM366.78 360.12H369.9V362.41H366.78zM371.46 360.12H373.02V362.41H371.46zM376.14 360.12H380.82V362.41H376.14zM385.5 360.12H387.06V362.41H385.5zM401.1 360.12H402.66V362.41H401.1zM408.9 360.12H410.46V362.41H408.9zM433.86 360.12H435.42V362.41H433.86zM438.54 360.12H440.1V362.41H438.54zM446.34 360.12H447.9V362.41H446.34zM449.46 360.12H451.02V362.41H449.46zM454.14 360.12H455.7V362.41H454.14zM457.26 360.12H458.82V362.41H457.26zM463.5 360.12H465.06V362.41H463.5zM472.86 360.12H474.42V362.41H472.86zM358.98 357.83H362.1V360.12H358.98zM379.26 357.83H380.82V360.12H379.26zM390.18 357.83H394.86V360.12H390.18zM396.42 357.83H397.98V360.12H396.42zM401.1 357.83H402.66V360.12H401.1zM405.78 357.83H407.34V360.12H405.78zM440.1 357.83H441.66V360.12H440.1zM443.22 357.83H444.78V360.12H443.22zM452.58 357.83H455.7V360.12H452.58zM461.94 357.83H463.5V360.12H461.94zM465.06 357.83H466.62V360.12H465.06zM471.3 357.83H472.86V360.12H471.3zM363.66 355.54H365.22V357.83H363.66zM369.9 355.54H371.46V357.83H369.9zM373.02 355.54H374.58V357.83H373.02zM376.14 355.54H379.26V357.83H376.14zM382.38 355.54H385.5V357.83H382.38zM396.42 355.54H397.98V357.83H396.42zM399.54 355.54H401.1V357.83H399.54zM440.1 355.54H441.66V357.83H440.1zM354.3 353.25H357.42V355.54H354.3zM365.22 353.25H366.78V355.54H365.22zM369.9 353.25H371.46V355.54H369.9zM377.7 353.25H379.26V355.54H377.7zM460.38 353.25H463.5V355.54H460.38zM480.66 353.25H482.22V355.54H480.66zM483.78 353.25H485.34V355.54H483.78zM460.38 350.96H463.5V353.25H460.38zM469.74 350.96H471.3V353.25H469.74zM351.18 348.67H357.42V350.96H351.18zM358.98 348.67H360.54V350.96H358.98zM460.38 348.67H461.94V350.96H460.38zM463.5 348.67H465.06V350.96H463.5zM466.62 348.67H468.18V350.96H466.62zM458.82 346.38H461.94V348.67H458.82zM465.06 346.38H466.62V348.67H465.06zM349.62 344.09H351.18V346.38H349.62zM471.3 344.09H472.86V346.38H471.3zM465.06 341.8H466.62V344.09H465.06zM474.42 341.8H475.98V344.09H474.42zM461.94 339.51H463.5V341.8H461.94zM466.62 337.22H468.18V339.51H466.62zM469.74 334.93H471.3V337.22H469.74zM479.1 334.93H480.66V337.22H479.1zM343.38 332.64H346.5V334.93H343.38zM466.62 332.64H468.18V334.93H466.62zM469.74 332.64H471.3V334.93H469.74zM471.3 330.35H472.86V332.64H471.3zM475.98 330.35H477.54V332.64H475.98zM341.82 328.06H343.38V330.35H341.82zM461.94 328.06H463.5V330.35H461.94zM471.3 328.06H472.86V330.35H471.3zM343.38 325.77H344.94V328.06H343.38zM463.5 325.77H465.06V328.06H463.5zM466.62 325.77H469.74V328.06H466.62zM468.18 323.48H469.74V325.77H468.18zM477.54 323.48H479.1V325.77H477.54zM344.94 321.19H346.5V323.48H344.94zM349.62 321.19H351.18V323.48H349.62zM360.54 321.19H362.1V323.48H360.54zM458.82 321.19H460.38V323.48H458.82zM461.94 321.19H463.5V323.48H461.94zM348.06 318.9H351.18V321.19H348.06zM360.54 318.9H362.1V321.19H360.54zM368.34 318.9H369.9V321.19H368.34zM383.94 318.9H385.5V321.19H383.94zM391.74 318.9H393.3V321.19H391.74zM399.54 318.9H401.1V321.19H399.54zM465.06 318.9H466.62V321.19H465.06zM351.18 316.61H352.74V318.9H351.18zM355.86 316.61H358.98V318.9H355.86zM366.78 316.61H368.34V318.9H366.78zM377.7 316.61H379.26V318.9H377.7zM380.82 316.61H382.38V318.9H380.82zM391.74 316.61H393.3V318.9H391.74zM397.98 316.61H401.1V318.9H397.98zM416.7 316.61H418.26V318.9H416.7zM422.94 316.61H424.5V318.9H422.94zM432.3 316.61H433.86V318.9H432.3zM435.42 316.61H438.54V318.9H435.42zM447.9 316.61H449.46V318.9H447.9zM452.58 316.61H454.14V318.9H452.58zM468.18 316.61H469.74V318.9H468.18zM471.3 316.61H472.86V318.9H471.3zM354.3 314.32H355.86V316.61H354.3zM357.42 314.32H358.98V316.61H357.42zM366.78 314.32H369.9V316.61H366.78zM379.26 314.32H380.82V316.61H379.26zM382.38 314.32H387.06V316.61H382.38zM388.62 314.32H390.18V316.61H388.62zM393.3 314.32H394.86V316.61H393.3zM404.22 314.32H405.78V316.61H404.22zM410.46 314.32H412.02V316.61H410.46zM415.14 314.32H419.82V316.61H415.14zM426.06 314.32H429.18V316.61H426.06zM433.86 314.32H435.42V316.61H433.86zM438.54 314.32H440.1V316.61H438.54zM444.78 314.32H446.34V316.61H444.78zM449.46 314.32H452.58V316.61H449.46zM465.06 314.32H466.62V316.61H465.06zM469.74 314.32H471.3V316.61H469.74zM348.06 312.03H349.62V314.32H348.06zM373.02 312.03H374.58V314.32H373.02zM379.26 312.03H383.94V314.32H379.26zM387.06 312.03H388.62V314.32H387.06zM390.18 312.03H393.3V314.32H390.18zM405.78 312.03H407.34V314.32H405.78zM408.9 312.03H410.46V314.32H408.9zM419.82 312.03H421.38V314.32H419.82zM424.5 312.03H427.62V314.32H424.5zM432.3 312.03H433.86V314.32H432.3zM443.22 312.03H444.78V314.32H443.22zM457.26 312.03H458.82V314.32H457.26zM469.74 312.03H471.3V314.32H469.74zM371.46 309.74H373.02V312.03H371.46zM376.14 309.74H377.7V312.03H376.14zM387.06 309.74H388.62V312.03H387.06zM393.3 309.74H394.86V312.03H393.3zM397.98 309.74H399.54V312.03H397.98zM407.34 309.74H408.9V312.03H407.34zM410.46 309.74H412.02V312.03H410.46zM415.14 309.74H416.7V312.03H415.14zM427.62 309.74H429.18V312.03H427.62zM436.98 309.74H438.54V312.03H436.98zM443.22 309.74H444.78V312.03H443.22zM446.34 309.74H447.9V312.03H446.34zM449.46 309.74H451.02V312.03H449.46zM458.82 309.74H460.38V312.03H458.82zM463.5 309.74H465.06V312.03H463.5zM362.1 307.45H363.66V309.74H362.1zM369.9 307.45H371.46V309.74H369.9zM391.74 307.45H393.3V309.74H391.74zM396.42 307.45H397.98V309.74H396.42zM399.54 307.45H401.1V309.74H399.54zM412.02 307.45H413.58V309.74H412.02zM418.26 307.45H419.82V309.74H418.26zM424.5 307.45H427.62V309.74H424.5zM430.74 307.45H432.3V309.74H430.74zM440.1 307.45H441.66V309.74H440.1zM444.78 307.45H446.34V309.74H444.78zM373.02 305.16H374.58V307.45H373.02zM382.38 305.16H383.94V307.45H382.38zM402.66 305.16H404.22V307.45H402.66zM407.34 305.16H410.46V307.45H407.34zM412.02 305.16H415.14V307.45H412.02zM430.74 305.16H433.86V307.45H430.74zM446.34 305.16H447.9V307.45H446.34zM449.46 305.16H451.02V307.45H449.46zM461.94 305.16H463.5V307.45H461.94zM396.42 302.87H399.54V305.16H396.42zM401.1 302.87H402.66V305.16H401.1zM421.38 302.87H422.94V305.16H421.38zM426.06 302.87H427.62V305.16H426.06zM435.42 302.87H436.98V305.16H435.42zM443.22 302.87H447.9V305.16H443.22zM449.46 302.87H451.02V305.16H449.46zM365.22 300.58H366.78V302.87H365.22zM394.86 300.58H396.42V302.87H394.86zM408.9 300.58H412.02V302.87H408.9zM426.06 300.58H427.62V302.87H426.06zM435.42 300.58H436.98V302.87H435.42zM447.9 300.58H449.46V302.87H447.9zM455.7 300.58H457.26V302.87H455.7zM379.26 298.29H380.82V300.58H379.26zM432.3 298.29H433.86V300.58H432.3zM438.54 298.29H440.1V300.58H438.54zM441.66 298.29H443.22V300.58H441.66zM457.26 298.29H458.82V300.58H457.26zM461.94 298.29H463.5V300.58H461.94zM397.98 296H399.54V298.29H397.98zM416.7 296H418.26V298.29H416.7zM419.82 296H421.38V298.29H419.82zM404.22 293.71H405.78V296H404.22zM419.82 293.71H421.38V296H419.82zM382.38 291.42H383.94V293.71H382.38zM458.82 291.42H460.38V293.71H458.82zM433.86 286.84H435.42V289.13H433.86zM457.26 286.84H458.82V289.13H457.26zM443.22 284.55H444.78V286.84H443.22zM457.26 279.97H458.82V282.26H457.26z"/>
<path fill="#0000af" d="M380.82 383.02H382.38V385.31H380.82zM416.7 378.44H418.26V380.73H416.7zM460.38 376.15H461.94V378.44H460.38zM463.5 376.15H465.06V378.44H463.5zM418.26 373.86H419.82V376.15H418.26zM457.26 373.86H458.82V376.15H457.26zM408.9 371.57H410.46V373.86H408.9zM440.1 371.57H441.66V373.86H440.1zM416.7 369.28H418.26V371.57H416.7zM455.7 369.28H457.26V371.57H455.7zM391.74 366.99H393.3V369.28H391.74zM399.54 366.99H401.1V369.28H399.54zM408.9 366.99H410.46V369.28H408.9zM421.38 366.99H422.94V369.28H421.38zM429.18 366.99H430.74V369.28H429.18zM441.66 366.99H443.22V369.28H441.66zM404.22 364.7H405.78V366.99H404.22zM415.14 364.7H416.7V366.99H415.14zM422.94 364.7H424.5V366.99H422.94zM430.74 364.7H432.3V366.99H430.74zM455.7 364.7H457.26V366.99H455.7zM380.82 362.41H382.38V364.7H380.82zM387.06 362.41H388.62V364.7H387.06zM391.74 362.41H393.3V364.7H391.74zM396.42 362.41H397.98V364.7H396.42zM402.66 362.41H407.34V364.7H402.66zM412.02 362.41H413.58V364.7H412.02zM418.26 362.41H419.82V364.7H418.26zM421.38 362.41H424.5V364.7H421.38zM435.42 362.41H436.98V364.7H435.42zM440.1 362.41H441.66V364.7H440.1zM382.38 360.12H385.5V362.41H382.38zM396.42 360.12H397.98V362.41H396.42zM407.34 360.12H408.9V362.41H407.34zM413.58 360.12H416.7V362.41H413.58zM427.62 360.12H429.18V362.41H427.62zM444.78 360.12H446.34V362.41H444.78zM455.7 360.12H457.26V362.41H455.7zM366.78 357.83H368.34V360.12H366.78zM373.02 357.83H374.58V360.12H373.02zM376.14 357.83H377.7V360.12H376.14zM402.66 357.83H405.78V360.12H402.66zM412.02 357.83H413.58V360.12H412.02zM441.66 357.83H443.22V360.12H441.66zM444.78 357.83H446.34V360.12H444.78zM449.46 357.83H451.02V360.12H449.46zM457.26 357.83H458.82V360.12H457.26zM366.78 355.54H369.9V357.83H366.78zM374.58 355.54H376.14V357.83H374.58zM394.86 355.54H396.42V357.83H394.86zM405.78 355.54H407.34V357.83H405.78zM449.46 355.54H451.02V357.83H449.46zM455.7 355.54H457.26V357.83H455.7zM458.82 355.54H460.38V357.83H458.82zM471.3 355.54H472.86V357.83H471.3zM360.54 353.25H363.66V355.54H360.54zM357.42 350.96H358.98V353.25H357.42zM454.14 350.96H457.26V353.25H454.14zM451.02 348.67H452.58V350.96H451.02zM455.7 348.67H457.26V350.96H455.7zM458.82 348.67H460.38V350.96H458.82zM465.06 348.67H466.62V350.96H465.06zM351.18 346.38H352.74V348.67H351.18zM463.5 346.38H465.06V348.67H463.5zM468.18 346.38H469.74V348.67H468.18zM346.5 344.09H348.06V346.38H346.5zM466.62 344.09H468.18V346.38H466.62zM466.62 341.8H468.18V344.09H466.62zM458.82 339.51H460.38V341.8H458.82zM463.5 339.51H465.06V341.8H463.5zM341.82 337.22H343.38V339.51H341.82zM461.94 337.22H463.5V339.51H461.94zM465.06 337.22H466.62V339.51H465.06zM475.98 337.22H477.54V339.51H475.98zM343.38 334.93H348.06V337.22H343.38zM458.82 334.93H461.94V337.22H458.82zM468.18 334.93H469.74V337.22H468.18zM463.5 332.64H465.06V334.93H463.5zM471.3 332.64H472.86V334.93H471.3zM341.82 330.35H343.38V332.64H341.82zM460.38 330.35H463.5V332.64H460.38zM465.06 330.35H466.62V332.64H465.06zM343.38 328.06H344.94V330.35H343.38zM457.26 328.06H458.82V330.35H457.26zM463.5 328.06H465.06V330.35H463.5zM465.06 325.77H466.62V328.06H465.06zM455.7 323.48H457.26V325.77H455.7zM465.06 323.48H466.62V325.77H465.06zM346.5 321.19H348.06V323.48H346.5zM351.18 321.19H352.74V323.48H351.18zM355.86 321.19H357.42V323.48H355.86zM362.1 321.19H363.66V323.48H362.1zM380.82 321.19H382.38V323.48H380.82zM387.06 321.19H388.62V323.48H387.06zM402.66 321.19H404.22V323.48H402.66zM455.7 321.19H457.26V323.48H455.7zM357.42 318.9H358.98V321.19H357.42zM380.82 318.9H382.38V321.19H380.82zM396.42 318.9H397.98V321.19H396.42zM410.46 318.9H412.02V321.19H410.46zM438.54 318.9H440.1V321.19H438.54zM443.22 318.9H444.78V321.19H443.22zM447.9 318.9H449.46V321.19H447.9zM452.58 318.9H458.82V321.19H452.58zM352.74 316.61H355.86V318.9H352.74zM360.54 316.61H362.1V318.9H360.54zM363.66 316.61H365.22V318.9H363.66zM369.9 316.61H371.46V318.9H369.9zM376.14 316.61H377.7V318.9H376.14zM382.38 316.61H383.94V318.9H382.38zM385.5 316.61H387.06V318.9H385.5zM404.22 316.61H405.78V318.9H404.22zM410.46 316.61H412.02V318.9H410.46zM413.58 316.61H416.7V318.9H413.58zM443.22 316.61H444.78V318.9H443.22zM363.66 314.32H365.22V316.61H363.66zM374.58 314.32H376.14V316.61H374.58zM397.98 314.32H399.54V316.61H397.98zM401.1 314.32H402.66V316.61H401.1zM405.78 314.32H407.34V316.61H405.78zM413.58 314.32H415.14V316.61H413.58zM421.38 314.32H422.94V316.61H421.38zM446.34 314.32H447.9V316.61H446.34zM452.58 314.32H455.7V316.61H452.58zM458.82 314.32H460.38V316.61H458.82zM374.58 312.03H376.14V314.32H374.58zM388.62 312.03H390.18V314.32H388.62zM396.42 312.03H397.98V314.32H396.42zM399.54 312.03H401.1V314.32H399.54zM402.66 312.03H405.78V314.32H402.66zM410.46 312.03H413.58V314.32H410.46zM421.38 312.03H422.94V314.32H421.38zM429.18 312.03H432.3V314.32H429.18zM433.86 312.03H435.42V314.32H433.86zM446.34 312.03H447.9V314.32H446.34zM454.14 312.03H455.7V314.32H454.14zM377.7 309.74H380.82V312.03H377.7zM388.62 309.74H390.18V312.03H388.62zM405.78 309.74H407.34V312.03H405.78zM416.7 309.74H418.26V312.03H416.7zM432.3 309.74H435.42V312.03H432.3zM447.9 309.74H449.46V312.03H447.9zM451.02 309.74H454.14V312.03H451.02zM413.58 307.45H416.7V309.74H413.58zM427.62 307.45H429.18V309.74H427.62zM436.98 307.45H438.54V309.74H436.98zM443.22 307.45H444.78V309.74H443.22zM449.46 307.45H451.02V309.74H449.46zM454.14 307.45H455.7V309.74H454.14zM422.94 305.16H424.5V307.45H422.94zM440.1 305.16H441.66V307.45H440.1zM451.02 305.16H452.58V307.45H451.02zM416.7 302.87H418.26V305.16H416.7zM429.18 302.87H430.74V305.16H429.18zM379.26 300.58H380.82V302.87H379.26zM416.7 300.58H419.82V302.87H416.7zM451.02 300.58H452.58V302.87H451.02zM447.9 296H449.46V298.29H447.9zM449.46 289.13H451.02V291.42H449.46z"/>
<path fill="#0000bf" d="M413.58 376.15H416.7V378.44H413.58zM401.1 371.57H402.66V373.86H401.1zM412.02 371.57H413.58V373.86H412.02zM413.58 369.28H415.14V371.57H413.58zM424.5 369.28H426.06V371.57H424.5zM380.82 366.99H382.38V369.28H380.82zM390.18 366.99H391.74V369.28H390.18zM418.26 366.99H419.82V369.28H418.26zM407.34 362.41H408.9V364.7H407.34zM427.62 362.41H429.18V364.7H427.62zM436.98 362.41H440.1V364.7H436.98zM443.22 362.41H444.78V364.7H443.22zM447.9 362.41H449.46V364.7H447.9zM388.62 360.12H390.18V362.41H388.62zM391.74 360.12H393.3V362.41H391.74zM394.86 360.12H396.42V362.41H394.86zM404.22 360.12H405.78V362.41H404.22zM419.82 360.12H421.38V362.41H419.82zM435.42 360.12H436.98V362.41H435.42zM447.9 360.12H449.46V362.41H447.9zM383.94 357.83H385.5V360.12H383.94zM413.58 357.83H415.14V360.12H413.58zM430.74 357.83H438.54V360.12H430.74zM447.9 357.83H449.46V360.12H447.9zM371.46 355.54H373.02V357.83H371.46zM380.82 355.54H382.38V357.83H380.82zM401.1 355.54H402.66V357.83H401.1zM404.22 355.54H405.78V357.83H404.22zM407.34 355.54H408.9V357.83H407.34zM446.34 355.54H447.9V357.83H446.34zM451.02 355.54H452.58V357.83H451.02zM454.14 355.54H455.7V357.83H454.14zM358.98 353.25H360.54V355.54H358.98zM379.26 353.25H380.82V355.54H379.26zM447.9 353.25H449.46V355.54H447.9zM451.02 353.25H452.58V355.54H451.02zM457.26 353.25H460.38V355.54H457.26zM360.54 350.96H363.66V353.25H360.54zM368.34 350.96H369.9V353.25H368.34zM371.46 350.96H373.02V353.25H371.46zM374.58 350.96H376.14V353.25H374.58zM385.5 350.96H387.06V353.25H385.5zM457.26 350.96H458.82V353.25H457.26zM357.42 348.67H358.98V350.96H357.42zM354.3 346.38H355.86V348.67H354.3zM352.74 344.09H354.3V346.38H352.74zM358.98 344.09H360.54V346.38H358.98zM458.82 344.09H461.94V346.38H458.82zM346.5 341.8H348.06V344.09H346.5zM349.62 341.8H351.18V344.09H349.62zM460.38 341.8H461.94V344.09H460.38zM463.5 337.22H465.06V339.51H463.5zM461.94 334.93H463.5V337.22H461.94zM461.94 332.64H463.5V334.93H461.94zM349.62 330.35H351.18V332.64H349.62zM355.86 330.35H357.42V332.64H355.86zM463.5 330.35H465.06V332.64H463.5zM466.62 330.35H468.18V332.64H466.62zM344.94 328.06H346.5V330.35H344.94zM455.7 325.77H457.26V328.06H455.7zM351.18 323.48H352.74V325.77H351.18zM379.26 323.48H380.82V325.77H379.26zM358.98 321.19H360.54V323.48H358.98zM363.66 321.19H365.22V323.48H363.66zM366.78 321.19H368.34V323.48H366.78zM369.9 321.19H371.46V323.48H369.9zM385.5 321.19H387.06V323.48H385.5zM388.62 321.19H391.74V323.48H388.62zM401.1 321.19H402.66V323.48H401.1zM447.9 321.19H449.46V323.48H447.9zM362.1 318.9H363.66V321.19H362.1zM369.9 318.9H371.46V321.19H369.9zM374.58 318.9H376.14V321.19H374.58zM387.06 318.9H388.62V321.19H387.06zM405.78 318.9H407.34V321.19H405.78zM408.9 318.9H410.46V321.19H408.9zM412.02 318.9H415.14V321.19H412.02zM435.42 318.9H436.98V321.19H435.42zM449.46 318.9H452.58V321.19H449.46zM358.98 316.61H360.54V318.9H358.98zM387.06 316.61H388.62V318.9H387.06zM393.3 316.61H394.86V318.9H393.3zM401.1 316.61H402.66V318.9H401.1zM408.9 316.61H410.46V318.9H408.9zM412.02 316.61H413.58V318.9H412.02zM418.26 316.61H419.82V318.9H418.26zM421.38 316.61H422.94V318.9H421.38zM427.62 316.61H429.18V318.9H427.62zM455.7 316.61H457.26V318.9H455.7zM369.9 314.32H371.46V316.61H369.9zM391.74 314.32H393.3V316.61H391.74zM402.66 314.32H404.22V316.61H402.66zM407.34 314.32H408.9V316.61H407.34zM430.74 314.32H433.86V316.61H430.74zM436.98 314.32H438.54V316.61H436.98zM457.26 314.32H458.82V316.61H457.26zM407.34 312.03H408.9V314.32H407.34zM416.7 312.03H418.26V314.32H416.7zM422.94 312.03H424.5V314.32H422.94zM436.98 312.03H438.54V314.32H436.98zM447.9 312.03H451.02V314.32H447.9zM396.42 309.74H397.98V312.03H396.42zM418.26 309.74H419.82V312.03H418.26zM422.94 309.74H424.5V312.03H422.94zM441.66 307.45H443.22V309.74H441.66zM455.7 307.45H457.26V309.74H455.7zM399.54 305.16H401.1V307.45H399.54zM447.9 302.87H449.46V305.16H447.9zM443.22 296H444.78V298.29H443.22z"/>
<path fill="#0000cf" d="M388.62 369.28H390.18V371.57H388.62zM424.5 366.99H426.06V369.28H424.5zM447.9 366.99H449.46V369.28H447.9zM388.62 362.41H390.18V364.7H388.62zM393.3 360.12H394.86V362.41H393.3zM397.98 360.12H399.54V362.41H397.98zM402.66 360.12H404.22V362.41H402.66zM429.18 360.12H433.86V362.41H429.18zM436.98 360.12H438.54V362.41H436.98zM458.82 360.12H460.38V362.41H458.82zM377.7 357.83H379.26V360.12H377.7zM380.82 357.83H382.38V360.12H380.82zM387.06 357.83H388.62V360.12H387.06zM394.86 357.83H396.42V360.12H394.86zM397.98 357.83H399.54V360.12H397.98zM408.9 357.83H410.46V360.12H408.9zM422.94 357.83H424.5V360.12H422.94zM365.22 355.54H366.78V357.83H365.22zM385.5 355.54H388.62V357.83H385.5zM415.14 355.54H416.7V357.83H415.14zM447.9 355.54H449.46V357.83H447.9zM357.42 353.25H358.98V355.54H357.42zM366.78 353.25H369.9V355.54H366.78zM371.46 353.25H373.02V355.54H371.46zM380.82 353.25H383.94V355.54H380.82zM388.62 353.25H390.18V355.54H388.62zM438.54 353.25H440.1V355.54H438.54zM452.58 353.25H454.14V355.54H452.58zM355.86 350.96H357.42V353.25H355.86zM358.98 350.96H360.54V353.25H358.98zM366.78 350.96H368.34V353.25H366.78zM369.9 350.96H371.46V353.25H369.9zM373.02 350.96H374.58V353.25H373.02zM379.26 350.96H380.82V353.25H379.26zM382.38 350.96H383.94V353.25H382.38zM387.06 350.96H388.62V353.25H387.06zM374.58 348.67H376.14V350.96H374.58zM377.7 348.67H379.26V350.96H377.7zM457.26 348.67H458.82V350.96H457.26zM352.74 346.38H354.3V348.67H352.74zM365.22 346.38H366.78V348.67H365.22zM457.26 346.38H458.82V348.67H457.26zM461.94 346.38H463.5V348.67H461.94zM354.3 344.09H355.86V346.38H354.3zM452.58 344.09H454.14V346.38H452.58zM348.06 341.8H349.62V344.09H348.06zM461.94 341.8H463.5V344.09H461.94zM348.06 339.51H349.62V341.8H348.06zM346.5 337.22H348.06V339.51H346.5zM348.06 334.93H349.62V337.22H348.06zM346.5 332.64H348.06V334.93H346.5zM458.82 332.64H460.38V334.93H458.82zM458.82 330.35H460.38V332.64H458.82zM346.5 325.77H348.06V328.06H346.5zM382.38 325.77H383.94V328.06H382.38zM454.14 325.77H455.7V328.06H454.14zM346.5 323.48H348.06V325.77H346.5zM355.86 323.48H357.42V325.77H355.86zM393.3 323.48H394.86V325.77H393.3zM405.78 323.48H407.34V325.77H405.78zM460.38 323.48H461.94V325.77H460.38zM373.02 321.19H374.58V323.48H373.02zM399.54 321.19H401.1V323.48H399.54zM407.34 321.19H408.9V323.48H407.34zM415.14 321.19H416.7V323.48H415.14zM444.78 321.19H446.34V323.48H444.78zM452.58 321.19H454.14V323.48H452.58zM358.98 318.9H360.54V321.19H358.98zM363.66 318.9H366.78V321.19H363.66zM376.14 318.9H377.7V321.19H376.14zM382.38 318.9H383.94V321.19H382.38zM390.18 318.9H391.74V321.19H390.18zM393.3 318.9H394.86V321.19H393.3zM397.98 318.9H399.54V321.19H397.98zM402.66 318.9H405.78V321.19H402.66zM421.38 318.9H422.94V321.19H421.38zM429.18 318.9H430.74V321.19H429.18zM433.86 318.9H435.42V321.19H433.86zM436.98 318.9H438.54V321.19H436.98zM440.1 318.9H441.66V321.19H440.1zM371.46 316.61H373.02V318.9H371.46zM374.58 316.61H376.14V318.9H374.58zM379.26 316.61H380.82V318.9H379.26zM394.86 316.61H396.42V318.9H394.86zM424.5 316.61H426.06V318.9H424.5zM430.74 316.61H432.3V318.9H430.74zM438.54 316.61H441.66V318.9H438.54zM444.78 316.61H447.9V318.9H444.78zM451.02 316.61H452.58V318.9H451.02zM371.46 314.32H373.02V316.61H371.46zM380.82 314.32H382.38V316.61H380.82zM390.18 314.32H391.74V316.61H390.18zM412.02 314.32H413.58V316.61H412.02zM435.42 314.32H436.98V316.61H435.42zM394.86 312.03H396.42V314.32H394.86zM401.1 312.03H402.66V314.32H401.1zM427.62 312.03H429.18V314.32H427.62zM451.02 312.03H452.58V314.32H451.02z"/>
<path fill="#0000df" d="M452.58 364.7H454.14V366.99H452.58zM387.06 360.12H388.62V362.41H387.06zM399.54 360.12H401.1V362.41H399.54zM418.26 360.12H419.82V362.41H418.26zM451.02 360.12H452.58V362.41H451.02zM382.38 357.83H383.94V360.12H382.38zM410.46 357.83H412.02V360.12H410.46zM426.06 357.83H427.62V360.12H426.06zM429.18 357.83H430.74V360.12H429.18zM379.26 355.54H380.82V357.83H379.26zM424.5 355.54H427.62V357.83H424.5zM429.18 355.54H430.74V357.83H429.18zM444.78 355.54H446.34V357.83H444.78zM452.58 355.54H454.14V357.83H452.58zM373.02 353.25H376.14V355.54H373.02zM387.06 353.25H388.62V355.54H387.06zM390.18 353.25H391.74V355.54H390.18zM363.66 350.96H365.22V353.25H363.66zM390.18 350.96H391.74V353.25H390.18zM396.42 350.96H397.98V353.25H396.42zM447.9 350.96H449.46V353.25H447.9zM458.82 350.96H460.38V353.25H458.82zM365.22 348.67H366.78V350.96H365.22zM385.5 348.67H387.06V350.96H385.5zM355.86 346.38H357.42V348.67H355.86zM358.98 346.38H360.54V348.67H358.98zM380.82 346.38H382.38V348.67H380.82zM455.7 346.38H457.26V348.67H455.7zM357.42 344.09H358.98V346.38H357.42zM363.66 344.09H365.22V346.38H363.66zM454.14 344.09H455.7V346.38H454.14zM351.18 341.8H354.3V344.09H351.18zM355.86 341.8H357.42V344.09H355.86zM393.3 341.8H394.86V344.09H393.3zM457.26 341.8H458.82V344.09H457.26zM360.54 339.51H362.1V341.8H360.54zM460.38 337.22H461.94V339.51H460.38zM348.06 332.64H349.62V334.93H348.06zM344.94 330.35H348.06V332.64H344.94zM454.14 328.06H455.7V330.35H454.14zM357.42 325.77H358.98V328.06H357.42zM407.34 325.77H408.9V328.06H407.34zM457.26 325.77H460.38V328.06H457.26zM354.3 323.48H355.86V325.77H354.3zM385.5 323.48H387.06V325.77H385.5zM391.74 323.48H393.3V325.77H391.74zM402.66 323.48H405.78V325.77H402.66zM438.54 323.48H440.1V325.77H438.54zM449.46 323.48H451.02V325.77H449.46zM452.58 323.48H455.7V325.77H452.58zM354.3 321.19H355.86V323.48H354.3zM377.7 321.19H379.26V323.48H377.7zM382.38 321.19H385.5V323.48H382.38zM412.02 321.19H413.58V323.48H412.02zM354.3 318.9H355.86V321.19H354.3zM371.46 318.9H373.02V321.19H371.46zM377.7 318.9H380.82V321.19H377.7zM385.5 318.9H387.06V321.19H385.5zM394.86 318.9H396.42V321.19H394.86zM401.1 318.9H402.66V321.19H401.1zM415.14 318.9H418.26V321.19H415.14zM419.82 318.9H421.38V321.19H419.82zM446.34 318.9H447.9V321.19H446.34zM362.1 316.61H363.66V318.9H362.1zM368.34 316.61H369.9V318.9H368.34zM402.66 316.61H404.22V318.9H402.66zM426.06 316.61H427.62V318.9H426.06zM429.18 316.61H430.74V318.9H429.18zM441.66 316.61H443.22V318.9H441.66zM394.86 314.32H396.42V316.61H394.86zM443.22 314.32H444.78V316.61H443.22zM447.9 314.32H449.46V316.61H447.9zM441.66 312.03H443.22V314.32H441.66zM444.78 312.03H446.34V314.32H444.78z"/>
<path fill="#0000ef" d="M405.78 360.12H407.34V362.41H405.78zM422.94 360.12H424.5V362.41H422.94zM415.14 357.83H418.26V360.12H415.14zM438.54 357.83H440.1V360.12H438.54zM388.62 355.54H390.18V357.83H388.62zM391.74 355.54H393.3V357.83H391.74zM397.98 355.54H399.54V357.83H397.98zM402.66 355.54H404.22V357.83H402.66zM408.9 355.54H410.46V357.83H408.9zM436.98 355.54H438.54V357.83H436.98zM385.5 353.25H387.06V355.54H385.5zM393.3 353.25H394.86V355.54H393.3zM436.98 353.25H438.54V355.54H436.98zM440.1 353.25H441.66V355.54H440.1zM443.22 353.25H447.9V355.54H443.22zM376.14 350.96H379.26V353.25H376.14zM383.94 350.96H385.5V353.25H383.94zM443.22 350.96H444.78V353.25H443.22zM452.58 350.96H454.14V353.25H452.58zM368.34 348.67H369.9V350.96H368.34zM383.94 348.67H385.5V350.96H383.94zM388.62 346.38H390.18V348.67H388.62zM451.02 346.38H452.58V348.67H451.02zM454.14 346.38H455.7V348.67H454.14zM457.26 344.09H458.82V346.38H457.26zM363.66 341.8H365.22V344.09H363.66zM351.18 339.51H354.3V341.8H351.18zM352.74 334.93H354.3V337.22H352.74zM457.26 332.64H458.82V334.93H457.26zM343.38 330.35H344.94V332.64H343.38zM408.9 330.35H410.46V332.64H408.9zM457.26 330.35H458.82V332.64H457.26zM351.18 328.06H352.74V330.35H351.18zM460.38 328.06H461.94V330.35H460.38zM348.06 325.77H349.62V328.06H348.06zM352.74 325.77H354.3V328.06H352.74zM355.86 325.77H357.42V328.06H355.86zM352.74 323.48H354.3V325.77H352.74zM357.42 323.48H358.98V325.77H357.42zM362.1 323.48H363.66V325.77H362.1zM369.9 323.48H374.58V325.77H369.9zM377.7 323.48H379.26V325.77H377.7zM380.82 323.48H383.94V325.77H380.82zM394.86 323.48H397.98V325.77H394.86zM416.7 323.48H418.26V325.77H416.7zM457.26 323.48H458.82V325.77H457.26zM352.74 321.19H354.3V323.48H352.74zM365.22 321.19H366.78V323.48H365.22zM368.34 321.19H369.9V323.48H368.34zM371.46 321.19H373.02V323.48H371.46zM376.14 321.19H377.7V323.48H376.14zM391.74 321.19H393.3V323.48H391.74zM394.86 321.19H397.98V323.48H394.86zM410.46 321.19H412.02V323.48H410.46zM418.26 321.19H421.38V323.48H418.26zM422.94 321.19H424.5V323.48H422.94zM435.42 321.19H436.98V323.48H435.42zM446.34 321.19H447.9V323.48H446.34zM454.14 321.19H455.7V323.48H454.14zM351.18 318.9H352.74V321.19H351.18zM427.62 318.9H429.18V321.19H427.62zM430.74 318.9H433.86V321.19H430.74zM407.34 316.61H408.9V318.9H407.34zM419.82 316.61H421.38V318.9H419.82zM424.5 314.32H426.06V316.61H424.5zM429.18 314.32H430.74V316.61H429.18z"/>
<path fill="#0000ff" d="M421.38 360.12H422.94V362.41H421.38zM424.5 360.12H426.06V362.41H424.5zM419.82 357.83H422.94V360.12H419.82zM427.62 357.83H429.18V360.12H427.62zM446.34 357.83H447.9V360.12H446.34zM390.18 355.54H391.74V357.83H390.18zM413.58 355.54H415.14V357.83H413.58zM435.42 355.54H436.98V357.83H435.42zM383.94 353.25H385.5V355.54H383.94zM402.66 353.25H404.22V355.54H402.66zM410.46 353.25H413.58V355.54H410.46zM430.74 353.25H432.3V355.54H430.74zM435.42 353.25H436.98V355.54H435.42zM441.66 353.25H443.22V355.54H441.66zM393.3 350.96H394.86V353.25H393.3zM360.54 348.67H365.22V350.96H360.54zM379.26 348.67H380.82V350.96H379.26zM387.06 348.67H388.62V350.96H387.06zM360.54 346.38H362.1V348.67H360.54zM360.54 344.09H362.1V346.38H360.54zM455.7 344.09H457.26V346.38H455.7zM377.7 341.8H379.26V344.09H377.7zM455.7 341.8H457.26V344.09H455.7zM368.34 339.51H369.9V341.8H368.34zM455.7 337.22H458.82V339.51H455.7zM463.5 334.93H465.06V337.22H463.5zM351.18 332.64H352.74V334.93H351.18zM365.22 332.64H366.78V334.93H365.22zM354.3 330.35H355.86V332.64H354.3zM346.5 328.06H348.06V330.35H346.5zM352.74 328.06H355.86V330.35H352.74zM397.98 328.06H399.54V330.35H397.98zM458.82 328.06H460.38V330.35H458.82zM351.18 325.77H352.74V328.06H351.18zM358.98 325.77H360.54V328.06H358.98zM379.26 325.77H380.82V328.06H379.26zM393.3 325.77H394.86V328.06H393.3zM443.22 325.77H444.78V328.06H443.22zM451.02 325.77H452.58V328.06H451.02zM348.06 323.48H349.62V325.77H348.06zM358.98 323.48H360.54V325.77H358.98zM366.78 323.48H369.9V325.77H366.78zM376.14 323.48H377.7V325.77H376.14zM388.62 323.48H391.74V325.77H388.62zM407.34 323.48H408.9V325.77H407.34zM430.74 323.48H432.3V325.77H430.74zM379.26 321.19H380.82V323.48H379.26zM397.98 321.19H399.54V323.48H397.98zM413.58 321.19H415.14V323.48H413.58zM430.74 321.19H432.3V323.48H430.74zM440.1 321.19H441.66V323.48H440.1zM418.26 318.9H419.82V321.19H418.26zM424.5 318.9H426.06V321.19H424.5zM383.94 316.61H385.5V318.9H383.94zM441.66 314.32H443.22V316.61H441.66z"/>
<path fill="#0010ff" d="M412.02 360.12H413.58V362.41H412.02zM416.7 360.12H418.26V362.41H416.7zM426.06 360.12H427.62V362.41H426.06zM399.54 357.83H401.1V360.12H399.54zM407.34 357.83H408.9V360.12H407.34zM418.26 357.83H419.82V360.12H418.26zM424.5 357.83H426.06V360.12H424.5zM427.62 355.54H429.18V357.83H427.62zM430.74 355.54H432.3V357.83H430.74zM443.22 355.54H444.78V357.83H443.22zM391.74 353.25H393.3V355.54H391.74zM396.42 353.25H402.66V355.54H396.42zM407.34 353.25H408.9V355.54H407.34zM380.82 350.96H382.38V353.25H380.82zM412.02 350.96H413.58V353.25H412.02zM435.42 350.96H436.98V353.25H435.42zM449.46 350.96H452.58V353.25H449.46zM366.78 348.67H368.34V350.96H366.78zM371.46 348.67H373.02V350.96H371.46zM376.14 348.67H377.7V350.96H376.14zM380.82 348.67H382.38V350.96H380.82zM388.62 348.67H390.18V350.96H388.62zM401.1 348.67H402.66V350.96H401.1zM454.14 348.67H455.7V350.96H454.14zM357.42 346.38H358.98V348.67H357.42zM363.66 346.38H365.22V348.67H363.66zM369.9 346.38H371.46V348.67H369.9zM374.58 346.38H376.14V348.67H374.58zM379.26 346.38H380.82V348.67H379.26zM385.5 346.38H387.06V348.67H385.5zM355.86 344.09H357.42V346.38H355.86zM357.42 341.8H362.1V344.09H357.42zM458.82 341.8H460.38V344.09H458.82zM454.14 337.22H455.7V339.51H454.14zM369.9 330.35H371.46V332.64H369.9zM360.54 325.77H362.1V328.06H360.54zM366.78 325.77H369.9V328.06H366.78zM391.74 325.77H393.3V328.06H391.74zM396.42 325.77H397.98V328.06H396.42zM397.98 323.48H399.54V325.77H397.98zM413.58 323.48H415.14V325.77H413.58zM444.78 323.48H449.46V325.77H444.78zM348.06 321.19H349.62V323.48H348.06zM357.42 321.19H358.98V323.48H357.42zM408.9 321.19H410.46V323.48H408.9zM421.38 321.19H422.94V323.48H421.38zM438.54 321.19H440.1V323.48H438.54zM443.22 321.19H444.78V323.48H443.22zM451.02 321.19H452.58V323.48H451.02zM441.66 318.9H443.22V321.19H441.66zM444.78 318.9H446.34V321.19H444.78z"/>
<path fill="#0020ff" d="M421.38 355.54H422.94V357.83H421.38zM432.3 355.54H433.86V357.83H432.3zM404.22 353.25H405.78V355.54H404.22zM408.9 353.25H410.46V355.54H408.9zM449.46 353.25H451.02V355.54H449.46zM407.34 350.96H408.9V353.25H407.34zM441.66 350.96H443.22V353.25H441.66zM446.34 350.96H447.9V353.25H446.34zM369.9 348.67H371.46V350.96H369.9zM396.42 348.67H397.98V350.96H396.42zM444.78 348.67H446.34V350.96H444.78zM452.58 348.67H454.14V350.96H452.58zM368.34 346.38H369.9V348.67H368.34zM383.94 346.38H385.5V348.67H383.94zM394.86 346.38H396.42V348.67H394.86zM449.46 346.38H451.02V348.67H449.46zM452.58 346.38H454.14V348.67H452.58zM362.1 344.09H363.66V346.38H362.1zM354.3 341.8H355.86V344.09H354.3zM357.42 339.51H358.98V341.8H357.42zM348.06 337.22H349.62V339.51H348.06zM358.98 334.93H360.54V337.22H358.98zM385.5 330.35H387.06V332.64H385.5zM396.42 330.35H397.98V332.64H396.42zM349.62 328.06H351.18V330.35H349.62zM362.1 328.06H363.66V330.35H362.1zM382.38 328.06H383.94V330.35H382.38zM393.3 328.06H394.86V330.35H393.3zM396.42 328.06H397.98V330.35H396.42zM344.94 325.77H346.5V328.06H344.94zM373.02 325.77H374.58V328.06H373.02zM390.18 325.77H391.74V328.06H390.18zM404.22 325.77H405.78V328.06H404.22zM444.78 325.77H446.34V328.06H444.78zM452.58 325.77H454.14V328.06H452.58zM365.22 323.48H366.78V325.77H365.22zM374.58 323.48H376.14V325.77H374.58zM399.54 323.48H402.66V325.77H399.54zM441.66 323.48H443.22V325.77H441.66zM393.3 321.19H394.86V323.48H393.3zM405.78 321.19H407.34V323.48H405.78zM424.5 321.19H426.06V323.48H424.5zM433.86 321.19H435.42V323.48H433.86zM436.98 321.19H438.54V323.48H436.98zM366.78 318.9H368.34V321.19H366.78zM373.02 318.9H374.58V321.19H373.02zM388.62 318.9H390.18V321.19H388.62zM407.34 318.9H408.9V321.19H407.34z"/>
<path fill="#0030ff" d="M412.02 355.54H413.58V357.83H412.02zM418.26 355.54H419.82V357.83H418.26zM433.86 355.54H435.42V357.83H433.86zM438.54 355.54H440.1V357.83H438.54zM394.86 353.25H396.42V355.54H394.86zM405.78 353.25H407.34V355.54H405.78zM416.7 353.25H418.26V355.54H416.7zM424.5 353.25H426.06V355.54H424.5zM429.18 353.25H430.74V355.54H429.18zM404.22 350.96H405.78V353.25H404.22zM444.78 350.96H446.34V353.25H444.78zM382.38 348.67H383.94V350.96H382.38zM390.18 348.67H391.74V350.96H390.18zM397.98 348.67H399.54V350.96H397.98zM441.66 348.67H443.22V350.96H441.66zM447.9 348.67H451.02V350.96H447.9zM362.1 346.38H363.66V348.67H362.1zM391.74 346.38H393.3V348.67H391.74zM447.9 346.38H449.46V348.67H447.9zM365.22 344.09H366.78V346.38H365.22zM368.34 344.09H369.9V346.38H368.34zM374.58 344.09H376.14V346.38H374.58zM366.78 341.8H368.34V344.09H366.78zM454.14 341.8H455.7V344.09H454.14zM349.62 339.51H351.18V341.8H349.62zM354.3 339.51H355.86V341.8H354.3zM374.58 339.51H376.14V341.8H374.58zM349.62 337.22H351.18V339.51H349.62zM352.74 337.22H354.3V339.51H352.74zM452.58 337.22H454.14V339.51H452.58zM354.3 334.93H355.86V337.22H354.3zM455.7 334.93H458.82V337.22H455.7zM349.62 332.64H351.18V334.93H349.62zM446.34 332.64H447.9V334.93H446.34zM455.7 332.64H457.26V334.93H455.7zM348.06 330.35H349.62V332.64H348.06zM351.18 330.35H352.74V332.64H351.18zM388.62 330.35H390.18V332.64H388.62zM357.42 328.06H358.98V330.35H357.42zM369.9 328.06H371.46V330.35H369.9zM390.18 328.06H391.74V330.35H390.18zM452.58 328.06H454.14V330.35H452.58zM363.66 325.77H365.22V328.06H363.66zM376.14 325.77H377.7V328.06H376.14zM385.5 325.77H390.18V328.06H385.5zM394.86 325.77H396.42V328.06H394.86zM397.98 325.77H399.54V328.06H397.98zM405.78 325.77H407.34V328.06H405.78zM408.9 323.48H412.02V325.77H408.9zM415.14 323.48H416.7V325.77H415.14zM416.7 321.19H418.26V323.48H416.7z"/>
<path fill="#0040ff" d="M410.46 355.54H412.02V357.83H410.46zM419.82 355.54H421.38V357.83H419.82zM413.58 353.25H416.7V355.54H413.58zM433.86 353.25H435.42V355.54H433.86zM388.62 350.96H390.18V353.25H388.62zM391.74 350.96H393.3V353.25H391.74zM397.98 350.96H401.1V353.25H397.98zM402.66 350.96H404.22V353.25H402.66zM373.02 348.67H374.58V350.96H373.02zM438.54 348.67H441.66V350.96H438.54zM366.78 346.38H368.34V348.67H366.78zM371.46 346.38H373.02V348.67H371.46zM376.14 346.38H377.7V348.67H376.14zM440.1 346.38H441.66V348.67H440.1zM449.46 344.09H451.02V346.38H449.46zM368.34 341.8H369.9V344.09H368.34zM383.94 341.8H385.5V344.09H383.94zM355.86 339.51H357.42V341.8H355.86zM362.1 339.51H363.66V341.8H362.1zM369.9 339.51H371.46V341.8H369.9zM405.78 339.51H407.34V341.8H405.78zM457.26 339.51H458.82V341.8H457.26zM351.18 337.22H352.74V339.51H351.18zM355.86 337.22H357.42V339.51H355.86zM358.98 337.22H360.54V339.51H358.98zM352.74 332.64H354.3V334.93H352.74zM377.7 332.64H379.26V334.93H377.7zM352.74 330.35H354.3V332.64H352.74zM451.02 330.35H452.58V332.64H451.02zM363.66 328.06H365.22V330.35H363.66zM374.58 328.06H376.14V330.35H374.58zM443.22 328.06H444.78V330.35H443.22zM451.02 328.06H452.58V330.35H451.02zM362.1 325.77H363.66V328.06H362.1zM365.22 325.77H366.78V328.06H365.22zM380.82 325.77H382.38V328.06H380.82zM401.1 325.77H404.22V328.06H401.1zM438.54 325.77H440.1V328.06H438.54zM360.54 323.48H362.1V325.77H360.54zM374.58 321.19H376.14V323.48H374.58zM404.22 321.19H405.78V323.48H404.22zM426.06 321.19H427.62V323.48H426.06zM429.18 321.19H430.74V323.48H429.18zM449.46 321.19H451.02V323.48H449.46z"/>
<path fill="#0050ff" d="M418.26 353.25H421.38V355.54H418.26zM432.3 353.25H433.86V355.54H432.3zM407.34 348.67H408.9V350.96H407.34zM396.42 346.38H397.98V348.67H396.42zM399.54 346.38H401.1V348.67H399.54zM366.78 344.09H368.34V346.38H366.78zM371.46 344.09H373.02V346.38H371.46zM365.22 339.51H366.78V341.8H365.22zM454.14 339.51H455.7V341.8H454.14zM354.3 337.22H355.86V339.51H354.3zM451.02 337.22H452.58V339.51H451.02zM458.82 337.22H460.38V339.51H458.82zM362.1 334.93H363.66V337.22H362.1zM452.58 334.93H454.14V337.22H452.58zM368.34 332.64H369.9V334.93H368.34zM394.86 332.64H396.42V334.93H394.86zM362.1 330.35H363.66V332.64H362.1zM454.14 330.35H455.7V332.64H454.14zM368.34 328.06H369.9V330.35H368.34zM376.14 328.06H377.7V330.35H376.14zM388.62 328.06H390.18V330.35H388.62zM399.54 328.06H402.66V330.35H399.54zM404.22 328.06H405.78V330.35H404.22zM413.58 328.06H415.14V330.35H413.58zM455.7 328.06H457.26V330.35H455.7zM349.62 325.77H351.18V328.06H349.62zM371.46 325.77H373.02V328.06H371.46zM374.58 325.77H376.14V328.06H374.58zM408.9 325.77H410.46V328.06H408.9zM447.9 325.77H449.46V328.06H447.9zM363.66 323.48H365.22V325.77H363.66zM383.94 323.48H385.5V325.77H383.94zM387.06 323.48H388.62V325.77H387.06zM412.02 323.48H413.58V325.77H412.02zM418.26 323.48H419.82V325.77H418.26zM421.38 323.48H422.94V325.77H421.38zM429.18 323.48H430.74V325.77H429.18zM436.98 323.48H438.54V325.77H436.98zM432.3 321.19H433.86V323.48H432.3zM441.66 321.19H443.22V323.48H441.66zM422.94 318.9H424.5V321.19H422.94z"/>
<path fill="#0060ff" d="M416.7 355.54H418.26V357.83H416.7zM394.86 350.96H396.42V353.25H394.86zM418.26 350.96H419.82V353.25H418.26zM433.86 350.96H435.42V353.25H433.86zM391.74 348.67H394.86V350.96H391.74zM399.54 348.67H401.1V350.96H399.54zM446.34 348.67H447.9V350.96H446.34zM393.3 346.38H394.86V348.67H393.3zM444.78 346.38H446.34V348.67H444.78zM387.06 344.09H388.62V346.38H387.06zM391.74 344.09H393.3V346.38H391.74zM399.54 344.09H401.1V346.38H399.54zM380.82 341.8H382.38V344.09H380.82zM387.06 341.8H388.62V344.09H387.06zM399.54 341.8H401.1V344.09H399.54zM366.78 339.51H368.34V341.8H366.78zM455.7 339.51H457.26V341.8H455.7zM357.42 337.22H358.98V339.51H357.42zM365.22 337.22H366.78V339.51H365.22zM349.62 334.93H352.74V337.22H349.62zM355.86 334.93H357.42V337.22H355.86zM371.46 334.93H373.02V337.22H371.46zM390.18 334.93H391.74V337.22H390.18zM397.98 334.93H399.54V337.22H397.98zM449.46 334.93H451.02V337.22H449.46zM354.3 332.64H355.86V334.93H354.3zM454.14 332.64H455.7V334.93H454.14zM357.42 330.35H358.98V332.64H357.42zM380.82 330.35H382.38V332.64H380.82zM383.94 330.35H385.5V332.64H383.94zM446.34 330.35H447.9V332.64H446.34zM452.58 330.35H454.14V332.64H452.58zM348.06 328.06H349.62V330.35H348.06zM358.98 328.06H362.1V330.35H358.98zM366.78 328.06H368.34V330.35H366.78zM391.74 328.06H393.3V330.35H391.74zM402.66 328.06H404.22V330.35H402.66zM399.54 325.77H401.1V328.06H399.54zM410.46 325.77H412.02V328.06H410.46zM422.94 325.77H424.5V328.06H422.94zM435.42 325.77H436.98V328.06H435.42zM446.34 325.77H447.9V328.06H446.34zM424.5 323.48H426.06V325.77H424.5zM440.1 323.48H441.66V325.77H440.1zM443.22 323.48H444.78V325.77H443.22zM427.62 321.19H429.18V323.48H427.62zM426.06 318.9H427.62V321.19H426.06z"/>
<path fill="#0070ff" d="M422.94 355.54H424.5V357.83H422.94zM421.38 353.25H422.94V355.54H421.38zM401.1 350.96H402.66V353.25H401.1zM413.58 350.96H415.14V353.25H413.58zM424.5 350.96H426.06V353.25H424.5zM427.62 350.96H429.18V353.25H427.62zM438.54 350.96H440.1V353.25H438.54zM373.02 346.38H374.58V348.67H373.02zM377.7 346.38H379.26V348.67H377.7zM387.06 346.38H388.62V348.67H387.06zM397.98 346.38H399.54V348.67H397.98zM446.34 346.38H447.9V348.67H446.34zM369.9 344.09H371.46V346.38H369.9zM376.14 344.09H377.7V346.38H376.14zM379.26 344.09H380.82V346.38H379.26zM382.38 344.09H385.5V346.38H382.38zM438.54 344.09H440.1V346.38H438.54zM446.34 344.09H447.9V346.38H446.34zM451.02 341.8H452.58V344.09H451.02zM358.98 339.51H360.54V341.8H358.98zM368.34 337.22H369.9V339.51H368.34zM373.02 337.22H376.14V339.51H373.02zM380.82 337.22H382.38V339.51H380.82zM383.94 337.22H385.5V339.51H383.94zM373.02 334.93H374.58V337.22H373.02zM404.22 334.93H405.78V337.22H404.22zM355.86 332.64H358.98V334.93H355.86zM362.1 332.64H363.66V334.93H362.1zM379.26 332.64H380.82V334.93H379.26zM387.06 330.35H388.62V332.64H387.06zM444.78 330.35H446.34V332.64H444.78zM455.7 330.35H457.26V332.64H455.7zM355.86 328.06H357.42V330.35H355.86zM365.22 328.06H366.78V330.35H365.22zM394.86 328.06H396.42V330.35H394.86zM377.7 325.77H379.26V328.06H377.7zM440.1 325.77H443.22V328.06H440.1zM426.06 323.48H427.62V325.77H426.06z"/>
<path fill="#0080ff" d="M426.06 353.25H429.18V355.54H426.06zM408.9 350.96H412.02V353.25H408.9zM419.82 350.96H421.38V353.25H419.82zM430.74 350.96H433.86V353.25H430.74zM436.98 350.96H438.54V353.25H436.98zM440.1 350.96H441.66V353.25H440.1zM394.86 348.67H396.42V350.96H394.86zM402.66 348.67H404.22V350.96H402.66zM405.78 348.67H407.34V350.96H405.78zM410.46 348.67H412.02V350.96H410.46zM427.62 348.67H429.18V350.96H427.62zM436.98 348.67H438.54V350.96H436.98zM382.38 346.38H383.94V348.67H382.38zM390.18 346.38H391.74V348.67H390.18zM401.1 346.38H404.22V348.67H401.1zM432.3 346.38H433.86V348.67H432.3zM373.02 344.09H374.58V346.38H373.02zM380.82 344.09H382.38V346.38H380.82zM394.86 344.09H399.54V346.38H394.86zM443.22 344.09H446.34V346.38H443.22zM447.9 344.09H449.46V346.38H447.9zM362.1 341.8H363.66V344.09H362.1zM365.22 341.8H366.78V344.09H365.22zM401.1 341.8H402.66V344.09H401.1zM449.46 341.8H451.02V344.09H449.46zM373.02 339.51H374.58V341.8H373.02zM376.14 339.51H377.7V341.8H376.14zM385.5 339.51H387.06V341.8H385.5zM452.58 339.51H454.14V341.8H452.58zM360.54 337.22H362.1V339.51H360.54zM363.66 337.22H365.22V339.51H363.66zM366.78 337.22H368.34V339.51H366.78zM387.06 337.22H388.62V339.51H387.06zM390.18 337.22H391.74V339.51H390.18zM449.46 337.22H451.02V339.51H449.46zM360.54 334.93H362.1V337.22H360.54zM368.34 334.93H369.9V337.22H368.34zM374.58 334.93H376.14V337.22H374.58zM394.86 334.93H396.42V337.22H394.86zM454.14 334.93H455.7V337.22H454.14zM358.98 332.64H360.54V334.93H358.98zM366.78 332.64H368.34V334.93H366.78zM373.02 332.64H376.14V334.93H373.02zM383.94 332.64H387.06V334.93H383.94zM391.74 332.64H394.86V334.93H391.74zM451.02 332.64H452.58V334.93H451.02zM358.98 330.35H362.1V332.64H358.98zM363.66 330.35H369.9V332.64H363.66zM373.02 330.35H374.58V332.64H373.02zM376.14 330.35H377.7V332.64H376.14zM382.38 330.35H383.94V332.64H382.38zM390.18 330.35H391.74V332.64H390.18zM393.3 330.35H394.86V332.64H393.3zM402.66 330.35H404.22V332.64H402.66zM380.82 328.06H382.38V330.35H380.82zM383.94 328.06H385.5V330.35H383.94zM405.78 328.06H408.9V330.35H405.78zM410.46 328.06H412.02V330.35H410.46zM416.7 328.06H418.26V330.35H416.7zM432.3 328.06H433.86V330.35H432.3zM436.98 328.06H438.54V330.35H436.98zM440.1 328.06H441.66V330.35H440.1zM354.3 325.77H355.86V328.06H354.3zM369.9 325.77H371.46V328.06H369.9zM383.94 325.77H385.5V328.06H383.94zM412.02 325.77H413.58V328.06H412.02zM416.7 325.77H418.26V328.06H416.7zM432.3 325.77H433.86V328.06H432.3zM422.94 323.48H424.5V325.77H422.94zM427.62 323.48H429.18V325.77H427.62z"/>
<path fill="#008fff" d="M405.78 350.96H407.34V353.25H405.78zM443.22 348.67H444.78V350.96H443.22zM405.78 346.38H407.34V348.67H405.78zM408.9 346.38H412.02V348.67H408.9zM443.22 346.38H444.78V348.67H443.22zM393.3 344.09H394.86V346.38H393.3zM441.66 344.09H443.22V346.38H441.66zM373.02 341.8H374.58V344.09H373.02zM452.58 341.8H454.14V344.09H452.58zM382.38 339.51H385.5V341.8H382.38zM393.3 337.22H394.86V339.51H393.3zM447.9 337.22H449.46V339.51H447.9zM363.66 334.93H365.22V337.22H363.66zM443.22 334.93H444.78V337.22H443.22zM451.02 334.93H452.58V337.22H451.02zM369.9 332.64H371.46V334.93H369.9zM382.38 332.64H383.94V334.93H382.38zM396.42 332.64H397.98V334.93H396.42zM407.34 332.64H408.9V334.93H407.34zM374.58 330.35H376.14V332.64H374.58zM379.26 330.35H380.82V332.64H379.26zM399.54 330.35H402.66V332.64H399.54zM387.06 328.06H388.62V330.35H387.06zM412.02 328.06H413.58V330.35H412.02zM415.14 328.06H416.7V330.35H415.14zM446.34 328.06H451.02V330.35H446.34zM449.46 325.77H451.02V328.06H449.46zM433.86 323.48H436.98V325.77H433.86zM451.02 323.48H452.58V325.77H451.02z"/>
<path fill="#009fff" d="M426.06 350.96H427.62V353.25H426.06zM429.18 346.38H430.74V348.67H429.18zM433.86 346.38H435.42V348.67H433.86zM441.66 346.38H443.22V348.67H441.66zM385.5 344.09H387.06V346.38H385.5zM388.62 344.09H391.74V346.38H388.62zM371.46 341.8H373.02V344.09H371.46zM377.7 339.51H379.26V341.8H377.7zM396.42 337.22H397.98V339.51H396.42zM388.62 334.93H390.18V337.22H388.62zM405.78 334.93H407.34V337.22H405.78zM399.54 332.64H401.1V334.93H399.54zM452.58 332.64H454.14V334.93H452.58zM394.86 330.35H396.42V332.64H394.86zM405.78 330.35H407.34V332.64H405.78zM426.06 328.06H427.62V330.35H426.06zM444.78 328.06H446.34V330.35H444.78zM430.74 325.77H432.3V328.06H430.74zM432.3 323.48H433.86V325.77H432.3z"/>
<path fill="#00afff" d="M415.14 350.96H416.7V353.25H415.14zM408.9 348.67H410.46V350.96H408.9zM424.5 348.67H426.06V350.96H424.5zM433.86 348.67H436.98V350.96H433.86zM377.7 344.09H379.26V346.38H377.7zM369.9 341.8H371.46V344.09H369.9zM379.26 341.8H380.82V344.09H379.26zM447.9 341.8H449.46V344.09H447.9zM449.46 339.51H452.58V341.8H449.46zM369.9 337.22H371.46V339.51H369.9zM376.14 337.22H377.7V339.51H376.14zM382.38 337.22H383.94V339.51H382.38zM397.98 337.22H399.54V339.51H397.98zM436.98 337.22H438.54V339.51H436.98zM444.78 337.22H446.34V339.51H444.78zM366.78 334.93H368.34V337.22H366.78zM369.9 334.93H371.46V337.22H369.9zM380.82 334.93H382.38V337.22H380.82zM385.5 334.93H387.06V337.22H385.5zM393.3 334.93H394.86V337.22H393.3zM360.54 332.64H362.1V334.93H360.54zM363.66 332.64H365.22V334.93H363.66zM380.82 332.64H382.38V334.93H380.82zM387.06 332.64H388.62V334.93H387.06zM397.98 332.64H399.54V334.93H397.98zM377.7 330.35H379.26V332.64H377.7zM441.66 330.35H443.22V332.64H441.66zM373.02 328.06H374.58V330.35H373.02zM385.5 328.06H387.06V330.35H385.5zM418.26 325.77H419.82V328.06H418.26zM426.06 325.77H427.62V328.06H426.06zM436.98 325.77H438.54V328.06H436.98zM419.82 323.48H421.38V325.77H419.82z"/>
<path fill="#00bfff" d="M429.18 350.96H430.74V353.25H429.18zM430.74 348.67H433.86V350.96H430.74zM407.34 346.38H408.9V348.67H407.34zM430.74 346.38H432.3V348.67H430.74zM435.42 346.38H436.98V348.67H435.42zM402.66 344.09H404.22V346.38H402.66zM440.1 344.09H441.66V346.38H440.1zM451.02 344.09H452.58V346.38H451.02zM391.74 341.8H393.3V344.09H391.74zM440.1 341.8H441.66V344.09H440.1zM444.78 341.8H447.9V344.09H444.78zM363.66 339.51H365.22V341.8H363.66zM387.06 339.51H390.18V341.8H387.06zM393.3 339.51H394.86V341.8H393.3zM397.98 339.51H401.1V341.8H397.98zM404.22 337.22H407.34V339.51H404.22zM357.42 334.93H358.98V337.22H357.42zM376.14 334.93H377.7V337.22H376.14zM382.38 334.93H383.94V337.22H382.38zM391.74 334.93H393.3V337.22H391.74zM376.14 332.64H377.7V334.93H376.14zM402.66 332.64H404.22V334.93H402.66zM410.46 332.64H412.02V334.93H410.46zM449.46 332.64H451.02V334.93H449.46zM430.74 330.35H432.3V332.64H430.74zM379.26 328.06H380.82V330.35H379.26zM433.86 328.06H435.42V330.35H433.86zM438.54 328.06H440.1V330.35H438.54zM413.58 325.77H415.14V328.06H413.58zM419.82 325.77H421.38V328.06H419.82zM427.62 325.77H429.18V328.06H427.62z"/>
<path fill="#00cfff" d="M415.14 348.67H416.7V350.96H415.14zM429.18 348.67H430.74V350.96H429.18zM401.1 344.09H402.66V346.38H401.1zM374.58 341.8H377.7V344.09H374.58zM394.86 341.8H396.42V344.09H394.86zM380.82 339.51H382.38V341.8H380.82zM390.18 339.51H391.74V341.8H390.18zM371.46 337.22H373.02V339.51H371.46zM377.7 337.22H379.26V339.51H377.7zM385.5 337.22H387.06V339.51H385.5zM388.62 337.22H390.18V339.51H388.62zM394.86 337.22H396.42V339.51H394.86zM443.22 332.64H444.78V334.93H443.22zM371.46 330.35H373.02V332.64H371.46zM436.98 330.35H438.54V332.64H436.98zM449.46 330.35H451.02V332.64H449.46zM377.7 328.06H379.26V330.35H377.7zM418.26 328.06H419.82V330.35H418.26zM422.94 328.06H426.06V330.35H422.94zM441.66 328.06H443.22V330.35H441.66zM429.18 325.77H430.74V328.06H429.18zM433.86 325.77H435.42V328.06H433.86z"/>
<path fill="#00dfff" d="M416.7 350.96H418.26V353.25H416.7zM412.02 348.67H413.58V350.96H412.02zM419.82 348.67H422.94V350.96H419.82zM404.22 346.38H405.78V348.67H404.22zM436.98 346.38H438.54V348.67H436.98zM404.22 344.09H405.78V346.38H404.22zM432.3 344.09H433.86V346.38H432.3zM436.98 339.51H438.54V341.8H436.98zM401.1 337.22H402.66V339.51H401.1zM365.22 334.93H366.78V337.22H365.22zM377.7 334.93H379.26V337.22H377.7zM383.94 334.93H385.5V337.22H383.94zM399.54 334.93H401.1V337.22H399.54zM388.62 332.64H390.18V334.93H388.62zM401.1 332.64H402.66V334.93H401.1zM405.78 332.64H407.34V334.93H405.78zM408.9 332.64H410.46V334.93H408.9zM430.74 332.64H432.3V334.93H430.74zM444.78 332.64H446.34V334.93H444.78zM410.46 330.35H412.02V332.64H410.46zM415.14 330.35H416.7V332.64H415.14zM432.3 330.35H433.86V332.64H432.3zM419.82 328.06H421.38V330.35H419.82zM415.14 325.77H416.7V328.06H415.14zM421.38 325.77H422.94V328.06H421.38z"/>
<path fill="#00efff" d="M422.94 353.25H424.5V355.54H422.94zM422.94 350.96H424.5V353.25H422.94zM404.22 348.67H405.78V350.96H404.22zM413.58 348.67H415.14V350.96H413.58zM438.54 346.38H440.1V348.67H438.54zM407.34 344.09H410.46V346.38H407.34zM408.9 341.8H410.46V344.09H408.9zM412.02 339.51H413.58V341.8H412.02zM441.66 339.51H443.22V341.8H441.66zM444.78 339.51H447.9V341.8H444.78zM435.42 337.22H436.98V339.51H435.42zM441.66 337.22H443.22V339.51H441.66zM401.1 334.93H402.66V337.22H401.1zM435.42 334.93H436.98V337.22H435.42zM444.78 334.93H446.34V337.22H444.78zM397.98 330.35H399.54V332.64H397.98zM440.1 330.35H441.66V332.64H440.1zM435.42 328.06H436.98V330.35H435.42z"/>
<path fill="#00ffff" d="M385.5 341.8H387.06V344.09H385.5zM436.98 341.8H440.1V344.09H436.98zM441.66 341.8H443.22V344.09H441.66zM447.9 339.51H449.46V341.8H447.9zM362.1 337.22H363.66V339.51H362.1zM446.34 334.93H447.9V337.22H446.34zM390.18 332.64H391.74V334.93H390.18zM413.58 332.64H415.14V334.93H413.58zM433.86 330.35H435.42V332.64H433.86zM447.9 330.35H449.46V332.64H447.9zM421.38 328.06H422.94V330.35H421.38z"/>
<path fill="#10ffef" d="M412.02 346.38H413.58V348.67H412.02zM436.98 344.09H438.54V346.38H436.98zM382.38 341.8H383.94V344.09H382.38zM397.98 341.8H399.54V344.09H397.98zM435.42 341.8H436.98V344.09H435.42zM443.22 341.8H444.78V344.09H443.22zM379.26 339.51H380.82V341.8H379.26zM391.74 339.51H393.3V341.8H391.74zM408.9 339.51H410.46V341.8H408.9zM391.74 337.22H393.3V339.51H391.74zM379.26 334.93H380.82V337.22H379.26zM408.9 334.93H410.46V337.22H408.9zM438.54 332.64H440.1V334.93H438.54zM447.9 332.64H449.46V334.93H447.9zM404.22 330.35H405.78V332.64H404.22zM412.02 330.35H413.58V332.64H412.02zM430.74 328.06H432.3V330.35H430.74zM424.5 325.77H426.06V328.06H424.5z"/>
<path fill="#20ffdf" d="M422.94 348.67H424.5V350.96H422.94zM413.58 344.09H415.14V346.38H413.58zM424.5 344.09H426.06V346.38H424.5zM396.42 341.8H397.98V344.09H396.42zM435.42 339.51H436.98V341.8H435.42zM396.42 334.93H397.98V337.22H396.42zM371.46 332.64H373.02V334.93H371.46zM404.22 332.64H405.78V334.93H404.22zM391.74 330.35H393.3V332.64H391.74zM371.46 328.06H373.02V330.35H371.46zM408.9 328.06H410.46V330.35H408.9z"/>
<path fill="#30ffcf" d="M421.38 350.96H422.94V353.25H421.38zM388.62 341.8H390.18V344.09H388.62zM371.46 339.51H373.02V341.8H371.46zM394.86 339.51H396.42V341.8H394.86zM401.1 339.51H404.22V341.8H401.1zM433.86 339.51H435.42V341.8H433.86zM402.66 337.22H404.22V339.51H402.66zM402.66 334.93H404.22V337.22H402.66zM412.02 332.64H413.58V334.93H412.02zM407.34 330.35H408.9V332.64H407.34zM418.26 330.35H419.82V332.64H418.26zM443.22 330.35H444.78V332.64H443.22zM429.18 328.06H430.74V330.35H429.18z"/>
<path fill="#40ffbf" d="M418.26 348.67H419.82V350.96H418.26zM413.58 346.38H415.14V348.67H413.58zM416.7 344.09H418.26V346.38H416.7zM435.42 344.09H436.98V346.38H435.42zM402.66 341.8H407.34V344.09H402.66zM410.46 341.8H412.02V344.09H410.46zM430.74 339.51H432.3V341.8H430.74zM443.22 339.51H444.78V341.8H443.22zM379.26 337.22H380.82V339.51H379.26zM440.1 337.22H441.66V339.51H440.1zM446.34 337.22H447.9V339.51H446.34zM410.46 334.93H412.02V337.22H410.46zM433.86 332.64H435.42V334.93H433.86zM438.54 330.35H440.1V332.64H438.54z"/>
<path fill="#50ffaf" d="M412.02 344.09H413.58V346.38H412.02zM433.86 344.09H435.42V346.38H433.86zM390.18 341.8H391.74V344.09H390.18zM429.18 337.22H430.74V339.51H429.18zM419.82 330.35H422.94V332.64H419.82zM435.42 330.35H436.98V332.64H435.42z"/>
<path fill="#60ff9f" d="M419.82 346.38H421.38V348.67H419.82zM405.78 344.09H407.34V346.38H405.78zM410.46 344.09H412.02V346.38H410.46zM404.22 339.51H405.78V341.8H404.22zM410.46 339.51H412.02V341.8H410.46zM408.9 337.22H410.46V339.51H408.9zM415.14 337.22H416.7V339.51H415.14zM432.3 334.93H433.86V337.22H432.3zM447.9 334.93H449.46V337.22H447.9zM432.3 332.64H433.86V334.93H432.3zM436.98 332.64H438.54V334.93H436.98zM440.1 332.64H443.22V334.93H440.1zM427.62 328.06H429.18V330.35H427.62z"/>
<path fill="#70ff8f" d="M426.06 348.67H427.62V350.96H426.06zM421.38 346.38H422.94V348.67H421.38zM427.62 346.38H429.18V348.67H427.62zM415.14 344.09H416.7V346.38H415.14zM407.34 341.8H408.9V344.09H407.34zM396.42 339.51H397.98V341.8H396.42zM438.54 339.51H440.1V341.8H438.54zM399.54 337.22H401.1V339.51H399.54zM413.58 337.22H415.14V339.51H413.58zM387.06 334.93H388.62V337.22H387.06zM412.02 334.93H415.14V337.22H412.02zM416.7 330.35H418.26V332.64H416.7zM426.06 330.35H427.62V332.64H426.06z"/>
<path fill="#80ff80" d="M418.26 346.38H419.82V348.67H418.26zM440.1 339.51H441.66V341.8H440.1zM432.3 337.22H433.86V339.51H432.3zM443.22 337.22H444.78V339.51H443.22zM438.54 334.93H440.1V337.22H438.54zM421.38 332.64H422.94V334.93H421.38zM427.62 330.35H429.18V332.64H427.62z"/>
<path fill="#8fff70" d="M426.06 344.09H427.62V346.38H426.06zM412.02 341.8H413.58V344.09H412.02zM407.34 339.51H408.9V341.8H407.34zM432.3 339.51H433.86V341.8H432.3zM430.74 337.22H432.3V339.51H430.74zM433.86 334.93H435.42V337.22H433.86zM436.98 334.93H438.54V337.22H436.98zM440.1 334.93H443.22V337.22H440.1z"/>
<path fill="#9fff60" d="M416.7 348.67H418.26V350.96H416.7zM415.14 346.38H418.26V348.67H415.14zM430.74 344.09H432.3V346.38H430.74zM415.14 341.8H416.7V344.09H415.14zM407.34 337.22H408.9V339.51H407.34zM429.18 330.35H430.74V332.64H429.18z"/>
<path fill="#afff50" d="M427.62 344.09H429.18V346.38H427.62zM433.86 341.8H435.42V344.09H433.86zM438.54 337.22H440.1V339.51H438.54zM416.7 332.64H418.26V334.93H416.7zM427.62 332.64H429.18V334.93H427.62z"/>
<path fill="#bfff40" d="M432.3 341.8H433.86V344.09H432.3zM429.18 339.51H430.74V341.8H429.18zM435.42 332.64H436.98V334.93H435.42z"/>
<path fill="#cfff30" d="M426.06 346.38H427.62V348.67H426.06zM421.38 344.09H422.94V346.38H421.38zM413.58 341.8H415.14V344.09H413.58zM418.26 341.8H421.38V344.09H418.26zM430.74 341.8H432.3V344.09H430.74zM426.06 339.51H427.62V341.8H426.06zM424.5 334.93H426.06V337.22H424.5zM413.58 330.35H415.14V332.64H413.58z"/>
<path fill="#dfff20" d="M424.5 346.38H426.06V348.67H424.5zM422.94 344.09H424.5V346.38H422.94zM424.5 341.8H426.06V344.09H424.5zM429.18 341.8H430.74V344.09H429.18zM415.14 334.93H416.7V337.22H415.14zM424.5 330.35H426.06V332.64H424.5z"/>
<path fill="#efff10" d="M422.94 346.38H424.5V348.67H422.94zM410.46 337.22H412.02V339.51H410.46zM416.7 337.22H419.82V339.51H416.7zM415.14 332.64H416.7V334.93H415.14zM419.82 332.64H421.38V334.93H419.82z"/>
<path fill="#ffff00" d="M412.02 337.22H413.58V339.51H412.02zM418.26 334.93H419.82V337.22H418.26zM422.94 330.35H424.5V332.64H422.94z"/>
<path fill="#ffef00" d="M415.14 339.51H416.7V341.8H415.14zM418.26 339.51H419.82V341.8H418.26zM407.34 334.93H408.9V337.22H407.34z"/>
<path fill="#ffdf00" d="M429.18 344.09H430.74V346.38H429.18zM427.62 339.51H429.18V341.8H427.62zM429.18 334.93H430.74V337.22H429.18zM424.5 332.64H426.06V334.93H424.5zM429.18 332.64H430.74V334.93H429.18z"/>
<path fill="#ffcf00" d="M413.58 339.51H415.14V341.8H413.58zM433.86 337.22H435.42V339.51H433.86zM422.94 334.93H424.5V337.22H422.94z"/>
<path fill="#ffbf00" d="M419.82 344.09H421.38V346.38H419.82zM430.74 334.93H432.3V337.22H430.74zM418.26 332.64H419.82V334.93H418.26z"/>
<path fill="#ffaf00" d="M416.7 341.8H418.26V344.09H416.7zM421.38 337.22H422.94V339.51H421.38zM427.62 334.93H429.18V337.22H427.62zM422.94 332.64H424.5V334.93H422.94zM426.06 332.64H427.62V334.93H426.06z"/>
<path fill="#ff9f00" d="M427.62 341.8H429.18V344.09H427.62zM416.7 339.51H418.26V341.8H416.7zM419.82 339.51H421.38V341.8H419.82zM424.5 337.22H427.62V339.51H424.5zM419.82 334.93H421.38V337.22H419.82z"/>
<path fill="#ff8f00" d="M421.38 341.8H424.5V344.09H421.38zM419.82 337.22H421.38V339.51H419.82zM422.94 337.22H424.5V339.51H422.94zM421.38 334.93H422.94V337.22H421.38z"/>
<path fill="#ff8000" d="M421.38 339.51H422.94V341.8H421.38zM416.7 334.93H418.26V337.22H416.7z"/>
<path fill="#ff6000" d="M418.26 344.09H419.82V346.38H418.26zM422.94 339.51H424.5V341.8H422.94zM427.62 337.22H429.18V339.51H427.62z"/>
<path fill="#ff5000" d="M426.06 334.93H427.62V337.22H426.06z"/>
<path fill="#ff3000" d="M426.06 341.8H427.62V344.09H426.06z"/>
<path fill="#af0000" d="M424.5 339.51H426.06V341.8H424.5z"/></g>
<path stroke="#828282" stroke-width="0.6" fill="none" d="M315.3 433.4v-1.8M315.3 250.2v1.8M346.5 433.4v-1.8M346.5 250.2v1.8M377.7 433.4v-1.8M377.7 250.2v1.8M408.9 433.4v-1.8M408.9 250.2v1.8M440.1 433.4v-1.8M440.1 250.2v1.8M471.3 433.4v-1.8M471.3 250.2v1.8M502.5 433.4v-1.8M502.5 250.2v1.8M315.3 433.4h1.8M502.5 433.4h-1.8M315.3 402.87h1.8M502.5 402.87h-1.8M315.3 372.33h1.8M502.5 372.33h-1.8M315.3 341.8h1.8M502.5 341.8h-1.8M315.3 311.27h1.8M502.5 311.27h-1.8M315.3 280.73h1.8M502.5 280.73h-1.8M315.3 250.2h1.8M502.5 250.2h-1.8"/>
<rect x="315.3" y="250.2" width="187.2" height="183.2" fill="none" stroke="#828282" stroke-width="1.1"/>
<text x="315.3" y="446.6" class="tl" text-anchor="middle" textLength="12.31" lengthAdjust="spacingAndGlyphs">120</text>
<text x="346.5" y="446.6" class="tl" text-anchor="middle" textLength="12.31" lengthAdjust="spacingAndGlyphs">140</text>
<text x="377.7" y="446.6" class="tl" text-anchor="middle" textLength="12.31" lengthAdjust="spacingAndGlyphs">160</text>
<text x="408.9" y="446.6" class="tl" text-anchor="middle" textLength="12.31" lengthAdjust="spacingAndGlyphs">180</text>
<text x="440.1" y="446.6" class="tl" text-anchor="middle" textLength="12.31" lengthAdjust="spacingAndGlyphs">200</text>
<text x="471.3" y="446.6" class="tl" text-anchor="middle" textLength="12.31" lengthAdjust="spacingAndGlyphs">220</text>
<text x="502.5" y="446.6" class="tl" text-anchor="middle" textLength="12.31" lengthAdjust="spacingAndGlyphs">240</text>
<text x="311.8" y="436.9" class="tl" text-anchor="end" textLength="10.66" lengthAdjust="spacingAndGlyphs">-15</text>
<text x="311.8" y="406.37" class="tl" text-anchor="end" textLength="10.66" lengthAdjust="spacingAndGlyphs">-10</text>
<text x="311.8" y="375.83" class="tl" text-anchor="end" textLength="6.56" lengthAdjust="spacingAndGlyphs">-5</text>
<text x="311.8" y="345.3" class="tl" text-anchor="end" textLength="4.1" lengthAdjust="spacingAndGlyphs">0</text>
<text x="311.8" y="314.77" class="tl" text-anchor="end" textLength="4.1" lengthAdjust="spacingAndGlyphs">5</text>
<text x="311.8" y="284.23" class="tl" text-anchor="end" textLength="8.21" lengthAdjust="spacingAndGlyphs">10</text>
<text x="311.8" y="253.7" class="tl" text-anchor="end" textLength="8.21" lengthAdjust="spacingAndGlyphs">15</text>
<text x="408.9" y="458.7" class="xl" text-anchor="middle">HY-2C TB23.8(K)</text>
<text transform="translate(296.2 341.8) rotate(-90)" class="yl" text-anchor="middle">TB23.8 HY2C-Jason3(K)</text>
<rect x="514.6" y="250.2" width="10" height="183.2" fill="url(#jet)"/>
<rect x="514.6" y="250.2" width="10" height="183.2" fill="none" stroke="#bbb" stroke-width="0.4"/>
<text x="527.8" y="436.9" class="cl" textLength="4.1" lengthAdjust="spacingAndGlyphs">0</text>
<text x="527.8" y="410.04" class="cl" textLength="8.21" lengthAdjust="spacingAndGlyphs">10</text>
<text x="527.8" y="383.18" class="cl" textLength="8.21" lengthAdjust="spacingAndGlyphs">20</text>
<text x="527.8" y="356.31" class="cl" textLength="8.21" lengthAdjust="spacingAndGlyphs">30</text>
<text x="527.8" y="329.45" class="cl" textLength="8.21" lengthAdjust="spacingAndGlyphs">40</text>
<text x="527.8" y="302.59" class="cl" textLength="8.21" lengthAdjust="spacingAndGlyphs">50</text>
<text x="527.8" y="275.73" class="cl" textLength="8.21" lengthAdjust="spacingAndGlyphs">60</text>
<path stroke="#828282" stroke-width="0.6" fill="none" d="M524.6 433.4h-1.5M524.6 406.54h-1.5M524.6 379.68h-1.5M524.6 352.81h-1.5M524.6 325.95h-1.5M524.6 299.09h-1.5M524.6 272.23h-1.5"/>
<text transform="translate(548.8 341.8) rotate(-90)" class="bl" text-anchor="middle">bin number</text>
<text x="419.7" y="477.8" class="pl" text-anchor="middle">(d)</text>
</svg>
</body></html>
